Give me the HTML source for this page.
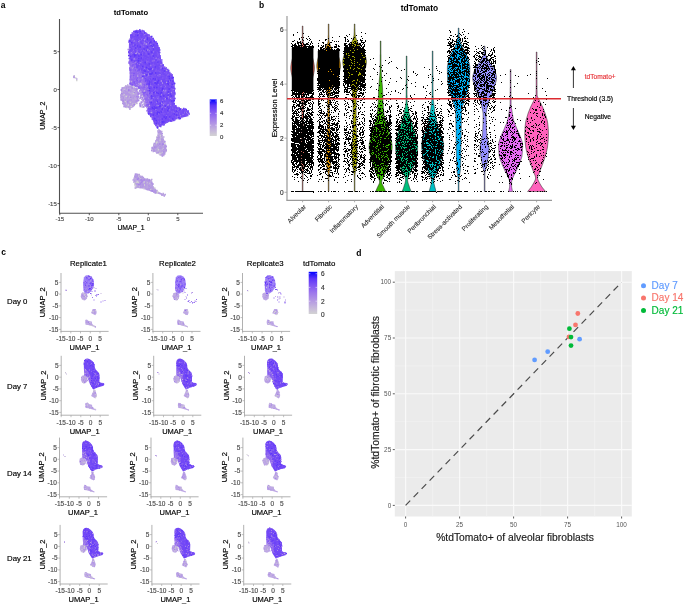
<!DOCTYPE html>
<html><head><meta charset="utf-8"><style>
html,body{margin:0;padding:0;background:#fff;width:685px;height:605px;overflow:hidden}
svg{display:block;font-family:"Liberation Sans", sans-serif;will-change:transform}
</style></head><body>
<svg width="685" height="605" viewBox="0 0 685 605">
<defs><linearGradient id="lg" x1="0" y1="1" x2="0" y2="0"><stop offset="0%" stop-color="#d3d3d3"/><stop offset="16.7%" stop-color="#c4b4dc"/><stop offset="33.3%" stop-color="#b296e4"/><stop offset="50%" stop-color="#9d77ec"/><stop offset="66.7%" stop-color="#8258f3"/><stop offset="83.3%" stop-color="#5e36f9"/><stop offset="100%" stop-color="#0000ff"/></linearGradient></defs>
<rect width="685" height="605" fill="#fff"/>
<text x="0.8" y="7.5" font-size="8.5" fill="#000" text-anchor="start" font-weight="bold">a</text>
<text x="130.9" y="14.9" font-size="7.7" fill="#000" text-anchor="middle" font-weight="bold">tdTomato</text>
<g>
<path d="M129 41.2L128.8 49.8L130.3 74.6L130.4 84.3L137.2 86.7L141.8 90.8L147.6 110.8L157.2 127.9L169.5 121.8L180.6 118.1L187.2 116.5L189.5 112.4L186.7 109.6L179.3 108.3L174.1 104.7L174.9 92.4L174.7 83.4L172.9 76.1L168 70L162.9 64.9L160.2 57.4L159.8 49.9L157.5 43.8L151.9 37.1L145.8 32.2L139.8 30.1L135 31L130.9 34.5L129 41.2Z" fill="#784ef5" fill-opacity="1.0"/>
<path d="M129.5 60.9L130.3 74.6L130.4 84.3L137.2 86.7L141.8 90.8L147.3 110L148.6 107.9L149.6 95L145.6 82.2L139.7 72.2L133.7 64.3L129.5 60.9Z" fill="#966eee" fill-opacity="1.0"/>
<path d="M121.6 87.7L120.3 97.3L123.9 106.4L129.9 108.8L133.3 107.2L137.1 102.8L138.6 95L137.1 89.2L132.8 85.9L127.5 85.2L121.6 87.7Z" fill="#b79ee2" fill-opacity="1.0"/>
<path d="M158.7 129.1L156.9 137.1L153.9 145.1L151.5 150L162.8 156.6L165.5 152.8L166.5 147L161.2 130.8L158.7 129.1Z" fill="#b79ee2" fill-opacity="1.0"/>
<path d="M134.8 173.2L133.7 179.7L134.9 187.6L142 188.6L164 195.8L164.7 194.4L157.8 191.5L153 186.5L151.9 179.6L148.7 179.6L143.1 177.6L138.3 173.7L134.8 173.2Z" fill="#b79ee2" fill-opacity="1.0"/>
<path transform="scale(.5)" stroke="#d3d3d3" stroke-width="3" d="M147 152h3m0 4h3m-1 5h3m95 11h3m-3 2h3m13 0h3m-18 2h3m28 1h3m-30 1h3m-11 1h3m1 0h3m16 0h3m1 0h3m2 2h3m-26 3h3m8 0h3m12 0h3m0 0h3m-26 3h3m1 0h3m-27 1h3m14 1h3m-21 1h3m3 0h3m35 0h3m-31 1h3m24 1h3m-43 1h3m4 0h3m3 1h3m-16 1h3m28 1h3m-18 2h3m0 2h3m8 0h3m-17 1h3m-18 1h3m40 0h3m-42 1h3m7 1h3m28 0h3m-21 3h3m-23 1h3m10 0h3m1 0h3m-17 2h3m3 3h3m18 0h3m-33 2h3m4 3h3m58 53h3m-4 1h3m1 1h3m-14 1h3m-2 0h3m4 0h3m-10 1h3m3 6h3m-11 3h3m-2 0h3m-3 3h3m0 0h3m10 0h3m-17 4h3m9 0h3m-22 3h3m-6 1h3m0 0h3m2 1h3m-5 1h3m12 1h3m-12 1h3m-16 1h3m8 0h3m-15 1h3m8 3h3m9 1h3m-11 1h3m0 0h3m-7 1h3m-43 43h3m-5 3h3m1 2h3m-4 1h3m0 0h3m-15 1h3m3 4h3m4 1h3m2 0h3m-17 2h3m0 0h3m9 1h3m3 0h3m-28 1h3m-1 1h3m2 0h3m21 0h3m-26 1h3m-11 1h3m32 0h3m-2 0h3m-19 1h3m-21 2h3m5 1h3m15 2h3m-29 1h3m35 0h3m-11 2h3m-3 1h3m10 3h3m-2 2h3m-8 1h3m0 1h3m8 4h3"/>
<path transform="scale(.5)" stroke="#ccc4d8" stroke-width="3" d="M266 136h3m3 10h3m4 8h3m-7 12h3m0 1h3m-1 0h3m-1 10h3m-6 4h3m5 1h3m-48 3h3m44 10h3m2 0h3m-2 1h3m-12 3h3m-2 3h3m-37 4h3m30 3h3m-11 1h3m31 73h3m-8 6h3m-24 88h3"/>
<path transform="scale(.5)" stroke="#c4b4dc" stroke-width="3" d="M257 125h3m3 12h3m7 6h3m-5 1h3m-15 2h3m-2 0h3m17 1h3m-16 4h3m-123 1h3m132 1h3m-12 2h3m8 0h3m-11 1h3m5 0h3m-15 1h3m6 3h3m-2 2h3m-2 0h3m-20 1h3m-1 0h3m18 0h3m-31 1h3m15 4h3m-18 1h3m-2 0h3m0 1h3m0 0h3m9 1h3m-1 0h3m-25 1h3m13 2h3m-23 2h3m-11 2h3m36 0h3m-23 1h3m7 0h3m-39 1h3m16 7h3m18 1h3m-15 5h3m-29 1h3m-9 1h3m1 0h3m19 0h3m-21 2h3m47 0h3m-55 1h3m21 0h3m-27 3h3m2 0h3m40 2h3m-15 2h3m-20 3h3m26 1h3m0 2h3m-7 3h3m-3 1h3m25 49h3m-8 4h3m3 6h3m-6 3h3m-3 3h3m-11 23h3m16 0h3m-19 1h3m-1 0h3m8 1h3m-11 5h3m-41 43h3m-17 3h3m13 0h3m10 3h3m-23 1h3m-8 2h3m27 0h3m-26 6h3m14 3h3m4 9h3m23 10h3"/>
<path transform="scale(.5)" stroke="#bba5e0" stroke-width="3" d="M269 68h3m15 12h3m-24 2h3m22 6h3m11 7h3m-21 4h3m-20 2h3m10 1h3m-15 6h3m-15 21h3m3 0h3m6 10h3m55 2h3m-75 1h3m24 1h3m-24 2h3m1 2h3m31 1h3m-47 1h3m24 0h3m-18 1h3m-2 3h3m-2 0h3m0 0h3m-15 1h3m9 0h3m-133 1h3m2 3h3m118 1h3m10 1h3m-1 0h3m49 0h3m-82 2h3m11 0h3m-10 1h3m4 0h3m54 2h3m-81 5h3m24 0h3m7 0h3m-33 1h3m11 0h3m-28 1h3m-1 1h3m-4 2h3m-8 1h3m10 0h3m-6 1h3m-1 0h3m11 0h3m-21 1h3m35 0h3m-40 1h3m7 1h3m24 0h3m0 0h3m-52 1h3m6 0h3m2 0h3m1 0h3m-20 1h3m6 1h3m-12 1h3m9 0h3m10 0h3m11 0h3m-43 1h3m48 0h3m-38 1h3m22 1h3m-36 1h3m36 0h3m-35 1h3m-24 1h3m16 0h3m-15 1h3m4 0h3m34 0h3m-51 2h3m28 0h3m-2 0h3m-21 2h3m2 0h3m1 0h3m-28 1h3m6 0h3m-1 0h3m9 0h3m-21 1h3m7 0h3m19 0h3m59 0h3m1 0h3m-104 1h3m2 0h3m17 0h3m-12 1h3m2 0h3m15 0h3m-44 1h3m16 0h3m0 0h3m-22 1h3m45 0h3m-43 1h3m5 0h3m-17 1h3m12 0h3m-8 1h3m-5 2h3m15 0h3m6 0h3m5 0h3m30 0h3m-47 1h3m-21 2h3m3 0h3m22 0h3m31 0h3m-62 2h3m22 0h3m21 0h3m-68 1h3m-6 1h3m33 1h3m6 0h3m59 6h3m-50 18h3m6 22h3m-5 2h3m5 1h3m-7 1h3m0 1h3m-6 8h3m5 1h3m-6 2h3m-4 4h3m-15 2h3m12 1h3m-9 1h3m6 0h3m-14 1h3m-11 3h3m-2 0h3m2 0h3m-12 2h3m4 1h3m-2 0h3m0 0h3m-2 0h3m-15 2h3m20 0h3m-24 2h3m4 0h3m9 0h3m-27 1h3m16 0h3m-16 1h3m6 0h3m0 2h3m7 0h3m-21 1h3m3 0h3m-2 1h3m7 1h3m-28 1h3m4 1h3m4 0h3m-8 1h3m-5 1h3m13 0h3m-3 2h3m-5 3h3m-57 38h3m2 0h3m-12 4h3m-2 0h3m11 0h3m-7 1h3m0 0h3m-17 2h3m12 0h3m-2 0h3m-10 1h3m3 0h3m0 0h3m-22 1h3m23 0h3m6 1h3m-29 1h3m-4 1h3m0 0h3m-1 1h3m2 0h3m9 0h3m-23 1h3m3 0h3m-20 1h3m23 1h3m6 1h3m-34 1h3m19 0h3m-20 1h3m26 0h3m-34 1h3m-1 1h3m7 0h3m-13 1h3m14 0h3m3 0h3m-6 1h3m0 1h3m-14 1h3m3 0h3m9 0h3m-36 1h3m2 0h3m13 0h3m4 0h3m-34 1h3m34 2h3m0 1h3m-9 2h3m6 0h3m-7 2h3m0 2h3m11 2h3m1 2h3m-8 1h3"/>
<path transform="scale(.5)" stroke="#b296e4" stroke-width="3" d="M285 66h3m-2 1h3m8 5h3m-13 5h3m-31 1h3m22 0h3m-22 1h3m18 0h3m-30 1h3m16 0h3m-5 4h3m9 1h3m-10 4h3m3 0h3m10 0h3m0 0h3m-39 1h3m31 2h3m-45 5h3m38 1h3m-6 3h3m-27 2h3m-4 1h3m7 0h3m20 0h3m9 1h3m-62 1h3m1 0h3m11 1h3m11 0h3m-23 1h3m29 1h3m-48 2h3m17 1h3m28 2h3m0 3h3m-47 1h3m6 3h3m34 2h3m-46 1h3m5 1h3m-4 3h3m40 2h3m-58 4h3m53 2h3m-58 1h3m18 2h3m5 1h3m-20 1h3m38 3h3m-26 4h3m35 1h3m-42 3h3m16 0h3m-171 2h3m115 0h3m31 4h3m-12 3h3m29 1h3m13 0h3m-40 1h3m6 0h3m12 3h3m8 2h3m-74 2h3m33 1h3m-9 1h3m24 1h3m4 0h3m-70 1h3m-13 1h3m2 0h3m-16 1h3m22 1h3m0 0h3m-23 1h3m19 0h3m20 1h3m9 0h3m-69 1h3m25 0h3m-25 1h3m8 0h3m-2 0h3m62 0h3m-72 1h3m12 0h3m4 0h3m25 0h3m-59 1h3m7 0h3m15 0h3m-7 1h3m2 0h3m0 0h3m-2 0h3m-40 1h3m5 0h3m16 0h3m65 0h3m-43 1h3m5 0h3m-61 1h3m20 0h3m1 0h3m0 0h3m35 0h3m4 0h3m19 0h3m-109 1h3m-2 0h3m4 0h3m0 0h3m-1 0h3m27 0h3m-31 1h3m14 0h3m58 0h3m-79 1h3m20 0h3m16 0h3m17 0h3m3 0h3m-89 2h3m12 0h3m22 0h3m4 0h3m-49 1h3m22 0h3m-25 1h3m26 0h3m37 0h3m18 0h3m-93 1h3m6 0h3m48 0h3m27 0h3m-73 1h3m5 0h3m8 1h3m2 0h3m37 0h3m-87 1h3m36 0h3m-46 1h3m17 0h3m-21 1h3m3 0h3m6 0h3m-4 1h3m2 0h3m6 0h3m2 0h3m44 0h3m-72 1h3m27 0h3m-17 1h3m39 1h3m29 0h3m-100 2h3m-6 1h3m10 0h3m27 0h3m0 0h3m-47 1h3m4 0h3m23 0h3m65 0h3m-70 2h3m6 0h3m20 0h3m20 0h3m-13 2h3m-81 1h3m-1 0h3m34 0h3m46 0h3m-88 1h3m70 1h3m17 2h3m-88 1h3m100 0h3m-53 1h3m55 0h3m-25 2h3m-14 2h3m7 0h3m-54 2h3m4 0h3m67 0h3m-76 1h3m14 1h3m12 3h3m26 3h3m-57 10h3m9 0h3m-13 1h3m3 0h3m10 1h3m-11 18h3m-4 1h3m-6 1h3m5 2h3m-4 5h3m-12 3h3m0 0h3m3 4h3m-2 4h3m2 0h3m-24 4h3m4 1h3m8 0h3m-5 2h3m-11 1h3m12 0h3m-6 1h3m-18 1h3m4 0h3m9 0h3m-5 1h3m-29 1h3m-1 1h3m0 0h3m-1 0h3m-2 0h3m7 0h3m4 0h3m-28 1h3m-2 0h3m11 0h3m8 0h3m-6 2h3m-23 1h3m-7 1h3m26 0h3m-27 1h3m5 3h3m9 2h3m-5 1h3m-5 4h3m-56 37h3m1 1h3m-8 3h3m1 0h3m-6 2h3m7 0h3m2 0h3m-13 1h3m4 3h3m8 0h3m-31 1h3m11 1h3m3 0h3m3 0h3m-2 0h3m2 1h3m-5 1h3m-16 1h3m-2 1h3m16 0h3m-16 1h3m9 1h3m-31 1h3m28 0h3m-24 1h3m-1 1h3m2 0h3m10 0h3m-10 1h3m-20 1h3m2 1h3m10 0h3m-20 2h3m13 1h3m1 0h3m-6 2h3m-7 1h3m4 2h3m0 0h3m3 0h3m-5 2h3m-4 1h3m0 0h3m-3 2h3m10 4h3m2 2h3"/>
<path transform="scale(.5)" stroke="#a886e8" stroke-width="3" d="M266 65h3m4 0h3m12 1h3m-4 1h3m-14 1h3m10 0h3m-5 2h3m7 0h3m-22 3h3m9 3h3m-12 3h3m7 0h3m8 0h3m-34 2h3m15 2h3m14 0h3m-50 3h3m33 0h3m0 4h3m-28 3h3m9 0h3m-27 2h3m13 0h3m35 0h3m-10 2h3m-56 2h3m27 0h3m6 1h3m-33 1h3m19 0h3m0 0h3m-18 2h3m6 0h3m-10 3h3m-2 1h3m-18 1h3m18 1h3m31 9h3m-40 4h3m-15 2h3m-1 1h3m-16 1h3m20 0h3m-3 1h3m-15 1h3m51 1h3m-57 3h3m56 2h3m-2 0h3m-70 1h3m2 0h3m19 2h3m13 1h3m-7 1h3m0 1h3m-47 1h3m2 1h3m2 2h3m9 0h3m-8 3h3m37 0h3m-51 2h3m47 0h3m-1 0h3m20 1h3m-85 3h3m1 2h3m6 0h3m5 3h3m-16 2h3m72 0h3m-82 5h3m38 1h3m-8 2h3m32 0h3m-23 1h3m-32 2h3m1 0h3m52 0h3m-61 1h3m-6 1h3m57 0h3m-46 1h3m-42 2h3m11 0h3m12 0h3m24 0h3m26 2h3m-79 1h3m70 0h3m-107 1h3m28 0h3m3 1h3m49 0h3m-4 1h3m-26 1h3m20 0h3m-65 2h3m5 1h3m24 0h3m-63 1h3m91 0h3m-63 1h3m-4 1h3m2 1h3m20 1h3m-34 2h3m11 0h3m-1 0h3m-16 1h3m1 0h3m6 0h3m-31 1h3m20 0h3m-6 1h3m52 0h3m-64 2h3m37 0h3m-31 1h3m13 1h3m23 0h3m15 0h3m-74 1h3m7 0h3m11 0h3m11 0h3m28 0h3m-102 1h3m25 0h3m34 1h3m-59 1h3m24 0h3m3 0h3m-8 1h3m41 2h3m9 0h3m4 0h3m-81 2h3m13 1h3m2 0h3m-1 0h3m47 0h3m-64 1h3m7 0h3m-13 2h3m4 1h3m40 1h3m23 0h3m-53 2h3m29 2h3m8 6h3m16 0h3m-74 1h3m55 0h3m17 0h3m-59 1h3m36 1h3m-30 1h3m31 0h3m-7 3h3m-61 1h3m49 0h3m5 2h3m-26 1h3m12 1h3m1 0h3m-4 1h3m-18 4h3m-22 3h3m-12 5h3m-1 2h3m-1 36h3m3 0h3m-2 1h3m-20 5h3m15 10h3m-54 53h3m-4 2h3m4 1h3m3 0h3m7 0h3m-17 2h3m-5 3h3m-5 3h3m-6 1h3m24 13h3"/>
<path transform="scale(.5)" stroke="#9d77ec" stroke-width="3" d="M290 67h3m2 19h3m-1 1h3m-2 1h3m-28 3h3m-4 6h3m-17 1h3m9 5h3m-4 1h3m-14 18h3m4 5h3m6 0h3m-13 2h3m-4 1h3m34 1h3m-38 1h3m-1 0h3m-2 0h3m-2 0h3m-9 1h3m1 0h3m-9 1h3m4 0h3m-12 1h3m6 2h3m-2 0h3m-7 2h3m6 1h3m-6 1h3m-4 1h3m-1 0h3m-11 1h3m-1 0h3m5 1h3m-5 1h3m-13 1h3m8 0h3m-5 1h3m-14 1h3m1 0h3m1 1h3m12 0h3m-27 1h3m6 0h3m9 0h3m-19 1h3m-1 1h3m-1 1h3m6 0h3m38 0h3m-55 2h3m-2 0h3m5 0h3m-1 0h3m24 1h3m-42 1h3m2 0h3m5 0h3m-18 1h3m11 0h3m-21 1h3m0 0h3m21 0h3m-28 1h3m7 0h3m2 0h3m8 0h3m-22 1h3m-1 0h3m-14 1h3m2 0h3m2 0h3m8 0h3m-19 1h3m23 0h3m-11 1h3m4 0h3m-27 1h3m9 0h3m5 0h3m0 0h3m-29 1h3m8 0h3m1 0h3m10 0h3m-34 1h3m24 0h3m2 0h3m-28 1h3m-2 1h3m14 0h3m-2 1h3m-19 1h3m1 0h3m9 0h3m-15 1h3m-2 0h3m1 0h3m2 0h3m-15 1h3m-1 0h3m4 1h3m3 0h3m-6 1h3m-4 1h3m2 0h3m1 0h3m-10 1h3m-1 1h3m-9 1h3m3 0h3m1 0h3m-37 1h3m22 0h3m1 0h3m-5 1h3m4 0h3m-1 0h3m-11 1h3m3 0h3m1 1h3m-1 0h3m-10 2h3m-5 1h3m0 0h3m-2 0h3m-2 1h3m-7 1h3m-4 1h3m1 0h3m-8 1h3m7 0h3m-11 1h3m-3 1h3m-2 0h3m3 0h3m-5 1h3m-2 1h3m0 0h3m-10 1h3m1 1h3m1 0h3m-13 1h3m-2 1h3m0 0h3m-4 2h3m3 0h3m-10 1h3m2 0h3m-8 1h3m-1 0h3m-5 3h3m1 0h3m-1 1h3m-3 1h3m0 2h3m-8 1h3m-7 2h3m1 9h3m-4 1h3m16 0h3m5 25h3"/>
<path transform="scale(.5)" stroke="#9068ef" stroke-width="3" d="M267 70h3m27 2h3m0 2h3m-47 10h3m30 2h3m5 3h3m-2 1h3m-33 3h3m-6 2h3m29 1h3m-13 3h3m-19 4h3m-13 4h3m25 2h3m-23 10h3m35 2h3m-17 1h3m8 0h3m-50 1h3m32 1h3m-33 1h3m-5 1h3m5 1h3m21 1h3m-36 1h3m2 1h3m0 0h3m-10 1h3m4 0h3m-3 1h3m-2 0h3m-3 1h3m-13 3h3m6 1h3m-12 1h3m1 0h3m1 0h3m-8 1h3m62 1h3m-68 1h3m1 0h3m6 0h3m-1 0h3m23 0h3m-46 1h3m8 0h3m-2 1h3m-7 1h3m1 0h3m-14 1h3m6 0h3m-2 0h3m-2 0h3m4 0h3m18 0h3m-43 1h3m1 0h3m-1 0h3m1 0h3m4 0h3m-18 1h3m11 0h3m2 0h3m-14 1h3m0 0h3m66 0h3m-17 1h3m-59 1h3m4 0h3m-21 1h3m8 0h3m8 0h3m-23 1h3m5 0h3m4 0h3m-9 1h3m4 1h3m-16 1h3m12 0h3m7 0h3m-24 1h3m-1 0h3m4 0h3m19 0h3m13 0h3m-33 1h3m-30 1h3m5 0h3m10 0h3m-21 1h3m6 0h3m12 0h3m-24 1h3m13 0h3m52 0h3m-66 1h3m5 0h3m1 0h3m-2 0h3m-5 1h3m-2 0h3m-22 1h3m1 0h3m1 0h3m22 0h3m-35 1h3m5 0h3m0 0h3m6 0h3m-2 0h3m-2 0h3m-28 1h3m7 0h3m-18 1h3m11 0h3m13 0h3m1 0h3m-37 1h3m0 0h3m6 0h3m-1 0h3m-7 1h3m-13 1h3m-1 0h3m-2 0h3m1 0h3m-2 0h3m15 0h3m-25 1h3m2 0h3m17 0h3m-20 1h3m-5 1h3m73 0h3m-73 1h3m-2 0h3m-1 1h3m62 0h3m-64 1h3m-1 0h3m-2 0h3m33 0h3m-45 1h3m1 0h3m50 0h3m-56 1h3m0 0h3m2 0h3m-8 1h3m2 0h3m-2 2h3m-2 1h3m0 2h3m-16 1h3m-2 0h3m6 0h3m1 0h3m-16 1h3m0 1h3m3 1h3m16 0h3m-30 2h3m-1 0h3m1 0h3m1 1h3m-11 1h3m4 0h3m-3 1h3m-2 0h3m-1 3h3m2 0h3m4 0h3m-19 1h3m1 0h3m42 1h3m-55 1h3m-2 0h3m48 0h3m-53 1h3m-4 1h3m1 0h3m-1 0h3m22 1h3m-26 1h3m-8 1h3m-5 2h3m-1 0h3m-2 6h3m-5 2h3m1 2h3m50 3h3m-60 3h3m5 1h3m19 0h3m30 2h3m-1 11h3m-58 3h3m20 4h3m-7 3h3"/>
<path transform="scale(.5)" stroke="#8258f3" stroke-width="3" d="M278 60h3m-9 1h3m8 0h3m-11 1h3m4 1h3m-13 2h3m-12 1h3m0 1h3m22 0h3m-9 1h3m-23 1h3m-2 0h3m9 0h3m14 1h3m-9 1h3m-1 0h3m3 0h3m-39 1h3m12 0h3m-11 1h3m-2 0h3m-2 0h3m16 0h3m-22 1h3m13 2h3m-24 1h3m7 0h3m2 0h3m-9 1h3m8 0h3m10 0h3m-2 0h3m3 0h3m-48 1h3m14 0h3m-2 0h3m11 0h3m-30 1h3m33 0h3m-2 0h3m-40 2h3m30 0h3m-40 1h3m21 0h3m2 0h3m11 0h3m-13 1h3m8 0h3m-37 1h3m-15 1h3m-1 0h3m10 0h3m-1 0h3m0 0h3m3 0h3m6 2h3m16 0h3m-21 1h3m-36 1h3m44 0h3m-50 1h3m13 0h3m-23 1h3m25 0h3m11 0h3m-36 1h3m13 0h3m-25 1h3m2 0h3m0 0h3m0 1h3m4 0h3m-2 0h3m18 0h3m-26 1h3m34 0h3m-1 0h3m-48 1h3m23 0h3m-35 1h3m15 0h3m-16 1h3m-11 1h3m2 0h3m-1 1h3m-5 1h3m25 0h3m-43 1h3m21 0h3m13 0h3m3 1h3m2 0h3m-46 1h3m24 0h3m-35 1h3m52 0h3m-26 1h3m3 0h3m-16 1h3m0 0h3m-1 0h3m9 0h3m3 1h3m5 0h3m-46 1h3m-18 1h3m8 0h3m-2 0h3m-2 0h3m0 0h3m1 0h3m9 0h3m3 0h3m5 0h3m-20 1h3m25 0h3m-40 1h3m3 0h3m9 0h3m3 0h3m-42 1h3m25 0h3m16 0h3m-32 1h3m-2 0h3m-1 0h3m20 0h3m-2 0h3m9 0h3m-3 1h3m-47 1h3m40 0h3m-27 1h3m16 0h3m-45 1h3m10 0h3m-9 1h3m-21 1h3m-1 0h3m49 0h3m1 0h3m-26 1h3m-34 1h3m-1 0h3m11 0h3m0 0h3m10 0h3m-9 1h3m7 0h3m-46 2h3m52 0h3m-31 1h3m-6 1h3m-18 1h3m28 0h3m5 0h3m-44 1h3m7 1h3m-1 0h3m41 0h3m1 0h3m-64 1h3m22 0h3m16 0h3m13 0h3m-8 1h3m0 0h3m-30 1h3m-29 1h3m6 0h3m2 0h3m24 0h3m-16 1h3m2 0h3m-29 3h3m1 0h3m19 0h3m-45 1h3m7 0h3m17 0h3m19 0h3m14 0h3m-57 2h3m5 0h3m15 0h3m7 0h3m2 0h3m6 0h3m0 0h3m-42 1h3m2 0h3m7 0h3m13 0h3m5 0h3m-44 1h3m-8 1h3m8 0h3m3 0h3m10 0h3m14 0h3m7 0h3m-53 1h3m41 0h3m-69 1h3m-2 0h3m22 0h3m2 0h3m8 0h3m-7 1h3m-5 1h3m-1 0h3m0 0h3m17 0h3m-21 1h3m12 0h3m0 0h3m13 0h3m-80 1h3m29 0h3m1 0h3m14 0h3m18 0h3m-27 1h3m21 0h3m-48 1h3m21 0h3m-63 1h3m19 0h3m18 0h3m-1 0h3m25 0h3m-61 2h3m16 0h3m1 0h3m24 0h3m-30 1h3m2 0h3m31 0h3m-28 1h3m-42 1h3m14 0h3m39 0h3m1 0h3m-22 1h3m6 0h3m16 0h3m-74 1h3m3 1h3m7 0h3m13 0h3m11 0h3m-25 1h3m3 0h3m-2 0h3m-40 1h3m28 0h3m11 0h3m13 0h3m5 0h3m2 0h3m-77 2h3m48 0h3m-62 1h3m66 0h3m-19 1h3m14 0h3m13 0h3m-85 1h3m26 0h3m8 0h3m6 0h3m4 0h3m7 0h3m8 0h3m-55 1h3m12 0h3m3 0h3m1 0h3m-29 4h3m44 1h3m-61 1h3m40 0h3m0 0h3m-30 1h3m6 0h3m34 0h3m4 0h3m-31 2h3m19 0h3m-6 1h3m-48 1h3m16 1h3m26 0h3m1 0h3m-25 1h3m4 0h3m12 0h3m-50 1h3m-13 1h3m16 0h3m22 0h3m3 0h3m-56 1h3m12 0h3m26 1h3m9 0h3m-36 1h3m2 0h3m12 0h3m-29 1h3m0 0h3m25 0h3m11 0h3m-58 1h3m32 0h3m6 1h3m5 0h3m-2 0h3m-43 1h3m37 0h3m-32 1h3m10 0h3m-22 1h3m-15 1h3m12 0h3m20 0h3m6 0h3m-22 1h3m3 0h3m-36 1h3m-2 0h3m3 0h3m38 0h3m-50 1h3m35 1h3m-35 1h3m4 0h3m26 0h3m-20 1h3m-13 1h3m-16 1h3m38 0h3m-30 1h3m10 1h3m-27 1h3m21 0h3m5 0h3m-37 1h3m18 0h3m16 0h3m-43 1h3m22 0h3m6 0h3m-46 1h3m14 0h3m8 0h3m15 0h3m1 0h3m-1 0h3m-58 1h3m5 0h3m44 0h3m-41 1h3m38 1h3m-32 1h3m2 0h3m2 0h3m2 0h3m-39 1h3m1 2h3m33 0h3m-21 1h3m-21 1h3m-2 0h3m17 0h3m14 0h3m2 0h3m8 0h3m-2 0h3m7 0h3m-24 1h3m2 0h3m-57 1h3m10 0h3m5 0h3m16 0h3m16 0h3m-21 1h3m13 0h3m1 0h3m6 0h3m-48 1h3m44 0h3m-64 1h3m29 0h3m2 0h3m0 0h3m-57 1h3m17 0h3m31 0h3m-42 1h3m-19 1h3m-2 0h3m-2 0h3m33 0h3m15 0h3m0 0h3m-39 1h3m8 0h3m-15 1h3m1 0h3m1 0h3m14 0h3m-36 2h3m13 0h3m2 0h3m12 0h3m3 0h3m2 0h3m-10 1h3m0 0h3m7 0h3m9 0h3m-51 1h3m18 0h3m0 0h3m-2 0h3m-54 1h3m7 0h3m35 0h3m-42 1h3m39 0h3m-49 1h3m44 0h3m-28 1h3m0 0h3m-18 1h3m2 0h3m-1 1h3m14 0h3m0 0h3m-2 2h3m2 0h3m-44 1h3m15 0h3m-11 1h3m2 0h3m2 0h3m12 0h3m-20 1h3m5 1h3m-29 2h3m5 0h3m-9 1h3m-4 1h3m-1 0h3m-2 0h3m0 0h3m0 1h3m7 0h3m-4 1h3m-19 1h3m-2 0h3m4 1h3"/>
<path transform="scale(.5)" stroke="#7248f6" stroke-width="3" d="M278 60h3m-12 2h3m14 0h3m-23 1h3m2 0h3m0 0h3m-2 1h3m9 0h3m-3 2h3m-12 1h3m0 0h3m-1 0h3m-17 1h3m3 1h3m-18 1h3m-1 0h3m8 0h3m8 0h3m-17 1h3m8 0h3m-1 0h3m3 0h3m0 0h3m-35 1h3m0 0h3m14 0h3m7 0h3m-29 1h3m1 0h3m0 1h3m3 0h3m1 0h3m-23 2h3m11 0h3m10 0h3m-6 1h3m9 0h3m5 0h3m-35 2h3m3 0h3m-12 1h3m10 0h3m11 0h3m-1 0h3m-1 0h3m-47 1h3m25 0h3m9 0h3m7 0h3m-51 1h3m11 0h3m13 0h3m-12 1h3m6 0h3m9 0h3m-24 1h3m28 0h3m-33 1h3m9 0h3m5 0h3m5 0h3m-38 1h3m25 0h3m-22 1h3m-24 1h3m16 0h3m13 0h3m3 1h3m-2 0h3m-33 1h3m10 0h3m-14 1h3m-1 0h3m29 0h3m1 0h3m-20 1h3m-1 0h3m-38 1h3m0 0h3m37 0h3m-36 1h3m-1 0h3m0 0h3m13 0h3m-38 1h3m12 0h3m30 0h3m3 0h3m-27 1h3m3 0h3m11 0h3m3 0h3m-58 1h3m12 0h3m6 0h3m16 0h3m-6 1h3m5 0h3m1 0h3m-18 1h3m16 0h3m-61 1h3m1 0h3m2 0h3m13 0h3m1 0h3m21 0h3m3 0h3m-17 1h3m7 0h3m-47 1h3m10 0h3m29 0h3m-43 1h3m6 0h3m-18 1h3m10 0h3m9 0h3m3 0h3m6 0h3m-56 1h3m18 0h3m1 0h3m19 0h3m4 0h3m3 0h3m-1 0h3m-64 1h3m27 0h3m17 0h3m0 0h3m-25 1h3m3 0h3m4 0h3m-18 1h3m8 0h3m-37 1h3m8 0h3m30 0h3m-37 1h3m4 0h3m-2 0h3m-20 1h3m3 0h3m8 0h3m-2 0h3m1 0h3m-1 0h3m-1 0h3m17 0h3m-49 1h3m21 0h3m16 0h3m1 0h3m5 0h3m-44 1h3m8 0h3m-20 1h3m17 0h3m5 0h3m-8 1h3m10 0h3m3 0h3m-60 2h3m0 0h3m27 0h3m10 0h3m13 0h3m-22 1h3m-23 1h3m2 0h3m23 0h3m-37 1h3m3 0h3m-1 0h3m6 0h3m13 0h3m9 0h3m-54 1h3m5 1h3m17 0h3m9 0h3m-46 1h3m18 0h3m27 0h3m-47 1h3m44 0h3m-52 1h3m9 0h3m13 0h3m-27 1h3m6 0h3m13 0h3m-2 0h3m2 0h3m0 0h3m8 0h3m-49 1h3m22 0h3m-33 1h3m6 0h3m7 0h3m-2 0h3m-1 1h3m-15 1h3m9 0h3m15 0h3m3 0h3m-45 1h3m17 0h3m18 0h3m-46 1h3m21 0h3m13 0h3m-4 1h3m-42 2h3m14 0h3m22 0h3m-20 1h3m-2 0h3m14 0h3m8 0h3m1 0h3m-51 1h3m5 0h3m3 0h3m9 0h3m-30 1h3m16 0h3m10 0h3m8 0h3m-41 1h3m17 0h3m24 0h3m-60 1h3m2 0h3m38 0h3m-40 1h3m17 0h3m15 0h3m9 0h3m-38 1h3m-1 0h3m-1 0h3m-18 1h3m2 0h3m32 0h3m2 0h3m-45 1h3m20 1h3m5 0h3m-42 1h3m22 0h3m1 0h3m2 0h3m3 0h3m-29 1h3m14 0h3m0 0h3m-19 1h3m0 0h3m18 0h3m4 0h3m-15 1h3m1 0h3m-17 2h3m14 0h3m9 0h3m-59 2h3m12 0h3m31 0h3m-23 1h3m4 0h3m-10 1h3m1 0h3m-5 1h3m-2 0h3m20 0h3m-54 1h3m7 0h3m36 0h3m3 0h3m-31 1h3m-20 1h3m2 0h3m-2 0h3m1 0h3m15 0h3m-16 1h3m7 0h3m-37 1h3m4 0h3m8 0h3m-2 0h3m13 0h3m8 0h3m-49 1h3m1 0h3m4 0h3m-2 0h3m-3 1h3m9 0h3m8 0h3m-2 0h3m0 0h3m-19 2h3m-23 1h3m5 0h3m15 0h3m4 0h3m0 0h3m10 0h3m-52 1h3m0 0h3m18 0h3m13 0h3m0 0h3m9 0h3m-47 1h3m23 0h3m-41 1h3m2 0h3m1 0h3m13 0h3m-7 1h3m1 0h3m-2 0h3m-1 1h3m-27 1h3m-1 0h3m7 0h3m-1 0h3m14 1h3m15 0h3m-47 1h3m19 0h3m-14 1h3m3 0h3m13 0h3m7 0h3m-2 0h3m-30 1h3m14 0h3m-36 1h3m16 0h3m0 0h3m12 0h3m5 0h3m-42 1h3m24 0h3m-21 1h3m-14 2h3m10 0h3m18 0h3m4 0h3m-51 1h3m36 1h3m-2 0h3m-43 1h3m5 0h3m7 0h3m18 0h3m-24 1h3m-2 0h3m0 0h3m24 0h3m-39 1h3m3 0h3m3 0h3m6 0h3m-38 1h3m5 0h3m39 0h3m-25 1h3m-23 1h3m21 0h3m6 1h3m-41 1h3m3 0h3m7 0h3m5 0h3m0 0h3m2 0h3m6 0h3m-43 1h3m8 0h3m4 0h3m9 0h3m10 0h3m-43 1h3m1 0h3m26 0h3m-2 0h3m-33 1h3m6 0h3m9 0h3m-11 2h3m8 0h3m7 0h3m-12 1h3m11 0h3m-25 1h3m17 0h3m-43 2h3m1 0h3m-1 0h3m-1 0h3m5 0h3m13 0h3m-2 0h3m-31 1h3m30 0h3m-20 1h3m-2 0h3m-22 2h3m32 0h3m-48 1h3m3 1h3m6 0h3m2 0h3m22 0h3m-3 1h3m0 0h3m-50 1h3m42 0h3m-44 1h3m8 0h3m-8 1h3m30 0h3m-27 1h3m2 0h3m10 0h3m-31 1h3m38 0h3m-34 2h3m16 0h3m-28 1h3m2 0h3m-6 1h3m6 0h3m15 0h3m3 0h3m1 0h3m2 0h3m-64 1h3m5 0h3m9 0h3m-1 0h3m7 0h3m35 0h3m-71 1h3m-1 0h3m39 0h3m13 0h3m-28 1h3m-2 0h3m-2 0h3m5 0h3m21 0h3m-47 1h3m3 0h3m9 0h3m1 0h3m-2 0h3m-2 0h3m16 0h3m-57 1h3m5 0h3m6 0h3m25 0h3m-32 1h3m17 0h3m14 0h3m7 0h3m-82 1h3m36 0h3m9 0h3m0 0h3m-24 1h3m6 0h3m-33 1h3m20 0h3m15 0h3m3 0h3m7 0h3m-2 0h3m5 0h3m-72 1h3m57 0h3m2 0h3m-77 1h3m0 0h3m4 0h3m8 0h3m11 0h3m22 0h3m-52 1h3m10 0h3m20 0h3m31 0h3m-79 1h3m28 0h3m-1 0h3m6 0h3m16 0h3m-66 1h3m21 0h3m3 0h3m20 0h3m1 0h3m-50 1h3m-2 0h3m12 0h3m24 0h3m-1 0h3m11 0h3m-71 1h3m23 0h3m12 0h3m2 0h3m16 0h3m-56 1h3m0 0h3m8 0h3m32 0h3m-37 1h3m17 0h3m-44 2h3m18 0h3m10 0h3m0 0h3m11 0h3m-29 1h3m-29 1h3m-3 1h3m0 0h3m23 0h3m-2 1h3m-21 1h3m6 0h3m17 0h3m-42 1h3m20 0h3m-25 1h3m2 0h3m11 0h3m-12 1h3m2 0h3m-18 1h3m3 0h3m11 0h3m-19 1h3m10 0h3m-12 1h3m6 0h3m-7 1h3m-1 1h3m-8 1h3m-1 3h3m-9 3h3"/>
<path transform="scale(.5)" stroke="#5e36f9" stroke-width="3" d="M271 63h3m5 0h3m-13 1h3m1 1h3m12 1h3m-17 5h3m25 2h3m-12 3h3m-3 3h3m-38 3h3m46 1h3m-10 1h3m-41 1h3m33 1h3m12 1h3m-48 3h3m35 0h3m-8 1h3m-31 1h3m27 1h3m-27 1h3m11 0h3m-26 2h3m14 2h3m16 0h3m-18 3h3m8 3h3m-9 4h3m-32 1h3m11 0h3m-14 1h3m-17 1h3m9 1h3m5 0h3m26 0h3m-48 1h3m18 3h3m-8 1h3m-17 3h3m10 1h3m-2 1h3m35 2h3m-28 1h3m5 3h3m25 2h3m-44 3h3m22 1h3m-20 1h3m6 2h3m19 0h3m-30 1h3m0 1h3m-15 3h3m-1 0h3m35 0h3m-27 4h3m4 0h3m-15 2h3m0 0h3m-12 2h3m-11 3h3m50 0h3m5 2h3m-5 1h3m-41 1h3m29 0h3m-31 1h3m28 2h3m-27 1h3m21 0h3m1 1h3m-12 1h3m-40 1h3m13 0h3m-7 1h3m-6 1h3m0 0h3m1 0h3m17 1h3m10 0h3m-53 1h3m11 0h3m21 1h3m5 0h3m-4 5h3m-38 1h3m2 0h3m-17 2h3m23 0h3m10 1h3m-17 2h3m-29 1h3m35 3h3m-32 1h3m3 0h3m6 0h3m-9 2h3m1 1h3m17 0h3m-7 2h3m-36 2h3m21 0h3m12 0h3m-24 1h3m-21 3h3m27 1h3m12 4h3m-8 1h3m1 0h3m-36 1h3m7 1h3m-25 1h3m15 2h3m-3 5h3m7 0h3m-15 1h3m-13 1h3m24 0h3m-34 1h3m4 1h3m-1 0h3m-11 1h3m29 0h3m-32 1h3m13 0h3m33 1h3m9 0h3m-40 2h3m15 1h3m-41 2h3m4 0h3m-11 1h3m1 0h3m-24 3h3m14 0h3m31 0h3m-45 2h3m43 0h3m-27 4h3m1 0h3m4 0h3m15 1h3m-51 2h3m19 0h3m26 0h3m-39 1h3m18 0h3m-36 3h3m26 1h3m-20 1h3m0 1h3m-6 1h3m-15 2h3m-1 8h3"/>
</g>
<line x1="59.5" y1="19" x2="59.5" y2="213.3" stroke="#505050" stroke-width="1.1"/>
<line x1="59" y1="213.2" x2="203" y2="213.2" stroke="#505050" stroke-width="1.1"/>
<line x1="57.5" y1="51.7" x2="59.5" y2="51.7" stroke="#333" stroke-width="0.8"/>
<text x="56.8" y="53.8" font-size="6" fill="#4d4d4d" text-anchor="end" stroke="#4d4d4d" stroke-width="0.16">5</text>
<line x1="57.5" y1="89.5" x2="59.5" y2="89.5" stroke="#333" stroke-width="0.8"/>
<text x="56.8" y="91.6" font-size="6" fill="#4d4d4d" text-anchor="end" stroke="#4d4d4d" stroke-width="0.16">0</text>
<line x1="57.5" y1="127.6" x2="59.5" y2="127.6" stroke="#333" stroke-width="0.8"/>
<text x="56.8" y="129.7" font-size="6" fill="#4d4d4d" text-anchor="end" stroke="#4d4d4d" stroke-width="0.16">-5</text>
<line x1="57.5" y1="165.6" x2="59.5" y2="165.6" stroke="#333" stroke-width="0.8"/>
<text x="56.8" y="167.7" font-size="6" fill="#4d4d4d" text-anchor="end" stroke="#4d4d4d" stroke-width="0.16">-10</text>
<line x1="57.5" y1="203.6" x2="59.5" y2="203.6" stroke="#333" stroke-width="0.8"/>
<text x="56.8" y="205.7" font-size="6" fill="#4d4d4d" text-anchor="end" stroke="#4d4d4d" stroke-width="0.16">-15</text>
<line x1="59.8" y1="213.2" x2="59.8" y2="215.2" stroke="#333" stroke-width="0.8"/>
<text x="59.8" y="221.2" font-size="6" fill="#4d4d4d" text-anchor="middle" stroke="#4d4d4d" stroke-width="0.16">-15</text>
<line x1="89.3" y1="213.2" x2="89.3" y2="215.2" stroke="#333" stroke-width="0.8"/>
<text x="89.3" y="221.2" font-size="6" fill="#4d4d4d" text-anchor="middle" stroke="#4d4d4d" stroke-width="0.16">-10</text>
<line x1="118.8" y1="213.2" x2="118.8" y2="215.2" stroke="#333" stroke-width="0.8"/>
<text x="118.8" y="221.2" font-size="6" fill="#4d4d4d" text-anchor="middle" stroke="#4d4d4d" stroke-width="0.16">-5</text>
<line x1="148.3" y1="213.2" x2="148.3" y2="215.2" stroke="#333" stroke-width="0.8"/>
<text x="148.3" y="221.2" font-size="6" fill="#4d4d4d" text-anchor="middle" stroke="#4d4d4d" stroke-width="0.16">0</text>
<line x1="177.8" y1="213.2" x2="177.8" y2="215.2" stroke="#333" stroke-width="0.8"/>
<text x="177.8" y="221.2" font-size="6" fill="#4d4d4d" text-anchor="middle" stroke="#4d4d4d" stroke-width="0.16">5</text>
<text x="131" y="229.5" font-size="6.8" fill="#000" text-anchor="middle" stroke="#000" stroke-width="0.16">UMAP_1</text>
<text x="45.2" y="115.7" font-size="7" fill="#000" text-anchor="middle" stroke="#000" stroke-width="0.16" transform="rotate(-90 45.2 115.7)">UMAP_2</text>
<rect x="209.7" y="99.4" width="7.1" height="36.6" fill="url(#lg)"/>
<line x1="209.7" y1="100.9" x2="211.2" y2="100.9" stroke="#fff" stroke-width="0.5"/>
<line x1="215.3" y1="100.9" x2="216.8" y2="100.9" stroke="#fff" stroke-width="0.5"/>
<text x="220" y="103" font-size="6" fill="#333" text-anchor="start" stroke="#333" stroke-width="0.16">6</text>
<line x1="209.7" y1="113.3" x2="211.2" y2="113.3" stroke="#fff" stroke-width="0.5"/>
<line x1="215.3" y1="113.3" x2="216.8" y2="113.3" stroke="#fff" stroke-width="0.5"/>
<text x="220" y="115.4" font-size="6" fill="#333" text-anchor="start" stroke="#333" stroke-width="0.16">4</text>
<line x1="209.7" y1="125.2" x2="211.2" y2="125.2" stroke="#fff" stroke-width="0.5"/>
<line x1="215.3" y1="125.2" x2="216.8" y2="125.2" stroke="#fff" stroke-width="0.5"/>
<text x="220" y="127.3" font-size="6" fill="#333" text-anchor="start" stroke="#333" stroke-width="0.16">2</text>
<line x1="209.7" y1="137" x2="211.2" y2="137" stroke="#fff" stroke-width="0.5"/>
<line x1="215.3" y1="137" x2="216.8" y2="137" stroke="#fff" stroke-width="0.5"/>
<text x="220" y="139.1" font-size="6" fill="#333" text-anchor="start" stroke="#333" stroke-width="0.16">0</text>
<text x="259" y="7.8" font-size="8.5" fill="#000" text-anchor="start" font-weight="bold">b</text>
<text x="419.4" y="11.4" font-size="8.4" fill="#000" text-anchor="middle" font-weight="bold">tdTomato</text>
<path d="M302.9 26L302.9 27L302.9 28L302.9 29L302.9 30L302.9 31L302.9 32L302.9 33L302.9 34L302.9 35L302.9 36L303 37L303 38L303 39L303 40L303.1 41L303.3 42L303.5 43L303.9 44L304.3 45L304.7 46L305.2 47L305.6 48L306.1 49L306.8 50L307.6 51L308.4 52L309.3 53L310.1 54L310.9 55L311.6 56L312.2 57L312.6 58L312.9 59L313.2 60L313.4 61L313.6 62L313.9 63L314 64L314.2 65L314.3 66L314.4 67L314.4 68L314.4 69L314.3 70L314.2 71L314 72L313.8 73L313.6 74L313.4 75L313.1 76L312.9 77L312.6 78L312.2 79L311.8 80L311.2 81L310.5 82L309.8 83L309 84L308.3 85L307.7 86L307.1 87L306.6 88L306.2 89L305.7 90L305.3 91L304.9 92L304.5 93L304.1 94L303.8 95L303.6 96L303.5 97L303.4 98L303.4 99L303.4 100L303.4 101L303.4 102L303.4 103L303.4 104L303.4 105L303.4 106L303.4 107L303.4 108L303.4 109L303.4 110L303.4 111L303.4 112L303.4 113L303.4 114L303.4 115L303.4 116L303.4 117L303.4 118L303.4 119L303.4 120L303.4 121L303.4 122L303.4 123L303.4 124L303.5 125L303.5 126L303.5 127L303.6 128L303.6 129L303.6 130L303.7 131L303.7 132L303.7 133L303.8 134L303.8 135L303.8 136L303.9 137L303.9 138L303.9 139L304 140L304 141L304 142L304.1 143L304.1 144L304.1 145L304.2 146L304.2 147L304.2 148L304.2 149L304.2 150L304.2 151L304.2 152L304.2 153L304.2 154L304.1 155L304.1 156L304.1 157L304.1 158L304 159L304 160L304 161L303.9 162L303.9 163L303.8 164L303.8 165L303.7 166L303.7 167L303.6 168L303.5 169L303.4 170L303.3 171L303.2 172L303.1 173L303 174L303 175L303 176L302.9 177L302.9 178L302.9 179L302.9 180L302.9 181L302.9 182L302.9 183L302.9 184L302.9 185L302.9 186L302.9 187L302.9 188L302.9 189L302.9 190L302.9 191L302.9 191.5L302.3 191.5L302.3 191L302.3 190L302.3 189L302.3 188L302.3 187L302.3 186L302.3 185L302.3 184L302.3 183L302.3 182L302.3 181L302.3 180L302.3 179L302.3 178L302.3 177L302.2 176L302.2 175L302.2 174L302.1 173L302 172L301.9 171L301.8 170L301.7 169L301.6 168L301.5 167L301.5 166L301.4 165L301.4 164L301.3 163L301.3 162L301.2 161L301.2 160L301.2 159L301.1 158L301.1 157L301.1 156L301.1 155L301 154L301 153L301 152L301 151L301 150L301 149L301 148L301 147L301 146L301.1 145L301.1 144L301.1 143L301.2 142L301.2 141L301.2 140L301.3 139L301.3 138L301.3 137L301.4 136L301.4 135L301.4 134L301.5 133L301.5 132L301.5 131L301.6 130L301.6 129L301.6 128L301.7 127L301.7 126L301.7 125L301.8 124L301.8 123L301.8 122L301.8 121L301.8 120L301.8 119L301.8 118L301.8 117L301.8 116L301.8 115L301.8 114L301.8 113L301.8 112L301.8 111L301.8 110L301.8 109L301.8 108L301.8 107L301.8 106L301.8 105L301.8 104L301.8 103L301.8 102L301.8 101L301.8 100L301.8 99L301.8 98L301.7 97L301.6 96L301.4 95L301.1 94L300.7 93L300.3 92L299.9 91L299.5 90L299 89L298.6 88L298.1 87L297.5 86L296.9 85L296.2 84L295.4 83L294.7 82L294 81L293.4 80L293 79L292.6 78L292.3 77L292.1 76L291.8 75L291.6 74L291.4 73L291.2 72L291 71L290.9 70L290.8 69L290.8 68L290.8 67L290.9 66L291 65L291.2 64L291.3 63L291.6 62L291.8 61L292 60L292.3 59L292.6 58L293 57L293.6 56L294.3 55L295.1 54L295.9 53L296.8 52L297.6 51L298.4 50L299.1 49L299.6 48L300 47L300.5 46L300.9 45L301.3 44L301.7 43L301.9 42L302.1 41L302.2 40L302.2 39L302.2 38L302.2 37L302.3 36L302.3 35L302.3 34L302.3 33L302.3 32L302.3 31L302.3 30L302.3 29L302.3 28L302.3 27L302.3 26Z" fill="#F8766D" stroke="#222" stroke-width="0.5"/>
<path d="M328.9 24L328.9 25L328.9 26L328.9 27L328.9 28L328.9 29L328.9 30L328.9 31L328.9 32L328.9 33L328.9 34L328.9 35L329 36L329 37L329 38L329 39L329 40L329.1 41L329.2 42L329.5 43L329.8 44L330.2 45L330.6 46L331.1 47L331.6 48L332.1 49L332.6 50L333.2 51L334.1 52L335.1 53L336.1 54L337.1 55L338 56L338.7 57L339.1 58L339.4 59L339.6 60L339.8 61L340 62L340.2 63L340.3 64L340.4 65L340.4 66L340.4 67L340.3 68L340.1 69L339.9 70L339.7 71L339.4 72L339.2 73L338.9 74L338.6 75L338.3 76L337.8 77L337.3 78L336.7 79L336.1 80L335.5 81L334.8 82L334.2 83L333.5 84L332.9 85L332.4 86L332 87L331.6 88L331.3 89L331 90L330.7 91L330.4 92L330.1 93L329.9 94L329.7 95L329.5 96L329.4 97L329.4 98L329.4 99L329.4 100L329.4 101L329.4 102L329.4 103L329.4 104L329.4 105L329.4 106L329.4 107L329.4 108L329.4 109L329.4 110L329.4 111L329.5 112L329.5 113L329.5 114L329.5 115L329.5 116L329.5 117L329.5 118L329.5 119L329.5 120L329.5 121L329.6 122L329.6 123L329.6 124L329.6 125L329.6 126L329.7 127L329.7 128L329.8 129L329.8 130L329.9 131L330 132L330.1 133L330.1 134L330.2 135L330.3 136L330.4 137L330.5 138L330.5 139L330.6 140L330.7 141L330.7 142L330.8 143L330.9 144L330.9 145L331 146L331 147L331.1 148L331.1 149L331.2 150L331.2 151L331.2 152L331.2 153L331.2 154L331.2 155L331.1 156L331.1 157L331 158L331 159L330.9 160L330.9 161L330.8 162L330.7 163L330.7 164L330.6 165L330.5 166L330.4 167L330.2 168L330 169L329.8 170L329.6 171L329.4 172L329.2 173L329.1 174L329 175L329 176L328.9 177L328.9 178L328.9 179L328.9 180L328.9 181L328.9 182L328.9 183L328.9 184L328.9 185L328.9 186L328.9 187L328.9 188L328.9 189L328.9 190L328.9 191L328.9 191.5L328.3 191.5L328.3 191L328.3 190L328.3 189L328.3 188L328.3 187L328.3 186L328.3 185L328.3 184L328.3 183L328.3 182L328.3 181L328.3 180L328.3 179L328.3 178L328.3 177L328.2 176L328.2 175L328.1 174L328 173L327.8 172L327.6 171L327.4 170L327.2 169L327 168L326.8 167L326.7 166L326.6 165L326.5 164L326.5 163L326.4 162L326.3 161L326.3 160L326.2 159L326.2 158L326.1 157L326.1 156L326 155L326 154L326 153L326 152L326 151L326 150L326.1 149L326.1 148L326.2 147L326.2 146L326.3 145L326.3 144L326.4 143L326.5 142L326.5 141L326.6 140L326.7 139L326.7 138L326.8 137L326.9 136L327 135L327.1 134L327.1 133L327.2 132L327.3 131L327.4 130L327.4 129L327.5 128L327.5 127L327.6 126L327.6 125L327.6 124L327.6 123L327.6 122L327.7 121L327.7 120L327.7 119L327.7 118L327.7 117L327.7 116L327.7 115L327.7 114L327.7 113L327.7 112L327.8 111L327.8 110L327.8 109L327.8 108L327.8 107L327.8 106L327.8 105L327.8 104L327.8 103L327.8 102L327.8 101L327.8 100L327.8 99L327.8 98L327.8 97L327.7 96L327.5 95L327.3 94L327.1 93L326.8 92L326.5 91L326.2 90L325.9 89L325.6 88L325.2 87L324.8 86L324.3 85L323.7 84L323 83L322.4 82L321.7 81L321.1 80L320.5 79L319.9 78L319.4 77L318.9 76L318.6 75L318.3 74L318 73L317.8 72L317.5 71L317.3 70L317.1 69L316.9 68L316.8 67L316.8 66L316.8 65L316.9 64L317 63L317.2 62L317.4 61L317.6 60L317.8 59L318.1 58L318.5 57L319.2 56L320.1 55L321.1 54L322.1 53L323.1 52L324 51L324.6 50L325.1 49L325.6 48L326.1 47L326.6 46L327 45L327.4 44L327.7 43L328 42L328.1 41L328.2 40L328.2 39L328.2 38L328.2 37L328.2 36L328.3 35L328.3 34L328.3 33L328.3 32L328.3 31L328.3 30L328.3 29L328.3 28L328.3 27L328.3 26L328.3 25L328.3 24Z" fill="#D89000" stroke="#222" stroke-width="0.5"/>
<path d="M354.9 24L354.9 25L354.9 26L354.9 27L354.9 28L355 29L355 30L355 31L355 32L355.1 33L355.1 34L355.2 35L355.3 36L355.6 37L355.9 38L356.2 39L356.6 40L357 41L357.5 42L358 43L358.5 44L359 45L359.6 46L360.1 47L360.6 48L361.2 49L361.9 50L362.7 51L363.4 52L364.1 53L364.7 54L365.1 55L365.4 56L365.7 57L365.9 58L366.1 59L366.3 60L366.4 61L366.4 62L366.4 63L366.3 64L366.1 65L365.9 66L365.7 67L365.4 68L365.1 69L364.9 70L364.6 71L364.3 72L363.9 73L363.5 74L363.1 75L362.6 76L362.1 77L361.6 78L361.1 79L360.6 80L360.1 81L359.7 82L359.3 83L358.9 84L358.6 85L358.3 86L358.1 87L357.8 88L357.5 89L357.3 90L357 91L356.8 92L356.6 93L356.4 94L356.3 95L356.2 96L356.1 97L356.1 98L356.1 99L356.1 100L356.1 101L356.1 102L356.1 103L356.1 104L356.1 105L356.1 106L356.1 107L356.1 108L356.1 109L356.1 110L356.1 111L356.1 112L356.1 113L356.1 114L356.1 115L356.1 116L356.1 117L356.1 118L356.1 119L356.1 120L356.1 121L356.1 122L356.1 123L356.1 124L356.1 125L356.2 126L356.2 127L356.2 128L356.2 129L356.3 130L356.3 131L356.3 132L356.4 133L356.4 134L356.4 135L356.5 136L356.5 137L356.5 138L356.6 139L356.6 140L356.6 141L356.7 142L356.7 143L356.8 144L356.8 145L356.9 146L357 147L357 148L357 149L357.1 150L357.1 151L357.1 152L357.1 153L357.1 154L357.1 155L357 156L357 157L357 158L356.9 159L356.9 160L356.8 161L356.8 162L356.7 163L356.7 164L356.6 165L356.5 166L356.4 167L356.2 168L356 169L355.8 170L355.6 171L355.4 172L355.2 173L355.1 174L355 175L355 176L354.9 177L354.9 178L354.9 179L354.9 180L354.9 181L354.9 182L354.9 183L354.9 184L354.9 185L354.9 186L354.9 187L354.9 188L354.9 189L354.9 190L354.9 191L354.9 191.5L354.3 191.5L354.3 191L354.3 190L354.3 189L354.3 188L354.3 187L354.3 186L354.3 185L354.3 184L354.3 183L354.3 182L354.3 181L354.3 180L354.3 179L354.3 178L354.3 177L354.2 176L354.2 175L354.1 174L354 173L353.8 172L353.6 171L353.4 170L353.2 169L353 168L352.8 167L352.7 166L352.6 165L352.5 164L352.5 163L352.4 162L352.4 161L352.3 160L352.3 159L352.2 158L352.2 157L352.2 156L352.1 155L352.1 154L352.1 153L352.1 152L352.1 151L352.1 150L352.2 149L352.2 148L352.2 147L352.3 146L352.4 145L352.4 144L352.5 143L352.5 142L352.6 141L352.6 140L352.6 139L352.7 138L352.7 137L352.7 136L352.8 135L352.8 134L352.8 133L352.9 132L352.9 131L352.9 130L353 129L353 128L353 127L353 126L353.1 125L353.1 124L353.1 123L353.1 122L353.1 121L353.1 120L353.1 119L353.1 118L353.1 117L353.1 116L353.1 115L353.1 114L353.1 113L353.1 112L353.1 111L353.1 110L353.1 109L353.1 108L353.1 107L353.1 106L353.1 105L353.1 104L353.1 103L353.1 102L353.1 101L353.1 100L353.1 99L353.1 98L353.1 97L353 96L352.9 95L352.8 94L352.6 93L352.4 92L352.2 91L351.9 90L351.7 89L351.4 88L351.1 87L350.9 86L350.6 85L350.3 84L349.9 83L349.5 82L349.1 81L348.6 80L348.1 79L347.6 78L347.1 77L346.6 76L346.1 75L345.7 74L345.3 73L344.9 72L344.6 71L344.3 70L344.1 69L343.8 68L343.5 67L343.3 66L343.1 65L342.9 64L342.8 63L342.8 62L342.8 61L342.9 60L343.1 59L343.3 58L343.5 57L343.8 56L344.1 55L344.5 54L345.1 53L345.8 52L346.5 51L347.3 50L348 49L348.6 48L349.1 47L349.6 46L350.2 45L350.7 44L351.2 43L351.7 42L352.2 41L352.6 40L353 39L353.3 38L353.6 37L353.9 36L354 35L354.1 34L354.1 33L354.2 32L354.2 31L354.2 30L354.2 29L354.3 28L354.3 27L354.3 26L354.3 25L354.3 24Z" fill="#A3A500" stroke="#222" stroke-width="0.5"/>
<path d="M380.9 41L380.9 42L380.9 43L380.9 44L380.9 45L380.9 46L380.9 47L380.9 48L380.9 49L380.9 50L380.9 51L380.9 52L380.9 53L380.9 54L381 55L381 56L381 57L381 58L381 59L381 60L381 61L381 62L381 63L381 64L381.1 65L381.1 66L381.1 67L381.1 68L381.1 69L381.2 70L381.2 71L381.2 72L381.3 73L381.4 74L381.4 75L381.5 76L381.6 77L381.7 78L381.8 79L381.9 80L382 81L382 82L382.1 83L382.2 84L382.3 85L382.4 86L382.4 87L382.5 88L382.6 89L382.6 90L382.6 91L382.7 92L382.7 93L382.7 94L382.7 95L382.8 96L382.8 97L382.8 98L382.9 99L382.9 100L382.9 101L383 102L383 103L383.1 104L383.2 105L383.2 106L383.3 107L383.4 108L383.5 109L383.6 110L383.7 111L383.8 112L383.9 113L384 114L384.1 115L384.3 116L384.5 117L384.7 118L385 119L385.3 120L385.6 121L385.9 122L386.3 123L386.7 124L387 125L387.4 126L387.7 127L388 128L388.3 129L388.6 130L388.9 131L389.1 132L389.4 133L389.7 134L389.9 135L390.2 136L390.5 137L390.7 138L391 139L391.2 140L391.4 141L391.6 142L391.8 143L391.9 144L392 145L392.1 146L392.1 147L392.1 148L392 149L391.9 150L391.7 151L391.6 152L391.4 153L391.1 154L390.9 155L390.6 156L390.4 157L390.1 158L389.8 159L389.6 160L389.3 161L389.1 162L388.8 163L388.5 164L388.2 165L387.9 166L387.5 167L387.2 168L386.8 169L386.5 170L386.1 171L385.7 172L385.4 173L385 174L384.6 175L384.2 176L383.6 177L383 178L382.5 179L382 180L381.7 181L381.6 182L381.7 183L382.1 184L382.6 185L383.1 186L383.6 187L384 188L384.5 189L384.9 190L385.4 191L385.6 191.5L375.6 191.5L375.8 191L376.3 190L376.7 189L377.2 188L377.6 187L378.1 186L378.6 185L379.1 184L379.5 183L379.6 182L379.5 181L379.2 180L378.7 179L378.2 178L377.6 177L377 176L376.6 175L376.2 174L375.8 173L375.5 172L375.1 171L374.7 170L374.4 169L374 168L373.7 167L373.3 166L373 165L372.7 164L372.4 163L372.1 162L371.9 161L371.6 160L371.4 159L371.1 158L370.8 157L370.6 156L370.3 155L370.1 154L369.8 153L369.6 152L369.5 151L369.3 150L369.2 149L369.1 148L369.1 147L369.1 146L369.2 145L369.3 144L369.4 143L369.6 142L369.8 141L370 140L370.2 139L370.5 138L370.7 137L371 136L371.3 135L371.5 134L371.8 133L372.1 132L372.3 131L372.6 130L372.9 129L373.2 128L373.5 127L373.8 126L374.2 125L374.5 124L374.9 123L375.3 122L375.6 121L375.9 120L376.2 119L376.5 118L376.7 117L376.9 116L377.1 115L377.2 114L377.3 113L377.4 112L377.5 111L377.6 110L377.7 109L377.8 108L377.9 107L378 106L378 105L378.1 104L378.2 103L378.2 102L378.3 101L378.3 100L378.3 99L378.4 98L378.4 97L378.4 96L378.5 95L378.5 94L378.5 93L378.5 92L378.6 91L378.6 90L378.6 89L378.7 88L378.8 87L378.8 86L378.9 85L379 84L379.1 83L379.2 82L379.2 81L379.3 80L379.4 79L379.5 78L379.6 77L379.7 76L379.8 75L379.8 74L379.9 73L380 72L380 71L380 70L380.1 69L380.1 68L380.1 67L380.1 66L380.1 65L380.2 64L380.2 63L380.2 62L380.2 61L380.2 60L380.2 59L380.2 58L380.2 57L380.2 56L380.2 55L380.3 54L380.3 53L380.3 52L380.3 51L380.3 50L380.3 49L380.3 48L380.3 47L380.3 46L380.3 45L380.3 44L380.3 43L380.3 42L380.3 41Z" fill="#39B600" stroke="#222" stroke-width="0.5"/>
<path d="M406.9 56L406.9 57L406.9 58L406.9 59L406.9 60L406.9 61L406.9 62L406.9 63L406.9 64L406.9 65L406.9 66L406.9 67L406.9 68L406.9 69L406.9 70L406.9 71L406.9 72L406.9 73L406.9 74L406.9 75L406.9 76L406.9 77L406.9 78L406.9 79L406.9 80L407 81L407 82L407 83L407 84L407 85L407 86L407 87L407 88L407 89L407 90L407 91L407 92L407 93L407 94L407 95L407.1 96L407.1 97L407.1 98L407.1 99L407.1 100L407.1 101L407.2 102L407.3 103L407.5 104L407.6 105L407.8 106L407.9 107L408.1 108L408.3 109L408.5 110L408.7 111L408.9 112L409.1 113L409.4 114L409.6 115L409.9 116L410.1 117L410.4 118L410.8 119L411.1 120L411.4 121L411.7 122L412 123L412.3 124L412.6 125L412.9 126L413.2 127L413.4 128L413.7 129L414 130L414.3 131L414.7 132L415 133L415.3 134L415.5 135L415.8 136L416.1 137L416.3 138L416.6 139L416.8 140L417 141L417.2 142L417.3 143L417.4 144L417.5 145L417.6 146L417.6 147L417.6 148L417.6 149L417.5 150L417.4 151L417.3 152L417.2 153L417.1 154L416.9 155L416.8 156L416.6 157L416.4 158L416.2 159L416 160L415.8 161L415.6 162L415.3 163L414.9 164L414.5 165L413.9 166L413.4 167L412.8 168L412.2 169L411.6 170L411.1 171L410.6 172L410.1 173L409.7 174L409.2 175L408.7 176L408.2 177L407.9 178L407.7 179L407.6 180L407.7 181L407.9 182L408.1 183L408.4 184L408.8 185L409.1 186L409.4 187L409.7 188L410.1 189L410.5 190L410.9 191L411.1 191.5L402.1 191.5L402.3 191L402.7 190L403.1 189L403.5 188L403.8 187L404.1 186L404.4 185L404.8 184L405.1 183L405.3 182L405.5 181L405.6 180L405.5 179L405.3 178L405 177L404.5 176L404 175L403.5 174L403.1 173L402.6 172L402.1 171L401.6 170L401 169L400.4 168L399.8 167L399.3 166L398.7 165L398.3 164L397.9 163L397.6 162L397.4 161L397.2 160L397 159L396.8 158L396.6 157L396.4 156L396.3 155L396.1 154L396 153L395.9 152L395.8 151L395.7 150L395.6 149L395.6 148L395.6 147L395.6 146L395.7 145L395.8 144L395.9 143L396 142L396.2 141L396.4 140L396.6 139L396.9 138L397.1 137L397.4 136L397.7 135L397.9 134L398.2 133L398.5 132L398.9 131L399.2 130L399.5 129L399.8 128L400 127L400.3 126L400.6 125L400.9 124L401.2 123L401.5 122L401.8 121L402.1 120L402.4 119L402.8 118L403.1 117L403.3 116L403.6 115L403.8 114L404.1 113L404.3 112L404.5 111L404.7 110L404.9 109L405.1 108L405.3 107L405.4 106L405.6 105L405.7 104L405.9 103L406 102L406.1 101L406.1 100L406.1 99L406.1 98L406.1 97L406.1 96L406.2 95L406.2 94L406.2 93L406.2 92L406.2 91L406.2 90L406.2 89L406.2 88L406.2 87L406.2 86L406.2 85L406.2 84L406.2 83L406.2 82L406.2 81L406.3 80L406.3 79L406.3 78L406.3 77L406.3 76L406.3 75L406.3 74L406.3 73L406.3 72L406.3 71L406.3 70L406.3 69L406.3 68L406.3 67L406.3 66L406.3 65L406.3 64L406.3 63L406.3 62L406.3 61L406.3 60L406.3 59L406.3 58L406.3 57L406.3 56Z" fill="#00BF7D" stroke="#222" stroke-width="0.5"/>
<path d="M432.9 51L432.9 52L432.9 53L432.9 54L432.9 55L432.9 56L432.9 57L432.9 58L432.9 59L432.9 60L432.9 61L432.9 62L432.9 63L432.9 64L432.9 65L432.9 66L432.9 67L432.9 68L432.9 69L432.9 70L432.9 71L432.9 72L432.9 73L432.9 74L433 75L433 76L433 77L433 78L433 79L433 80L433 81L433 82L433 83L433 84L433 85L433 86L433 87L433 88L433 89L433.1 90L433.1 91L433.1 92L433.1 93L433.1 94L433.1 95L433.1 96L433.2 97L433.2 98L433.3 99L433.4 100L433.5 101L433.6 102L433.7 103L433.8 104L433.9 105L434.1 106L434.2 107L434.3 108L434.5 109L434.6 110L434.7 111L434.9 112L435.1 113L435.2 114L435.4 115L435.6 116L435.8 117L436 118L436.2 119L436.4 120L436.7 121L436.9 122L437.1 123L437.4 124L437.6 125L437.9 126L438.2 127L438.5 128L438.8 129L439.2 130L439.6 131L440 132L440.4 133L440.8 134L441.2 135L441.6 136L441.9 137L442.3 138L442.6 139L442.9 140L443.1 141L443.3 142L443.5 143L443.6 144L443.6 145L443.6 146L443.5 147L443.5 148L443.4 149L443.2 150L443.1 151L442.9 152L442.7 153L442.5 154L442.3 155L442.1 156L441.8 157L441.6 158L441.3 159L441.1 160L440.8 161L440.6 162L440.3 163L440 164L439.7 165L439.3 166L438.9 167L438.5 168L438.1 169L437.6 170L437.2 171L436.8 172L436.4 173L436 174L435.6 175L435.2 176L434.8 177L434.3 178L434 179L433.7 180L433.6 181L433.7 182L433.8 183L434.1 184L434.3 185L434.6 186L434.8 187L435.1 188L435.4 189L435.6 190L435.9 191L436.1 191.5L429.1 191.5L429.3 191L429.6 190L429.8 189L430.1 188L430.4 187L430.6 186L430.9 185L431.1 184L431.4 183L431.5 182L431.6 181L431.5 180L431.2 179L430.9 178L430.4 177L430 176L429.6 175L429.2 174L428.8 173L428.4 172L428 171L427.6 170L427.1 169L426.7 168L426.3 167L425.9 166L425.5 165L425.2 164L424.9 163L424.6 162L424.4 161L424.1 160L423.9 159L423.6 158L423.4 157L423.1 156L422.9 155L422.7 154L422.5 153L422.3 152L422.1 151L422 150L421.8 149L421.7 148L421.7 147L421.6 146L421.6 145L421.6 144L421.7 143L421.9 142L422.1 141L422.3 140L422.6 139L422.9 138L423.3 137L423.6 136L424 135L424.4 134L424.8 133L425.2 132L425.6 131L426 130L426.4 129L426.7 128L427 127L427.3 126L427.6 125L427.8 124L428.1 123L428.3 122L428.5 121L428.8 120L429 119L429.2 118L429.4 117L429.6 116L429.8 115L430 114L430.1 113L430.3 112L430.5 111L430.6 110L430.7 109L430.9 108L431 107L431.1 106L431.3 105L431.4 104L431.5 103L431.6 102L431.7 101L431.8 100L431.9 99L432 98L432 97L432.1 96L432.1 95L432.1 94L432.1 93L432.1 92L432.1 91L432.1 90L432.2 89L432.2 88L432.2 87L432.2 86L432.2 85L432.2 84L432.2 83L432.2 82L432.2 81L432.2 80L432.2 79L432.2 78L432.2 77L432.2 76L432.2 75L432.3 74L432.3 73L432.3 72L432.3 71L432.3 70L432.3 69L432.3 68L432.3 67L432.3 66L432.3 65L432.3 64L432.3 63L432.3 62L432.3 61L432.3 60L432.3 59L432.3 58L432.3 57L432.3 56L432.3 55L432.3 54L432.3 53L432.3 52L432.3 51Z" fill="#00BFC4" stroke="#222" stroke-width="0.5"/>
<path d="M458.9 28L458.9 29L458.9 30L458.9 31L459 32L459 33L459 34L459.1 35L459.1 36L459.2 37L459.3 38L459.5 39L459.8 40L460.1 41L460.4 42L460.8 43L461.2 44L461.6 45L462 46L462.5 47L463 48L463.6 49L464.1 50L464.7 51L465.3 52L465.8 53L466.2 54L466.6 55L466.9 56L467.3 57L467.6 58L468 59L468.3 60L468.6 61L468.9 62L469.1 63L469.4 64L469.5 65L469.7 66L469.8 67L469.8 68L469.8 69L469.8 70L469.8 71L469.8 72L469.8 73L469.7 74L469.7 75L469.7 76L469.7 77L469.7 78L469.6 79L469.6 80L469.5 81L469.4 82L469.3 83L469.1 84L469 85L468.8 86L468.5 87L468.3 88L468.1 89L467.9 90L467.6 91L467.3 92L467 93L466.6 94L466.3 95L465.9 96L465.6 97L465.2 98L464.9 99L464.6 100L464.3 101L464 102L463.7 103L463.4 104L463 105L462.7 106L462.5 107L462.2 108L462 109L461.8 110L461.7 111L461.6 112L461.6 113L461.5 114L461.5 115L461.5 116L461.4 117L461.4 118L461.4 119L461.4 120L461.4 121L461.3 122L461.3 123L461.3 124L461.3 125L461.3 126L461.3 127L461.3 128L461.2 129L461.2 130L461.2 131L461.2 132L461.2 133L461.2 134L461.2 135L461.2 136L461.1 137L461.1 138L461.1 139L461.1 140L461.1 141L461 142L461 143L461 144L461 145L461 146L461 147L460.9 148L460.9 149L460.9 150L460.9 151L460.9 152L460.9 153L460.8 154L460.8 155L460.8 156L460.8 157L460.8 158L460.7 159L460.7 160L460.7 161L460.7 162L460.6 163L460.6 164L460.6 165L460.5 166L460.5 167L460.4 168L460.4 169L460.3 170L460.2 171L460.1 172L459.9 173L459.7 174L459.6 175L459.4 176L459.3 177L459.1 178L459 179L459 180L459 181L459 182L459 183L458.9 184L458.9 185L458.9 186L458.9 187L458.9 188L458.9 189L458.9 190L458.9 191L458.9 191.5L458.3 191.5L458.3 191L458.3 190L458.3 189L458.3 188L458.3 187L458.3 186L458.3 185L458.3 184L458.2 183L458.2 182L458.2 181L458.2 180L458.2 179L458.1 178L457.9 177L457.8 176L457.6 175L457.5 174L457.3 173L457.1 172L457 171L456.9 170L456.8 169L456.8 168L456.7 167L456.7 166L456.6 165L456.6 164L456.6 163L456.5 162L456.5 161L456.5 160L456.5 159L456.4 158L456.4 157L456.4 156L456.4 155L456.4 154L456.3 153L456.3 152L456.3 151L456.3 150L456.3 149L456.3 148L456.2 147L456.2 146L456.2 145L456.2 144L456.2 143L456.2 142L456.1 141L456.1 140L456.1 139L456.1 138L456.1 137L456 136L456 135L456 134L456 133L456 132L456 131L456 130L456 129L455.9 128L455.9 127L455.9 126L455.9 125L455.9 124L455.9 123L455.9 122L455.8 121L455.8 120L455.8 119L455.8 118L455.8 117L455.7 116L455.7 115L455.7 114L455.6 113L455.6 112L455.5 111L455.4 110L455.2 109L455 108L454.7 107L454.5 106L454.2 105L453.8 104L453.5 103L453.2 102L452.9 101L452.6 100L452.3 99L452 98L451.6 97L451.3 96L450.9 95L450.6 94L450.2 93L449.9 92L449.6 91L449.3 90L449.1 89L448.9 88L448.7 87L448.4 86L448.2 85L448.1 84L447.9 83L447.8 82L447.7 81L447.6 80L447.6 79L447.5 78L447.5 77L447.5 76L447.5 75L447.5 74L447.4 73L447.4 72L447.4 71L447.4 70L447.4 69L447.4 68L447.4 67L447.5 66L447.7 65L447.8 64L448.1 63L448.3 62L448.6 61L448.9 60L449.2 59L449.6 58L449.9 57L450.3 56L450.6 55L451 54L451.4 53L451.9 52L452.5 51L453.1 50L453.6 49L454.2 48L454.7 47L455.2 46L455.6 45L456 44L456.4 43L456.8 42L457.1 41L457.4 40L457.7 39L457.9 38L458 37L458.1 36L458.1 35L458.2 34L458.2 33L458.2 32L458.3 31L458.3 30L458.3 29L458.3 28Z" fill="#00B0F6" stroke="#222" stroke-width="0.5"/>
<path d="M484.9 46L484.9 47L484.9 48L485 49L485 50L485.1 51L485.1 52L485.2 53L485.4 54L485.7 55L486.1 56L486.6 57L487.2 58L487.8 59L488.4 60L489 61L489.6 62L490.2 63L490.9 64L491.6 65L492.3 66L493 67L493.6 68L494.2 69L494.6 70L494.9 71L495.3 72L495.6 73L495.9 74L496.1 75L496.3 76L496.5 77L496.5 78L496.5 79L496.3 80L496.1 81L495.8 82L495.5 83L495.2 84L494.9 85L494.6 86L494.3 87L493.9 88L493.6 89L493.2 90L492.8 91L492.4 92L492 93L491.6 94L491.2 95L490.9 96L490.5 97L490.1 98L489.8 99L489.4 100L489 101L488.7 102L488.4 103L488.1 104L487.8 105L487.6 106L487.4 107L487.1 108L486.9 109L486.7 110L486.5 111L486.3 112L486.2 113L486.1 114L486.1 115L486.1 116L486.1 117L486.1 118L486.1 119L486.1 120L486.2 121L486.2 122L486.2 123L486.2 124L486.3 125L486.3 126L486.3 127L486.4 128L486.4 129L486.5 130L486.5 131L486.6 132L486.6 133L486.7 134L486.8 135L487 136L487.1 137L487.4 138L487.6 139L487.8 140L488.1 141L488.3 142L488.5 143L488.7 144L488.9 145L489 146L489.1 147L489.1 148L489.1 149L489 150L489 151L488.9 152L488.8 153L488.6 154L488.5 155L488.4 156L488.2 157L488.1 158L488 159L487.8 160L487.6 161L487.4 162L487.2 163L487 164L486.8 165L486.6 166L486.4 167L486.1 168L485.8 169L485.5 170L485.2 171L485 172L485 173L484.9 174L484.9 175L484.9 176L484.9 177L484.9 178L484.9 179L484.9 180L484.9 181L484.9 182L484.9 183L484.9 184L484.9 185L484.9 186L484.9 187L484.9 188L484.9 189L484.9 190L484.9 191L484.9 191.5L484.3 191.5L484.3 191L484.3 190L484.3 189L484.3 188L484.3 187L484.3 186L484.3 185L484.3 184L484.3 183L484.3 182L484.3 181L484.3 180L484.3 179L484.3 178L484.3 177L484.3 176L484.3 175L484.3 174L484.2 173L484.2 172L484 171L483.7 170L483.4 169L483.1 168L482.8 167L482.6 166L482.4 165L482.2 164L482 163L481.8 162L481.6 161L481.4 160L481.2 159L481.1 158L481 157L480.8 156L480.7 155L480.6 154L480.4 153L480.3 152L480.2 151L480.2 150L480.1 149L480.1 148L480.1 147L480.2 146L480.3 145L480.5 144L480.7 143L480.9 142L481.1 141L481.4 140L481.6 139L481.8 138L482.1 137L482.2 136L482.4 135L482.5 134L482.6 133L482.6 132L482.7 131L482.7 130L482.8 129L482.8 128L482.9 127L482.9 126L482.9 125L483 124L483 123L483 122L483 121L483.1 120L483.1 119L483.1 118L483.1 117L483.1 116L483.1 115L483.1 114L483 113L482.9 112L482.7 111L482.5 110L482.3 109L482.1 108L481.8 107L481.6 106L481.4 105L481.1 104L480.8 103L480.5 102L480.2 101L479.8 100L479.4 99L479.1 98L478.7 97L478.3 96L478 95L477.6 94L477.2 93L476.8 92L476.4 91L476 90L475.6 89L475.3 88L474.9 87L474.6 86L474.3 85L474 84L473.7 83L473.4 82L473.1 81L472.9 80L472.7 79L472.7 78L472.7 77L472.9 76L473.1 75L473.3 74L473.6 73L473.9 72L474.3 71L474.6 70L475 69L475.6 68L476.2 67L476.9 66L477.6 65L478.3 64L479 63L479.6 62L480.2 61L480.8 60L481.4 59L482 58L482.6 57L483.1 56L483.5 55L483.8 54L484 53L484.1 52L484.1 51L484.2 50L484.2 49L484.3 48L484.3 47L484.3 46Z" fill="#9590FF" stroke="#222" stroke-width="0.5"/>
<path d="M510.9 69.5L510.9 70.5L510.9 71.5L510.9 72.5L510.9 73.5L510.9 74.5L510.9 75.5L510.9 76.5L510.9 77.5L510.9 78.5L510.9 79.5L510.9 80.5L510.9 81.5L510.9 82.5L510.9 83.5L510.9 84.5L510.9 85.5L510.9 86.5L510.9 87.5L511 88.5L511 89.5L511 90.5L511 91.5L511 92.5L511 93.5L511 94.5L511 95.5L511 96.5L511 97.5L511 98.5L511 99.5L511.1 100.5L511.1 101.5L511.1 102.5L511.1 103.5L511.1 104.5L511.2 105.5L511.3 106.5L511.4 107.5L511.5 108.5L511.7 109.5L511.9 110.5L512 111.5L512.2 112.5L512.3 113.5L512.5 114.5L512.7 115.5L512.8 116.5L513 117.5L513.2 118.5L513.5 119.5L513.7 120.5L514 121.5L514.4 122.5L514.7 123.5L515.1 124.5L515.6 125.5L516 126.5L516.4 127.5L516.8 128.5L517.2 129.5L517.7 130.5L518.2 131.5L518.6 132.5L519.1 133.5L519.5 134.5L519.9 135.5L520.3 136.5L520.6 137.5L521 138.5L521.4 139.5L521.7 140.5L522 141.5L522.3 142.5L522.5 143.5L522.6 144.5L522.6 145.5L522.6 146.5L522.6 147.5L522.5 148.5L522.5 149.5L522.4 150.5L522.4 151.5L522.3 152.5L522.2 153.5L522.1 154.5L522 155.5L521.9 156.5L521.6 157.5L521.3 158.5L520.9 159.5L520.6 160.5L520.2 161.5L519.8 162.5L519.4 163.5L519 164.5L518.6 165.5L518.2 166.5L517.7 167.5L517.3 168.5L516.8 169.5L516.4 170.5L515.9 171.5L515.3 172.5L514.8 173.5L514.3 174.5L513.8 175.5L513.4 176.5L513 177.5L512.5 178.5L512.1 179.5L511.8 180.5L511.6 181.5L511.6 182.5L511.6 183.5L511.6 184.5L511.6 185.5L511.6 186.5L511.7 187.5L511.9 188.5L512.1 189.5L512.3 190.5L512.6 191.5L508.6 191.5L508.9 190.5L509.1 189.5L509.3 188.5L509.5 187.5L509.6 186.5L509.6 185.5L509.6 184.5L509.6 183.5L509.6 182.5L509.6 181.5L509.4 180.5L509.1 179.5L508.7 178.5L508.2 177.5L507.8 176.5L507.4 175.5L506.9 174.5L506.4 173.5L505.9 172.5L505.3 171.5L504.8 170.5L504.4 169.5L503.9 168.5L503.5 167.5L503 166.5L502.6 165.5L502.2 164.5L501.8 163.5L501.4 162.5L501 161.5L500.6 160.5L500.3 159.5L499.9 158.5L499.6 157.5L499.3 156.5L499.2 155.5L499.1 154.5L499 153.5L498.9 152.5L498.8 151.5L498.8 150.5L498.7 149.5L498.7 148.5L498.6 147.5L498.6 146.5L498.6 145.5L498.6 144.5L498.7 143.5L498.9 142.5L499.2 141.5L499.5 140.5L499.8 139.5L500.2 138.5L500.6 137.5L500.9 136.5L501.3 135.5L501.7 134.5L502.1 133.5L502.6 132.5L503 131.5L503.5 130.5L504 129.5L504.4 128.5L504.8 127.5L505.2 126.5L505.6 125.5L506.1 124.5L506.5 123.5L506.8 122.5L507.2 121.5L507.5 120.5L507.7 119.5L508 118.5L508.2 117.5L508.4 116.5L508.5 115.5L508.7 114.5L508.9 113.5L509 112.5L509.2 111.5L509.3 110.5L509.5 109.5L509.7 108.5L509.8 107.5L509.9 106.5L510 105.5L510.1 104.5L510.1 103.5L510.1 102.5L510.1 101.5L510.1 100.5L510.2 99.5L510.2 98.5L510.2 97.5L510.2 96.5L510.2 95.5L510.2 94.5L510.2 93.5L510.2 92.5L510.2 91.5L510.2 90.5L510.2 89.5L510.2 88.5L510.3 87.5L510.3 86.5L510.3 85.5L510.3 84.5L510.3 83.5L510.3 82.5L510.3 81.5L510.3 80.5L510.3 79.5L510.3 78.5L510.3 77.5L510.3 76.5L510.3 75.5L510.3 74.5L510.3 73.5L510.3 72.5L510.3 71.5L510.3 70.5L510.3 69.5Z" fill="#E76BF3" stroke="#222" stroke-width="0.5"/>
<path d="M536.9 52L536.9 53L536.9 54L536.9 55L536.9 56L536.9 57L536.9 58L536.9 59L536.9 60L536.9 61L536.9 62L536.9 63L536.9 64L536.9 65L536.9 66L536.9 67L536.9 68L536.9 69L536.9 70L536.9 71L536.9 72L536.9 73L536.9 74L536.9 75L536.9 76L536.9 77L537 78L537 79L537 80L537 81L537 82L537 83L537 84L537 85L537 86L537 87L537 88L537 89L537 90L537.1 91L537.1 92L537.1 93L537.1 94L537.1 95L537.2 96L537.6 97L538.1 98L538.6 99L539.1 100L539.6 101L540.1 102L540.6 103L541.1 104L541.6 105L542.1 106L542.6 107L543 108L543.4 109L543.8 110L544.2 111L544.6 112L545 113L545.3 114L545.6 115L545.9 116L546.2 117L546.5 118L546.8 119L547.1 120L547.3 121L547.5 122L547.7 123L547.8 124L547.9 125L548 126L548.1 127L548.2 128L548.2 129L548.3 130L548.3 131L548.4 132L548.4 133L548.4 134L548.4 135L548.4 136L548.3 137L548.3 138L548.2 139L548.2 140L548.1 141L548 142L547.9 143L547.8 144L547.7 145L547.6 146L547.5 147L547.3 148L547.1 149L546.9 150L546.7 151L546.4 152L546.1 153L545.9 154L545.6 155L545.3 156L545 157L544.7 158L544.4 159L544 160L543.7 161L543.3 162L543 163L542.6 164L542.2 165L541.9 166L541.5 167L541.1 168L540.7 169L540.3 170L540 171L539.6 172L539.2 173L538.8 174L538.3 175L538 176L537.7 177L537.6 178L537.7 179L538 180L538.5 181L539 182L539.5 183L540.1 184L540.7 185L541.3 186L541.9 187L542.7 188L543.5 189L544.3 190L545.2 191L545.6 191.5L527.6 191.5L528 191L528.9 190L529.7 189L530.5 188L531.3 187L531.9 186L532.5 185L533.1 184L533.7 183L534.2 182L534.7 181L535.2 180L535.5 179L535.6 178L535.5 177L535.2 176L534.9 175L534.4 174L534 173L533.6 172L533.2 171L532.9 170L532.5 169L532.1 168L531.7 167L531.3 166L531 165L530.6 164L530.2 163L529.9 162L529.5 161L529.2 160L528.8 159L528.5 158L528.2 157L527.9 156L527.6 155L527.3 154L527.1 153L526.8 152L526.5 151L526.3 150L526.1 149L525.9 148L525.7 147L525.6 146L525.5 145L525.4 144L525.3 143L525.2 142L525.1 141L525 140L525 139L524.9 138L524.9 137L524.8 136L524.8 135L524.8 134L524.8 133L524.8 132L524.9 131L524.9 130L525 129L525 128L525.1 127L525.2 126L525.3 125L525.4 124L525.5 123L525.7 122L525.9 121L526.1 120L526.4 119L526.7 118L527 117L527.3 116L527.6 115L527.9 114L528.2 113L528.6 112L529 111L529.4 110L529.8 109L530.2 108L530.6 107L531.1 106L531.6 105L532.1 104L532.6 103L533.1 102L533.6 101L534.1 100L534.6 99L535.1 98L535.6 97L536 96L536.1 95L536.1 94L536.1 93L536.1 92L536.1 91L536.2 90L536.2 89L536.2 88L536.2 87L536.2 86L536.2 85L536.2 84L536.2 83L536.2 82L536.2 81L536.2 80L536.2 79L536.2 78L536.3 77L536.3 76L536.3 75L536.3 74L536.3 73L536.3 72L536.3 71L536.3 70L536.3 69L536.3 68L536.3 67L536.3 66L536.3 65L536.3 64L536.3 63L536.3 62L536.3 61L536.3 60L536.3 59L536.3 58L536.3 57L536.3 56L536.3 55L536.3 54L536.3 53L536.3 52Z" fill="#FF62BC" stroke="#222" stroke-width="0.5"/>
<rect x="291.8" y="48" width="21.6" height="42" fill="#000"/>
<path transform="scale(.5)" stroke="#000" stroke-width="2" d="M594 65h2m10 2h2m-22 2h2m-2 2h2m28 2h2m-16 2h2m2 0h2m-10 2h2m12 0h2m4 0h2m-22 2h2m4 0h2m8 0h2m4 0h2m-34 2h2m16 0h2m10 0h2m-36 2h2m0 0h2m6 0h2m4 0h2m20 0h2m-30 2h2m0 0h2m0 0h2m0 0h2m2 0h2m10 0h2m4 0h2m-42 2h2m6 0h2m2 0h2m0 0h2m2 0h2m0 0h2m2 0h2m4 0h2m0 0h2m4 0h2m2 0h2m-42 2h2m2 0h2m0 0h2m4 0h2m4 0h2m2 0h2m0 0h2m0 0h2m0 0h2m0 0h2m0 0h2m2 0h2m-38 2h2m0 0h2m0 0h2m0 0h2m0 0h2m2 0h2m0 0h2m0 0h2m0 0h2m0 0h2m2 0h2m0 0h2m6 0h2m4 0h2m-44 2h2m0 0h2m2 0h2m0 0h2m0 0h2m0 0h2m0 0h2m0 0h2m2 0h2m2 0h2m0 0h2m0 0h2m0 0h2m0 0h2m0 0h2m0 0h2m0 0h2m0 0h2m0 0h2m0 0h2m-44 2h2m0 0h2m0 0h2m0 0h2m0 0h2m0 0h2m0 0h2m0 0h2m0 0h2m0 0h2m0 0h2m0 0h2m0 0h2m0 0h2m0 0h2m2 0h2m0 0h2m0 0h2m0 0h2m0 0h2m0 0h2m-46 86h2m0 0h2m0 0h2m0 0h2m0 0h2m0 0h2m0 0h2m0 0h2m0 0h2m0 0h2m0 0h2m0 0h2m0 0h2m0 0h2m0 0h2m0 0h2m0 0h2m0 0h2m0 0h2m0 0h2m0 0h2m0 0h2m0 0h2m-44 2h2m2 0h2m0 0h2m0 0h2m0 0h2m0 0h2m0 0h2m0 0h2m0 0h2m0 0h2m0 0h2m0 0h2m0 0h2m0 0h2m0 0h2m0 0h2m0 0h2m0 0h2m0 0h2m0 0h2m-42 2h2m0 0h2m0 0h2m2 0h2m2 0h2m0 0h2m0 0h2m0 0h2m0 0h2m2 0h2m0 0h2m0 0h2m0 0h2m0 0h2m0 0h2m0 0h2m0 0h2m2 0h2m-44 2h2m0 0h2m0 0h2m0 0h2m0 0h2m0 0h2m0 0h2m0 0h2m0 0h2m0 0h2m2 0h2m2 0h2m2 0h2m0 0h2m0 0h2m0 0h2m0 0h2m0 0h2m0 0h2m-44 2h2m0 0h2m0 0h2m0 0h2m0 0h2m0 0h2m0 0h2m0 0h2m0 0h2m0 0h2m0 0h2m0 0h2m0 0h2m0 0h2m0 0h2m0 0h2m0 0h2m6 0h2m0 0h2m-46 2h2m0 0h2m4 0h2m0 0h2m2 0h2m0 0h2m2 0h2m2 0h2m0 0h2m2 0h2m2 0h2m4 0h2m0 0h2m-40 2h2m2 0h2m0 0h2m2 0h2m0 0h2m2 0h2m0 0h2m0 0h2m0 0h2m2 0h2m6 0h2m0 0h2m0 0h2m-42 2h2m2 0h2m2 0h2m0 0h2m0 0h2m0 0h2m2 0h2m0 0h2m4 0h2m0 0h2m0 0h2m0 0h2m0 0h2m0 0h2m0 0h2m0 0h2m0 0h2m-40 2h2m0 0h2m0 0h2m0 0h2m0 0h2m0 0h2m0 0h2m0 0h2m0 0h2m0 0h2m0 0h2m4 0h2m0 0h2m0 0h2m0 0h2m-34 2h2m4 0h2m2 0h2m0 0h2m0 0h2m2 0h2m2 0h2m0 0h2m2 0h2m0 0h2m0 0h2m2 0h2m0 0h2m-42 2h2m2 0h2m0 0h2m2 0h2m4 0h2m0 0h2m0 0h2m0 0h2m2 0h2m0 0h2m0 0h2m0 0h2m0 0h2m-38 2h2m0 0h2m2 0h2m2 0h2m0 0h2m0 0h2m0 0h2m6 0h2m0 0h2m0 0h2m0 0h2m8 0h2m-40 2h2m0 0h2m0 0h2m6 0h2m0 0h2m2 0h2m2 0h2m0 0h2m0 0h2m2 0h2m2 0h2m4 0h2m-36 2h2m4 0h2m0 0h2m0 0h2m0 0h2m0 0h2m0 0h2m0 0h2m4 0h2m0 0h2m2 0h2m2 0h2m-42 2h2m0 0h2m4 0h2m0 0h2m0 0h2m4 0h2m2 0h2m0 0h2m0 0h2m6 0h2m2 0h2m-40 2h2m4 0h2m0 0h2m0 0h2m0 0h2m2 0h2m0 0h2m4 0h2m6 0h2m4 0h2m-42 2h2m0 0h2m0 0h2m2 0h2m2 0h2m0 0h2m0 0h2m4 0h2m0 0h2m8 0h2m0 0h2m2 0h2m-42 2h2m2 0h2m0 0h2m8 0h2m2 0h2m0 0h2m2 0h2m2 0h2m8 0h2m-42 2h2m2 0h2m6 0h2m0 0h2m0 0h2m0 0h2m0 0h2m0 0h2m0 0h2m4 0h2m0 0h2m4 0h2m0 0h2m-42 2h2m6 0h2m0 0h2m0 0h2m2 0h2m0 0h2m10 0h2m0 0h2m0 0h2m0 0h2m2 0h2m-42 2h2m0 0h2m2 0h2m2 0h2m6 0h2m4 0h2m2 0h2m0 0h2m0 0h2m0 0h2m2 0h2m-40 2h2m2 0h2m0 0h2m0 0h2m2 0h2m2 0h2m2 0h2m0 0h2m0 0h2m2 0h2m10 0h2m-40 2h2m0 0h2m2 0h2m2 0h2m0 0h2m6 0h2m6 0h2m0 0h2m0 0h2m2 0h2m0 0h2m0 0h2m-44 2h2m0 0h2m0 0h2m0 0h2m0 0h2m0 0h2m10 0h2m4 0h2m0 0h2m2 0h2m0 0h2m0 0h2m-38 2h2m4 0h2m2 0h2m6 0h2m0 0h2m2 0h2m2 0h2m0 0h2m2 0h2m0 0h2m0 0h2m-42 2h2m2 0h2m2 0h2m0 0h2m0 0h2m2 0h2m0 0h2m2 0h2m2 0h2m0 0h2m2 0h2m0 0h2m2 0h2m0 0h2m-42 2h2m0 0h2m0 0h2m8 0h2m6 0h2m0 0h2m0 0h2m0 0h2m0 0h2m0 0h2m0 0h2m0 0h2m-38 2h2m0 0h2m2 0h2m0 0h2m0 0h2m0 0h2m2 0h2m0 0h2m2 0h2m0 0h2m0 0h2m0 0h2m0 0h2m2 0h2m0 0h2m4 0h2m-46 2h2m0 0h2m4 0h2m0 0h2m6 0h2m0 0h2m0 0h2m0 0h2m2 0h2m0 0h2m0 0h2m0 0h2m2 0h2m0 0h2m-40 2h2m0 0h2m2 0h2m0 0h2m0 0h2m4 0h2m2 0h2m0 0h2m4 0h2m0 0h2m2 0h2m0 0h2m0 0h2m0 0h2m-42 2h2m0 0h2m2 0h2m0 0h2m0 0h2m0 0h2m0 0h2m2 0h2m0 0h2m2 0h2m2 0h2m0 0h2m2 0h2m0 0h2m0 0h2m-38 2h2m0 0h2m0 0h2m0 0h2m0 0h2m0 0h2m2 0h2m0 0h2m0 0h2m0 0h2m2 0h2m0 0h2m0 0h2m0 0h2m0 0h2m0 0h2m0 0h2m0 0h2m-42 2h2m2 0h2m0 0h2m0 0h2m0 0h2m0 0h2m0 0h2m0 0h2m2 0h2m0 0h2m0 0h2m0 0h2m0 0h2m2 0h2m0 0h2m0 0h2m0 0h2m0 0h2m0 0h2m-44 2h2m0 0h2m0 0h2m0 0h2m0 0h2m0 0h2m0 0h2m2 0h2m0 0h2m0 0h2m0 0h2m0 0h2m2 0h2m0 0h2m0 0h2m0 0h2m0 0h2m0 0h2m0 0h2m-42 2h2m2 0h2m2 0h2m0 0h2m0 0h2m0 0h2m0 0h2m0 0h2m0 0h2m2 0h2m0 0h2m0 0h2m4 0h2m2 0h2m0 0h2m0 0h2m-44 2h2m0 0h2m0 0h2m0 0h2m2 0h2m0 0h2m0 0h2m0 0h2m0 0h2m0 0h2m2 0h2m0 0h2m0 0h2m0 0h2m0 0h2m0 0h2m0 0h2m0 0h2m0 0h2m-42 2h2m0 0h2m0 0h2m0 0h2m0 0h2m2 0h2m0 0h2m0 0h2m0 0h2m0 0h2m0 0h2m0 0h2m0 0h2m2 0h2m0 0h2m0 0h2m0 0h2m0 0h2m0 0h2m0 0h2m-44 2h2m0 0h2m0 0h2m0 0h2m0 0h2m2 0h2m2 0h2m0 0h2m0 0h2m0 0h2m0 0h2m0 0h2m0 0h2m0 0h2m0 0h2m0 0h2m0 0h2m0 0h2m0 0h2m0 0h2m-44 2h2m0 0h2m0 0h2m2 0h2m0 0h2m0 0h2m0 0h2m0 0h2m0 0h2m0 0h2m0 0h2m0 0h2m0 0h2m0 0h2m2 0h2m0 0h2m0 0h2m0 0h2m0 0h2m0 0h2m-44 2h2m0 0h2m0 0h2m0 0h2m0 0h2m0 0h2m0 0h2m0 0h2m0 0h2m2 0h2m0 0h2m0 0h2m0 0h2m0 0h2m0 0h2m0 0h2m0 0h2m0 0h2m2 0h2m-40 2h2m0 0h2m2 0h2m0 0h2m0 0h2m0 0h2m0 0h2m0 0h2m0 0h2m0 0h2m0 0h2m0 0h2m0 0h2m0 0h2m0 0h2m0 0h2m0 0h2m0 0h2m0 0h2m-44 2h2m0 0h2m0 0h2m0 0h2m2 0h2m0 0h2m0 0h2m0 0h2m0 0h2m0 0h2m0 0h2m0 0h2m0 0h2m0 0h2m0 0h2m0 0h2m2 0h2m0 0h2m0 0h2m0 0h2m-42 2h2m0 0h2m0 0h2m0 0h2m0 0h2m0 0h2m0 0h2m2 0h2m2 0h2m0 0h2m0 0h2m0 0h2m0 0h2m0 0h2m0 0h2m0 0h2m0 0h2m0 0h2m0 0h2m0 0h2m-42 2h2m0 0h2m0 0h2m0 0h2m0 0h2m0 0h2m0 0h2m0 0h2m0 0h2m0 0h2m0 0h2m0 0h2m0 0h2m0 0h2m0 0h2m0 0h2m0 0h2m0 0h2m0 0h2m0 0h2m0 0h2m-46 2h2m0 0h2m0 0h2m0 0h2m0 0h2m0 0h2m2 0h2m0 0h2m0 0h2m0 0h2m0 0h2m0 0h2m0 0h2m0 0h2m2 0h2m0 0h2m0 0h2m0 0h2m0 0h2m0 0h2m0 0h2m-44 2h2m0 0h2m0 0h2m0 0h2m0 0h2m0 0h2m0 0h2m0 0h2m0 0h2m0 0h2m0 0h2m0 0h2m0 0h2m0 0h2m0 0h2m0 0h2m0 0h2m2 0h2m0 0h2m2 0h2m-44 2h2m0 0h2m0 0h2m2 0h2m0 0h2m0 0h2m0 0h2m0 0h2m0 0h2m0 0h2m0 0h2m0 0h2m0 0h2m0 0h2m0 0h2m0 0h2m0 0h2m2 0h2m0 0h2m0 0h2m-42 2h2m0 0h2m0 0h2m0 0h2m0 0h2m0 0h2m0 0h2m0 0h2m0 0h2m0 0h2m0 0h2m2 0h2m0 0h2m0 0h2m0 0h2m0 0h2m0 0h2m0 0h2m-42 2h2m0 0h2m0 0h2m0 0h2m0 0h2m0 0h2m0 0h2m0 0h2m0 0h2m4 0h2m0 0h2m0 0h2m0 0h2m2 0h2m0 0h2m0 0h2m0 0h2m2 0h2m0 0h2m-46 2h2m0 0h2m0 0h2m0 0h2m0 0h2m0 0h2m0 0h2m0 0h2m0 0h2m0 0h2m0 0h2m0 0h2m0 0h2m0 0h2m0 0h2m0 0h2m0 0h2m0 0h2m0 0h2m0 0h2m0 0h2m0 0h2m-44 2h2m0 0h2m0 0h2m0 0h2m0 0h2m0 0h2m0 0h2m0 0h2m0 0h2m0 0h2m0 0h2m0 0h2m0 0h2m0 0h2m2 0h2m0 0h2m0 0h2m2 0h2m0 0h2m0 0h2m0 0h2m-44 2h2m0 0h2m0 0h2m0 0h2m0 0h2m0 0h2m0 0h2m0 0h2m0 0h2m2 0h2m0 0h2m0 0h2m2 0h2m2 0h2m0 0h2m0 0h2m0 0h2m0 0h2m0 0h2m-40 2h2m0 0h2m0 0h2m0 0h2m0 0h2m0 0h2m0 0h2m0 0h2m0 0h2m0 0h2m0 0h2m2 0h2m0 0h2m0 0h2m0 0h2m0 0h2m0 0h2m0 0h2m0 0h2m-46 2h2m0 0h2m0 0h2m0 0h2m8 0h2m0 0h2m0 0h2m0 0h2m0 0h2m0 0h2m0 0h2m2 0h2m0 0h2m0 0h2m0 0h2m0 0h2m0 0h2m0 0h2m-46 2h2m0 0h2m0 0h2m0 0h2m0 0h2m0 0h2m0 0h2m0 0h2m2 0h2m0 0h2m0 0h2m0 0h2m0 0h2m0 0h2m0 0h2m0 0h2m0 0h2m0 0h2m0 0h2m0 0h2m-42 2h2m0 0h2m0 0h2m0 0h2m0 0h2m2 0h2m0 0h2m0 0h2m0 0h2m0 0h2m0 0h2m0 0h2m0 0h2m0 0h2m0 0h2m0 0h2m0 0h2m0 0h2m0 0h2m0 0h2m0 0h2m0 0h2m-46 2h2m0 0h2m0 0h2m0 0h2m0 0h2m2 0h2m0 0h2m0 0h2m0 0h2m0 0h2m0 0h2m0 0h2m2 0h2m0 0h2m0 0h2m0 0h2m0 0h2m0 0h2m0 0h2m0 0h2m0 0h2m-44 2h2m0 0h2m0 0h2m0 0h2m0 0h2m2 0h2m0 0h2m0 0h2m0 0h2m0 0h2m0 0h2m0 0h2m0 0h2m0 0h2m0 0h2m0 0h2m0 0h2m0 0h2m0 0h2m0 0h2m0 0h2m-44 2h2m0 0h2m0 0h2m0 0h2m0 0h2m0 0h2m0 0h2m0 0h2m0 0h2m0 0h2m0 0h2m0 0h2m0 0h2m0 0h2m2 0h2m0 0h2m0 0h2m0 0h2m0 0h2m0 0h2m-44 2h2m0 0h2m0 0h2m0 0h2m0 0h2m0 0h2m0 0h2m0 0h2m0 0h2m0 0h2m0 0h2m0 0h2m0 0h2m0 0h2m2 0h2m0 0h2m0 0h2m0 0h2m0 0h2m0 0h2m0 0h2m0 0h2m-46 2h2m0 0h2m0 0h2m0 0h2m0 0h2m0 0h2m2 0h2m0 0h2m0 0h2m0 0h2m0 0h2m0 0h2m0 0h2m0 0h2m0 0h2m2 0h2m0 0h2m0 0h2m0 0h2m0 0h2m0 0h2m-44 2h2m0 0h2m0 0h2m0 0h2m2 0h2m0 0h2m0 0h2m0 0h2m2 0h2m0 0h2m0 0h2m0 0h2m0 0h2m0 0h2m0 0h2m0 0h2m2 0h2m0 0h2m-42 2h2m0 0h2m0 0h2m0 0h2m0 0h2m0 0h2m0 0h2m0 0h2m0 0h2m0 0h2m0 0h2m2 0h2m0 0h2m0 0h2m0 0h2m4 0h2m0 0h2m0 0h2m0 0h2m-44 2h2m2 0h2m0 0h2m0 0h2m0 0h2m2 0h2m0 0h2m0 0h2m0 0h2m0 0h2m0 0h2m0 0h2m0 0h2m0 0h2m0 0h2m0 0h2m2 0h2m0 0h2m0 0h2m-46 2h2m0 0h2m0 0h2m0 0h2m2 0h2m0 0h2m0 0h2m0 0h2m0 0h2m0 0h2m0 0h2m0 0h2m0 0h2m0 0h2m0 0h2m0 0h2m0 0h2m0 0h2m2 0h2m0 0h2m-44 2h2m0 0h2m0 0h2m0 0h2m0 0h2m0 0h2m0 0h2m0 0h2m0 0h2m0 0h2m2 0h2m0 0h2m0 0h2m0 0h2m0 0h2m0 0h2m0 0h2m0 0h2m0 0h2m0 0h2m0 0h2m-42 2h2m0 0h2m0 0h2m0 0h2m2 0h2m0 0h2m0 0h2m0 0h2m0 0h2m0 0h2m0 0h2m0 0h2m0 0h2m0 0h2m0 0h2m0 0h2m0 0h2m2 0h2m0 0h2m0 0h2m-44 2h2m0 0h2m0 0h2m0 0h2m0 0h2m0 0h2m0 0h2m0 0h2m0 0h2m0 0h2m0 0h2m0 0h2m0 0h2m0 0h2m0 0h2m0 0h2m0 0h2m0 0h2m0 0h2m0 0h2m0 0h2m-42 2h2m0 0h2m0 0h2m0 0h2m0 0h2m2 0h2m0 0h2m0 0h2m2 0h2m0 0h2m0 0h2m0 0h2m0 0h2m0 0h2m0 0h2m0 0h2m0 0h2m0 0h2m0 0h2m-42 2h2m0 0h2m0 0h2m0 0h2m0 0h2m2 0h2m0 0h2m0 0h2m0 0h2m0 0h2m0 0h2m0 0h2m2 0h2m0 0h2m0 0h2m0 0h2m0 0h2m0 0h2m2 0h2m-46 2h2m0 0h2m2 0h2m0 0h2m0 0h2m0 0h2m0 0h2m0 0h2m0 0h2m0 0h2m0 0h2m0 0h2m0 0h2m0 0h2m0 0h2m0 0h2m0 0h2m0 0h2m0 0h2m0 0h2m0 0h2m-44 2h2m2 0h2m0 0h2m0 0h2m0 0h2m0 0h2m0 0h2m0 0h2m0 0h2m2 0h2m0 0h2m0 0h2m4 0h2m0 0h2m0 0h2m0 0h2m0 0h2m0 0h2m-44 2h2m0 0h2m0 0h2m4 0h2m0 0h2m2 0h2m0 0h2m0 0h2m0 0h2m0 0h2m0 0h2m2 0h2m0 0h2m0 0h2m0 0h2m0 0h2m0 0h2m0 0h2m0 0h2m-44 2h2m0 0h2m2 0h2m0 0h2m4 0h2m0 0h2m2 0h2m0 0h2m0 0h2m2 0h2m0 0h2m2 0h2m2 0h2m0 0h2m0 0h2m-44 2h2m0 0h2m0 0h2m2 0h2m2 0h2m0 0h2m0 0h2m0 0h2m2 0h2m0 0h2m0 0h2m0 0h2m2 0h2m0 0h2m0 0h2m0 0h2m2 0h2m-42 2h2m0 0h2m4 0h2m0 0h2m0 0h2m0 0h2m0 0h2m0 0h2m2 0h2m0 0h2m2 0h2m2 0h2m2 0h2m2 0h2m-44 2h2m2 0h2m0 0h2m0 0h2m0 0h2m0 0h2m6 0h2m2 0h2m0 0h2m0 0h2m0 0h2m0 0h2m2 0h2m0 0h2m0 0h2m-42 2h2m0 0h2m0 0h2m2 0h2m0 0h2m0 0h2m2 0h2m2 0h2m0 0h2m0 0h2m6 0h2m2 0h2m0 0h2m0 0h2m-42 2h2m6 0h2m4 0h2m0 0h2m2 0h2m0 0h2m0 0h2m4 0h2m2 0h2m0 0h2m2 0h2m-42 2h2m0 0h2m2 0h2m2 0h2m2 0h2m0 0h2m0 0h2m2 0h2m2 0h2m0 0h2m0 0h2m4 0h2m2 0h2m-42 2h2m2 0h2m0 0h2m8 0h2m0 0h2m4 0h2m2 0h2m0 0h2m0 0h2m4 0h2m-40 2h2m2 0h2m4 0h2m6 0h2m0 0h2m0 0h2m2 0h2m2 0h2m2 0h2m2 0h2m-38 2h2m10 0h2m2 0h2m0 0h2m2 0h2m0 0h2m0 0h2m4 0h2m2 0h2m-32 2h2m0 0h2m4 0h2m2 0h2m8 0h2m0 0h2m0 0h2m0 0h2m-34 2h2m0 0h2m0 0h2m0 0h2m0 0h2m10 0h2m14 0h2m-32 2h2m14 0h2m8 0h2m0 0h2m-40 2h2m16 0h2m8 0h2m6 0h2m0 0h2m-36 2h2m4 0h2m4 0h2m12 0h2m-14 2h2m4 0h2m10 0h2m-34 2h2m26 0h2m-12 2h2m6 0h2m-20 2h2m16 2h2m-34 18h2m0 0h2m0 0h2m2 0h2m0 0h2m0 0h2m0 0h2m0 0h2m0 0h2m0 0h2m0 0h2m0 0h2m0 0h2m0 0h2m0 0h2m0 0h2m0 0h2m0 0h2m0 0h2m0 0h2m0 0h2m0 0h2m-2 2h2"/>
<rect x="317.8" y="51" width="21.6" height="17" fill="#000"/>
<path transform="scale(.5)" stroke="#000" stroke-width="2" d="M678 73h2m-16 2h2m-10 2h2m-8 2h2m0 0h2m-16 2h2m10 0h2m12 0h2m2 2h2m2 0h2m2 0h2m-34 2h2m0 0h2m12 0h2m0 0h2m-28 2h2m8 0h2m10 0h2m-10 2h2m0 0h2m2 0h2m0 0h2m10 0h2m0 0h2m-38 2h2m4 0h2m2 0h2m2 0h2m6 0h2m12 0h2m2 0h2m-42 2h2m6 0h2m0 0h2m2 0h2m2 0h2m0 0h2m10 0h2m0 0h2m0 0h2m2 0h2m0 0h2m-40 2h2m0 0h2m0 0h2m4 0h2m2 0h2m0 0h2m0 0h2m0 0h2m0 0h2m0 0h2m2 0h2m0 0h2m0 0h2m-34 2h2m0 0h2m2 0h2m0 0h2m2 0h2m0 0h2m0 0h2m0 0h2m2 0h2m10 0h2m0 0h2m-42 2h2m2 0h2m0 0h2m0 0h2m0 0h2m2 0h2m0 0h2m0 0h2m0 0h2m0 0h2m0 0h2m0 0h2m0 0h2m2 0h2m2 0h2m0 0h2m0 0h2m0 0h2m-44 2h2m0 0h2m0 0h2m0 0h2m0 0h2m0 0h2m0 0h2m0 0h2m2 0h2m0 0h2m0 0h2m0 0h2m0 0h2m0 0h2m0 0h2m0 0h2m0 0h2m0 0h2m0 0h2m0 0h2m0 0h2m-44 36h2m2 0h2m0 0h2m0 0h2m0 0h2m0 0h2m0 0h2m0 0h2m0 0h2m0 0h2m0 0h2m0 0h2m0 0h2m0 0h2m0 0h2m0 0h2m0 0h2m0 0h2m0 0h2m0 0h2m0 0h2m-44 2h2m0 0h2m0 0h2m0 0h2m0 0h2m0 0h2m0 0h2m0 0h2m0 0h2m0 0h2m0 0h2m0 0h2m2 0h2m0 0h2m0 0h2m0 0h2m0 0h2m0 0h2m0 0h2m0 0h2m0 0h2m-44 2h2m0 0h2m0 0h2m0 0h2m0 0h2m0 0h2m0 0h2m0 0h2m0 0h2m0 0h2m0 0h2m0 0h2m0 0h2m0 0h2m0 0h2m0 0h2m0 0h2m0 0h2m0 0h2m0 0h2m0 0h2m0 0h2m-46 2h2m0 0h2m0 0h2m0 0h2m0 0h2m0 0h2m0 0h2m0 0h2m0 0h2m0 0h2m0 0h2m2 0h2m0 0h2m2 0h2m0 0h2m0 0h2m0 0h2m0 0h2m0 0h2m0 0h2m0 0h2m-44 2h2m0 0h2m0 0h2m0 0h2m0 0h2m0 0h2m0 0h2m0 0h2m0 0h2m0 0h2m0 0h2m0 0h2m0 0h2m0 0h2m0 0h2m0 0h2m0 0h2m0 0h2m0 0h2m0 0h2m0 0h2m0 0h2m-46 2h2m0 0h2m0 0h2m0 0h2m0 0h2m0 0h2m0 0h2m0 0h2m0 0h2m0 0h2m0 0h2m0 0h2m0 0h2m0 0h2m0 0h2m0 0h2m0 0h2m0 0h2m0 0h2m0 0h2m0 0h2m0 0h2m0 0h2m-44 2h2m0 0h2m0 0h2m0 0h2m0 0h2m0 0h2m0 0h2m0 0h2m0 0h2m0 0h2m0 0h2m0 0h2m0 0h2m0 0h2m0 0h2m2 0h2m0 0h2m0 0h2m0 0h2m0 0h2m0 0h2m-44 2h2m0 0h2m0 0h2m0 0h2m0 0h2m0 0h2m0 0h2m0 0h2m0 0h2m0 0h2m0 0h2m0 0h2m0 0h2m0 0h2m0 0h2m0 0h2m0 0h2m0 0h2m0 0h2m0 0h2m0 0h2m-42 2h2m0 0h2m0 0h2m0 0h2m0 0h2m0 0h2m0 0h2m0 0h2m0 0h2m0 0h2m0 0h2m0 0h2m0 0h2m0 0h2m0 0h2m0 0h2m0 0h2m0 0h2m0 0h2m2 0h2m0 0h2m-44 2h2m0 0h2m0 0h2m0 0h2m0 0h2m0 0h2m0 0h2m0 0h2m0 0h2m0 0h2m0 0h2m0 0h2m0 0h2m0 0h2m0 0h2m0 0h2m0 0h2m0 0h2m0 0h2m0 0h2m0 0h2m-44 2h2m0 0h2m0 0h2m0 0h2m0 0h2m0 0h2m0 0h2m0 0h2m0 0h2m0 0h2m0 0h2m0 0h2m0 0h2m0 0h2m0 0h2m0 0h2m0 0h2m0 0h2m0 0h2m0 0h2m0 0h2m0 0h2m0 0h2m-46 2h2m0 0h2m0 0h2m0 0h2m0 0h2m0 0h2m0 0h2m0 0h2m0 0h2m0 0h2m0 0h2m0 0h2m0 0h2m0 0h2m0 0h2m0 0h2m0 0h2m0 0h2m0 0h2m0 0h2m0 0h2m0 0h2m0 0h2m-46 2h2m0 0h2m0 0h2m0 0h2m0 0h2m0 0h2m0 0h2m0 0h2m0 0h2m0 0h2m0 0h2m0 0h2m2 0h2m0 0h2m0 0h2m0 0h2m0 0h2m0 0h2m0 0h2m0 0h2m0 0h2m-42 2h2m0 0h2m0 0h2m0 0h2m0 0h2m0 0h2m0 0h2m0 0h2m0 0h2m0 0h2m0 0h2m0 0h2m0 0h2m0 0h2m0 0h2m0 0h2m0 0h2m0 0h2m0 0h2m0 0h2m0 0h2m0 0h2m-44 2h2m0 0h2m0 0h2m0 0h2m0 0h2m0 0h2m0 0h2m0 0h2m0 0h2m0 0h2m0 0h2m0 0h2m0 0h2m0 0h2m0 0h2m0 0h2m0 0h2m0 0h2m0 0h2m0 0h2m0 0h2m0 0h2m-46 2h2m0 0h2m0 0h2m0 0h2m0 0h2m0 0h2m0 0h2m0 0h2m0 0h2m0 0h2m0 0h2m0 0h2m0 0h2m0 0h2m0 0h2m0 0h2m0 0h2m0 0h2m0 0h2m0 0h2m0 0h2m0 0h2m0 0h2m-44 2h2m2 0h2m0 0h2m0 0h2m0 0h2m0 0h2m0 0h2m0 0h2m0 0h2m0 0h2m0 0h2m0 0h2m0 0h2m0 0h2m0 0h2m0 0h2m0 0h2m0 0h2m0 0h2m0 0h2m0 0h2m-46 2h2m0 0h2m0 0h2m0 0h2m0 0h2m0 0h2m0 0h2m0 0h2m0 0h2m0 0h2m0 0h2m0 0h2m0 0h2m0 0h2m0 0h2m2 0h2m0 0h2m0 0h2m0 0h2m0 0h2m0 0h2m0 0h2m-42 2h2m0 0h2m0 0h2m0 0h2m0 0h2m0 0h2m0 0h2m0 0h2m0 0h2m0 0h2m0 0h2m0 0h2m0 0h2m0 0h2m0 0h2m0 0h2m0 0h2m0 0h2m0 0h2m0 0h2m-44 2h2m0 0h2m0 0h2m0 0h2m0 0h2m0 0h2m0 0h2m0 0h2m0 0h2m0 0h2m0 0h2m0 0h2m2 0h2m2 0h2m0 0h2m2 0h2m0 0h2m0 0h2m0 0h2m0 0h2m-44 2h2m0 0h2m0 0h2m2 0h2m2 0h2m0 0h2m0 0h2m0 0h2m0 0h2m2 0h2m0 0h2m0 0h2m2 0h2m0 0h2m0 0h2m0 0h2m0 0h2m-44 2h2m0 0h2m0 0h2m0 0h2m0 0h2m2 0h2m0 0h2m0 0h2m0 0h2m0 0h2m0 0h2m0 0h2m4 0h2m2 0h2m0 0h2m0 0h2m2 0h2m-40 2h2m0 0h2m2 0h2m0 0h2m4 0h2m2 0h2m2 0h2m0 0h2m2 0h2m2 0h2m2 0h2m0 0h2m-42 2h2m6 0h2m0 0h2m2 0h2m2 0h2m0 0h2m0 0h2m6 0h2m0 0h2m2 0h2m2 0h2m0 0h2m-40 2h2m0 0h2m2 0h2m0 0h2m2 0h2m0 0h2m6 0h2m0 0h2m0 0h2m0 0h2m0 0h2m0 0h2m0 0h2m0 0h2m-40 2h2m2 0h2m8 0h2m2 0h2m0 0h2m0 0h2m0 0h2m0 0h2m2 0h2m0 0h2m0 0h2m0 0h2m0 0h2m-40 2h2m0 0h2m0 0h2m0 0h2m2 0h2m2 0h2m0 0h2m0 0h2m2 0h2m2 0h2m0 0h2m0 0h2m-32 2h2m6 0h2m6 0h2m0 0h2m2 0h2m0 0h2m0 0h2m4 0h2m0 0h2m0 0h2m0 0h2m-42 2h2m2 0h2m2 0h2m0 0h2m0 0h2m4 0h2m12 0h2m0 0h2m0 0h2m2 0h2m-40 2h2m16 0h2m2 0h2m0 0h2m0 0h2m0 0h2m0 0h2m2 0h2m0 0h2m-34 2h2m0 0h2m2 0h2m4 0h2m4 0h2m0 0h2m2 0h2m0 0h2m6 0h2m-42 2h2m0 0h2m2 0h2m0 0h2m8 0h2m10 0h2m-32 2h2m4 0h2m2 0h2m10 0h2m0 0h2m2 0h2m2 0h2m-34 2h2m0 0h2m14 0h2m4 0h2m10 0h2m0 0h2m-40 2h2m12 0h2m0 0h2m4 0h2m0 0h2m0 0h2m2 0h2m2 0h2m-36 2h2m0 0h2m0 0h2m12 0h2m4 0h2m8 0h2m2 0h2m-40 2h2m0 0h2m16 0h2m0 0h2m0 0h2m0 0h2m4 0h2m6 0h2m-42 2h2m6 0h2m6 0h2m2 0h2m4 0h2m6 0h2m0 0h2m-36 2h2m0 0h2m12 0h2m0 0h2m0 0h2m4 0h2m2 0h2m4 0h2m-38 2h2m8 0h2m6 0h2m6 0h2m0 0h2m2 0h2m0 0h2m-38 2h2m2 0h2m16 0h2m8 0h2m0 0h2m2 0h2m-34 2h2m10 0h2m0 0h2m10 0h2m2 0h2m2 0h2m-40 2h2m0 0h2m0 0h2m18 0h2m4 0h2m0 0h2m-36 2h2m4 0h2m2 0h2m6 0h2m2 0h2m10 0h2m6 0h2m-42 2h2m0 0h2m0 0h2m4 0h2m6 0h2m0 0h2m2 0h2m2 0h2m-28 2h2m0 0h2m0 0h2m0 0h2m0 0h2m2 0h2m22 0h2m-44 2h2m2 0h2m6 0h2m4 0h2m0 0h2m4 0h2m14 0h2m-42 2h2m2 0h2m2 0h2m2 0h2m0 0h2m0 0h2m0 0h2m2 0h2m-18 2h2m6 0h2m10 0h2m2 0h2m0 0h2m2 0h2m2 0h2m-40 2h2m2 0h2m4 0h2m6 0h2m0 0h2m2 0h2m0 0h2m-26 2h2m2 0h2m10 0h2m0 0h2m2 0h2m6 0h2m4 0h2m-40 2h2m0 0h2m10 0h2m4 0h2m2 0h2m0 0h2m0 0h2m0 0h2m-34 2h2m8 0h2m0 0h2m2 0h2m2 0h2m0 0h2m0 0h2m4 0h2m2 0h2m4 0h2m-44 2h2m2 0h2m2 0h2m0 0h2m2 0h2m2 0h2m0 0h2m8 0h2m10 0h2m0 0h2m-42 2h2m0 0h2m2 0h2m4 0h2m2 0h2m0 0h2m0 0h2m8 0h2m4 0h2m-38 2h2m8 0h2m0 0h2m4 0h2m0 0h2m2 0h2m0 0h2m0 0h2m0 0h2m2 0h2m0 0h2m0 0h2m-40 2h2m0 0h2m4 0h2m4 0h2m4 0h2m4 0h2m0 0h2m0 0h2m0 0h2m0 0h2m0 0h2m-38 2h2m0 0h2m0 0h2m0 0h2m8 0h2m0 0h2m2 0h2m0 0h2m0 0h2m4 0h2m0 0h2m0 0h2m2 0h2m-44 2h2m0 0h2m0 0h2m0 0h2m0 0h2m0 0h2m2 0h2m2 0h2m2 0h2m8 0h2m4 0h2m2 0h2m-44 2h2m0 0h2m2 0h2m0 0h2m0 0h2m2 0h2m2 0h2m0 0h2m0 0h2m2 0h2m0 0h2m4 0h2m0 0h2m0 0h2m2 0h2m-44 2h2m0 0h2m0 0h2m0 0h2m2 0h2m2 0h2m4 0h2m2 0h2m0 0h2m0 0h2m0 0h2m0 0h2m2 0h2m2 0h2m-38 2h2m0 0h2m0 0h2m0 0h2m0 0h2m0 0h2m0 0h2m8 0h2m0 0h2m0 0h2m0 0h2m2 0h2m0 0h2m0 0h2m-40 2h2m0 0h2m2 0h2m0 0h2m2 0h2m0 0h2m0 0h2m4 0h2m2 0h2m0 0h2m0 0h2m2 0h2m0 0h2m-40 2h2m0 0h2m0 0h2m0 0h2m0 0h2m0 0h2m0 0h2m2 0h2m0 0h2m0 0h2m2 0h2m0 0h2m8 0h2m-40 2h2m0 0h2m0 0h2m2 0h2m0 0h2m0 0h2m2 0h2m4 0h2m2 0h2m0 0h2m0 0h2m2 0h2m0 0h2m2 0h2m2 0h2m-42 2h2m0 0h2m2 0h2m0 0h2m0 0h2m0 0h2m0 0h2m2 0h2m0 0h2m0 0h2m2 0h2m0 0h2m2 0h2m0 0h2m-34 2h2m6 0h2m6 0h2m0 0h2m0 0h2m2 0h2m0 0h2m4 0h2m0 0h2m0 0h2m-40 2h2m0 0h2m0 0h2m0 0h2m2 0h2m0 0h2m0 0h2m4 0h2m2 0h2m0 0h2m0 0h2m2 0h2m0 0h2m0 0h2m-42 2h2m0 0h2m4 0h2m0 0h2m0 0h2m0 0h2m2 0h2m0 0h2m2 0h2m2 0h2m2 0h2m0 0h2m0 0h2m0 0h2m0 0h2m0 0h2m-42 2h2m4 0h2m2 0h2m0 0h2m0 0h2m0 0h2m0 0h2m0 0h2m0 0h2m4 0h2m2 0h2m0 0h2m0 0h2m2 0h2m-40 2h2m0 0h2m2 0h2m4 0h2m2 0h2m0 0h2m0 0h2m0 0h2m0 0h2m0 0h2m4 0h2m2 0h2m0 0h2m0 0h2m-44 2h2m6 0h2m2 0h2m0 0h2m0 0h2m0 0h2m2 0h2m2 0h2m0 0h2m0 0h2m2 0h2m0 0h2m0 0h2m0 0h2m-42 2h2m0 0h2m0 0h2m0 0h2m0 0h2m0 0h2m0 0h2m0 0h2m0 0h2m0 0h2m4 0h2m0 0h2m2 0h2m0 0h2m0 0h2m0 0h2m2 0h2m0 0h2m-44 2h2m0 0h2m4 0h2m2 0h2m0 0h2m0 0h2m0 0h2m0 0h2m0 0h2m0 0h2m0 0h2m0 0h2m0 0h2m2 0h2m0 0h2m-36 2h2m0 0h2m0 0h2m2 0h2m0 0h2m4 0h2m0 0h2m0 0h2m0 0h2m0 0h2m2 0h2m2 0h2m2 0h2m0 0h2m-44 2h2m0 0h2m0 0h2m6 0h2m2 0h2m0 0h2m2 0h2m0 0h2m2 0h2m0 0h2m0 0h2m2 0h2m0 0h2m0 0h2m0 0h2m0 0h2m-44 2h2m0 0h2m0 0h2m0 0h2m2 0h2m2 0h2m0 0h2m0 0h2m4 0h2m0 0h2m0 0h2m0 0h2m0 0h2m0 0h2m0 0h2m0 0h2m0 0h2m0 0h2m-44 2h2m2 0h2m2 0h2m0 0h2m0 0h2m2 0h2m0 0h2m0 0h2m0 0h2m2 0h2m0 0h2m0 0h2m0 0h2m2 0h2m0 0h2m-38 2h2m0 0h2m2 0h2m0 0h2m2 0h2m0 0h2m0 0h2m0 0h2m2 0h2m0 0h2m0 0h2m0 0h2m0 0h2m0 0h2m0 0h2m2 0h2m-44 2h2m4 0h2m2 0h2m2 0h2m0 0h2m0 0h2m0 0h2m0 0h2m0 0h2m0 0h2m4 0h2m0 0h2m0 0h2m0 0h2m0 0h2m0 0h2m-42 2h2m0 0h2m0 0h2m0 0h2m4 0h2m0 0h2m0 0h2m0 0h2m0 0h2m0 0h2m0 0h2m0 0h2m0 0h2m0 0h2m0 0h2m0 0h2m0 0h2m2 0h2m-42 2h2m0 0h2m0 0h2m0 0h2m0 0h2m0 0h2m4 0h2m2 0h2m2 0h2m0 0h2m0 0h2m0 0h2m0 0h2m0 0h2m0 0h2m0 0h2m0 0h2m-40 2h2m4 0h2m0 0h2m0 0h2m2 0h2m0 0h2m0 0h2m0 0h2m0 0h2m0 0h2m0 0h2m0 0h2m0 0h2m2 0h2m0 0h2m0 0h2m-44 2h2m0 0h2m0 0h2m0 0h2m0 0h2m0 0h2m0 0h2m0 0h2m0 0h2m0 0h2m6 0h2m0 0h2m2 0h2m0 0h2m4 0h2m-40 2h2m0 0h2m0 0h2m0 0h2m4 0h2m2 0h2m0 0h2m2 0h2m0 0h2m0 0h2m0 0h2m0 0h2m0 0h2m0 0h2m-36 2h2m0 0h2m0 0h2m0 0h2m0 0h2m4 0h2m0 0h2m0 0h2m0 0h2m0 0h2m2 0h2m0 0h2m0 0h2m0 0h2m0 0h2m0 0h2m0 0h2m0 0h2m-40 2h2m0 0h2m2 0h2m2 0h2m0 0h2m2 0h2m0 0h2m0 0h2m0 0h2m0 0h2m4 0h2m0 0h2m0 0h2m0 0h2m0 0h2m0 0h2m-44 2h2m2 0h2m0 0h2m0 0h2m2 0h2m0 0h2m4 0h2m0 0h2m0 0h2m6 0h2m2 0h2m2 0h2m0 0h2m-46 2h2m4 0h2m0 0h2m4 0h2m0 0h2m0 0h2m0 0h2m0 0h2m0 0h2m0 0h2m0 0h2m0 0h2m0 0h2m0 0h2m0 0h2m0 0h2m2 0h2m-44 2h2m4 0h2m0 0h2m4 0h2m6 0h2m0 0h2m0 0h2m0 0h2m0 0h2m2 0h2m0 0h2m0 0h2m0 0h2m0 0h2m-42 2h2m0 0h2m0 0h2m2 0h2m0 0h2m0 0h2m6 0h2m2 0h2m0 0h2m0 0h2m2 0h2m0 0h2m0 0h2m2 0h2m-44 2h2m0 0h2m0 0h2m0 0h2m0 0h2m0 0h2m2 0h2m2 0h2m0 0h2m0 0h2m0 0h2m0 0h2m0 0h2m0 0h2m0 0h2m2 0h2m4 0h2m0 0h2m-44 2h2m2 0h2m0 0h2m0 0h2m2 0h2m2 0h2m0 0h2m2 0h2m0 0h2m0 0h2m0 0h2m6 0h2m2 0h2m-42 2h2m0 0h2m0 0h2m0 0h2m0 0h2m0 0h2m2 0h2m6 0h2m0 0h2m0 0h2m0 0h2m0 0h2m0 0h2m0 0h2m0 0h2m2 0h2m-40 2h2m2 0h2m0 0h2m0 0h2m0 0h2m4 0h2m4 0h2m2 0h2m0 0h2m0 0h2m0 0h2m0 0h2m0 0h2m-32 2h2m4 0h2m0 0h2m0 0h2m0 0h2m6 0h2m0 0h2m0 0h2m2 0h2m2 0h2m-40 2h2m0 0h2m2 0h2m0 0h2m2 0h2m4 0h2m0 0h2m6 0h2m2 0h2m0 0h2m0 0h2m2 0h2m-44 2h2m0 0h2m2 0h2m2 0h2m0 0h2m6 0h2m10 0h2m0 0h2m0 0h2m2 0h2m-42 2h2m6 0h2m0 0h2m0 0h2m2 0h2m6 0h2m0 0h2m2 0h2m2 0h2m2 0h2m0 0h2m0 0h2m-40 2h2m0 0h2m10 0h2m2 0h2m0 0h2m0 0h2m2 0h2m0 0h2m0 0h2m0 0h2m2 0h2m-38 2h2m4 0h2m0 0h2m4 0h2m0 0h2m8 0h2m0 0h2m0 0h2m0 0h2m0 0h2m0 0h2m-42 2h2m0 0h2m4 0h2m0 0h2m0 0h2m0 0h2m0 0h2m16 0h2m2 0h2m-40 2h2m14 0h2m2 0h2m2 0h2m0 0h2m6 0h2m2 0h2m-36 2h2m8 0h2m0 0h2m0 0h2m12 0h2m0 0h2m2 0h2m-38 2h2m6 0h2m2 0h2m8 0h2m0 0h2m0 0h2m8 0h2m-36 2h2m0 0h2m6 0h2m12 0h2m2 0h2m2 0h2m2 0h2m-40 2h2m0 0h2m10 0h2m4 0h2m4 0h2m10 0h2m-44 2h2m18 0h2m0 0h2m0 0h2m0 0h2m2 0h2m-22 2h2m12 0h2m0 0h2m0 0h2m2 0h2m-24 2h2m24 0h2m0 0h2m2 0h2m-28 2h2m0 0h2m0 0h2m-18 2h2m2 0h2m24 0h2m-14 2h2m10 0h2m-34 2h2m8 0h2m26 2h2m-40 18h2m2 0h2m0 0h2m4 0h2m0 0h2m4 0h2m4 0h2m2 0h2m0 0h2m0 0h2m4 0h2"/>
<path transform="scale(.5)" stroke="#000" stroke-width="2" d="M722 65h2m6 2h2m-34 2h2m-8 2h2m18 0h2m-20 2h2m26 0h2m-36 2h2m0 0h2m16 0h2m-20 2h2m10 0h2m2 0h2m16 0h2m-36 2h2m2 0h2m10 0h2m12 0h2m-32 2h2m4 0h2m16 0h2m4 0h2m0 0h2m0 0h2m4 0h2m-42 2h2m2 0h2m0 0h2m10 0h2m0 0h2m10 0h2m6 0h2m-32 2h2m0 0h2m2 0h2m2 0h2m2 0h2m6 0h2m0 0h2m0 0h2m0 0h2m-42 2h2m0 0h2m0 0h2m4 0h2m2 0h2m4 0h2m0 0h2m0 0h2m0 0h2m2 0h2m0 0h2m4 0h2m-40 2h2m0 0h2m4 0h2m0 0h2m0 0h2m0 0h2m0 0h2m0 0h2m4 0h2m0 0h2m0 0h2m0 0h2m0 0h2m2 0h2m2 0h2m-42 2h2m0 0h2m0 0h2m0 0h2m2 0h2m0 0h2m0 0h2m2 0h2m0 0h2m2 0h2m6 0h2m0 0h2m4 0h2m-40 2h2m0 0h2m0 0h2m2 0h2m0 0h2m0 0h2m0 0h2m0 0h2m2 0h2m0 0h2m0 0h2m0 0h2m0 0h2m2 0h2m2 0h2m0 0h2m-42 2h2m0 0h2m0 0h2m0 0h2m0 0h2m0 0h2m0 0h2m0 0h2m0 0h2m0 0h2m0 0h2m0 0h2m0 0h2m0 0h2m0 0h2m0 0h2m0 0h2m2 0h2m0 0h2m-40 2h2m0 0h2m0 0h2m0 0h2m0 0h2m0 0h2m0 0h2m0 0h2m0 0h2m2 0h2m0 0h2m0 0h2m0 0h2m0 0h2m0 0h2m0 0h2m0 0h2m0 0h2m0 0h2m-40 2h2m0 0h2m0 0h2m0 0h2m0 0h2m0 0h2m0 0h2m0 0h2m0 0h2m0 0h2m0 0h2m0 0h2m0 0h2m2 0h2m0 0h2m0 0h2m0 0h2m0 0h2m0 0h2m0 0h2m-42 2h2m0 0h2m0 0h2m0 0h2m0 0h2m0 0h2m2 0h2m0 0h2m0 0h2m2 0h2m0 0h2m0 0h2m0 0h2m0 0h2m0 0h2m0 0h2m0 0h2m0 0h2m0 0h2m0 0h2m-46 2h2m0 0h2m0 0h2m0 0h2m0 0h2m0 0h2m0 0h2m0 0h2m0 0h2m0 0h2m0 0h2m0 0h2m0 0h2m0 0h2m0 0h2m0 0h2m0 0h2m0 0h2m0 0h2m0 0h2m0 0h2m0 0h2m-42 2h2m0 0h2m0 0h2m0 0h2m0 0h2m0 0h2m0 0h2m0 0h2m4 0h2m0 0h2m0 0h2m0 0h2m0 0h2m0 0h2m0 0h2m0 0h2m0 0h2m0 0h2m0 0h2m0 0h2m-46 2h2m0 0h2m0 0h2m2 0h2m2 0h2m0 0h2m0 0h2m0 0h2m0 0h2m0 0h2m0 0h2m0 0h2m0 0h2m0 0h2m0 0h2m0 0h2m2 0h2m0 0h2m0 0h2m-42 2h2m0 0h2m2 0h2m0 0h2m0 0h2m0 0h2m0 0h2m0 0h2m0 0h2m0 0h2m0 0h2m0 0h2m0 0h2m0 0h2m0 0h2m0 0h2m0 0h2m0 0h2m0 0h2m0 0h2m-42 2h2m0 0h2m0 0h2m0 0h2m4 0h2m0 0h2m0 0h2m0 0h2m0 0h2m0 0h2m0 0h2m0 0h2m0 0h2m0 0h2m0 0h2m0 0h2m2 0h2m0 0h2m0 0h2m-44 2h2m0 0h2m0 0h2m0 0h2m0 0h2m0 0h2m0 0h2m0 0h2m4 0h2m0 0h2m0 0h2m0 0h2m0 0h2m0 0h2m0 0h2m0 0h2m0 0h2m0 0h2m0 0h2m-42 2h2m0 0h2m0 0h2m0 0h2m2 0h2m0 0h2m0 0h2m0 0h2m0 0h2m2 0h2m0 0h2m0 0h2m0 0h2m0 0h2m0 0h2m0 0h2m0 0h2m4 0h2m-42 2h2m0 0h2m0 0h2m0 0h2m0 0h2m0 0h2m0 0h2m0 0h2m0 0h2m0 0h2m0 0h2m0 0h2m0 0h2m0 0h2m0 0h2m0 0h2m0 0h2m0 0h2m0 0h2m0 0h2m0 0h2m-46 2h2m0 0h2m0 0h2m0 0h2m0 0h2m0 0h2m0 0h2m2 0h2m0 0h2m0 0h2m2 0h2m0 0h2m0 0h2m0 0h2m0 0h2m2 0h2m0 0h2m0 0h2m0 0h2m0 0h2m-44 2h2m0 0h2m0 0h2m0 0h2m0 0h2m0 0h2m0 0h2m2 0h2m0 0h2m0 0h2m0 0h2m0 0h2m0 0h2m0 0h2m0 0h2m0 0h2m0 0h2m0 0h2m0 0h2m0 0h2m-42 2h2m0 0h2m0 0h2m0 0h2m0 0h2m0 0h2m0 0h2m0 0h2m0 0h2m0 0h2m2 0h2m0 0h2m0 0h2m0 0h2m0 0h2m0 0h2m0 0h2m0 0h2m0 0h2m0 0h2m-44 2h2m0 0h2m0 0h2m0 0h2m0 0h2m0 0h2m0 0h2m0 0h2m2 0h2m0 0h2m0 0h2m0 0h2m0 0h2m2 0h2m0 0h2m0 0h2m0 0h2m0 0h2m0 0h2m0 0h2m-42 2h2m0 0h2m0 0h2m0 0h2m0 0h2m0 0h2m0 0h2m0 0h2m2 0h2m2 0h2m0 0h2m0 0h2m0 0h2m0 0h2m0 0h2m0 0h2m0 0h2m0 0h2m0 0h2m0 0h2m-42 2h2m0 0h2m0 0h2m0 0h2m0 0h2m0 0h2m0 0h2m0 0h2m0 0h2m0 0h2m0 0h2m0 0h2m0 0h2m0 0h2m2 0h2m0 0h2m0 0h2m0 0h2m0 0h2m0 0h2m-44 2h2m0 0h2m0 0h2m0 0h2m0 0h2m2 0h2m2 0h2m0 0h2m2 0h2m0 0h2m0 0h2m0 0h2m0 0h2m0 0h2m0 0h2m0 0h2m2 0h2m0 0h2m-46 2h2m0 0h2m0 0h2m0 0h2m0 0h2m0 0h2m0 0h2m0 0h2m0 0h2m0 0h2m0 0h2m0 0h2m0 0h2m0 0h2m0 0h2m0 0h2m0 0h2m0 0h2m0 0h2m2 0h2m0 0h2m0 0h2m-46 2h2m0 0h2m0 0h2m0 0h2m0 0h2m0 0h2m0 0h2m2 0h2m0 0h2m0 0h2m0 0h2m0 0h2m0 0h2m2 0h2m0 0h2m0 0h2m0 0h2m0 0h2m0 0h2m0 0h2m0 0h2m-44 2h2m0 0h2m0 0h2m0 0h2m0 0h2m0 0h2m2 0h2m0 0h2m0 0h2m2 0h2m0 0h2m0 0h2m4 0h2m0 0h2m0 0h2m0 0h2m0 0h2m-42 2h2m0 0h2m0 0h2m2 0h2m0 0h2m0 0h2m0 0h2m0 0h2m2 0h2m0 0h2m0 0h2m0 0h2m0 0h2m0 0h2m0 0h2m2 0h2m0 0h2m0 0h2m-44 2h2m0 0h2m0 0h2m0 0h2m0 0h2m0 0h2m0 0h2m0 0h2m0 0h2m0 0h2m0 0h2m0 0h2m0 0h2m0 0h2m0 0h2m0 0h2m0 0h2m0 0h2m0 0h2m0 0h2m0 0h2m0 0h2m0 0h2m-46 2h2m0 0h2m0 0h2m0 0h2m0 0h2m0 0h2m0 0h2m0 0h2m0 0h2m0 0h2m0 0h2m0 0h2m0 0h2m2 0h2m0 0h2m0 0h2m0 0h2m0 0h2m0 0h2m0 0h2m0 0h2m0 0h2m-44 2h2m0 0h2m0 0h2m0 0h2m2 0h2m0 0h2m0 0h2m0 0h2m0 0h2m0 0h2m0 0h2m0 0h2m0 0h2m0 0h2m2 0h2m0 0h2m0 0h2m0 0h2m0 0h2m-42 2h2m0 0h2m0 0h2m0 0h2m0 0h2m2 0h2m0 0h2m0 0h2m0 0h2m0 0h2m0 0h2m0 0h2m0 0h2m0 0h2m4 0h2m0 0h2m0 0h2m0 0h2m-42 2h2m0 0h2m0 0h2m0 0h2m0 0h2m0 0h2m0 0h2m4 0h2m0 0h2m0 0h2m0 0h2m0 0h2m6 0h2m0 0h2m0 0h2m0 0h2m0 0h2m-44 2h2m0 0h2m0 0h2m0 0h2m0 0h2m2 0h2m0 0h2m0 0h2m0 0h2m0 0h2m0 0h2m0 0h2m0 0h2m2 0h2m0 0h2m0 0h2m2 0h2m0 0h2m0 0h2m-46 2h2m0 0h2m0 0h2m0 0h2m0 0h2m0 0h2m0 0h2m0 0h2m0 0h2m0 0h2m0 0h2m0 0h2m0 0h2m0 0h2m0 0h2m0 0h2m0 0h2m0 0h2m0 0h2m0 0h2m2 0h2m-42 2h2m0 0h2m0 0h2m0 0h2m2 0h2m0 0h2m0 0h2m0 0h2m0 0h2m0 0h2m0 0h2m0 0h2m0 0h2m0 0h2m0 0h2m0 0h2m0 0h2m0 0h2m0 0h2m0 0h2m-42 2h2m0 0h2m0 0h2m0 0h2m0 0h2m0 0h2m0 0h2m0 0h2m0 0h2m0 0h2m0 0h2m0 0h2m0 0h2m0 0h2m0 0h2m0 0h2m0 0h2m0 0h2m0 0h2m0 0h2m0 0h2m-44 2h2m0 0h2m0 0h2m2 0h2m0 0h2m0 0h2m0 0h2m0 0h2m0 0h2m0 0h2m0 0h2m0 0h2m0 0h2m2 0h2m0 0h2m0 0h2m0 0h2m0 0h2m0 0h2m0 0h2m0 0h2m-44 2h2m0 0h2m0 0h2m0 0h2m0 0h2m0 0h2m0 0h2m0 0h2m0 0h2m4 0h2m0 0h2m2 0h2m0 0h2m0 0h2m0 0h2m0 0h2m0 0h2m0 0h2m-44 2h2m0 0h2m0 0h2m0 0h2m0 0h2m0 0h2m0 0h2m0 0h2m0 0h2m2 0h2m0 0h2m0 0h2m0 0h2m0 0h2m0 0h2m2 0h2m0 0h2m0 0h2m0 0h2m0 0h2m-42 2h2m0 0h2m0 0h2m0 0h2m0 0h2m0 0h2m0 0h2m0 0h2m0 0h2m0 0h2m0 0h2m0 0h2m2 0h2m0 0h2m0 0h2m0 0h2m2 0h2m0 0h2m0 0h2m-44 2h2m2 0h2m0 0h2m0 0h2m0 0h2m0 0h2m0 0h2m0 0h2m0 0h2m0 0h2m0 0h2m0 0h2m2 0h2m0 0h2m0 0h2m0 0h2m0 0h2m0 0h2m4 0h2m-46 2h2m2 0h2m2 0h2m0 0h2m2 0h2m0 0h2m4 0h2m0 0h2m0 0h2m0 0h2m0 0h2m0 0h2m0 0h2m0 0h2m0 0h2m0 0h2m0 0h2m0 0h2m-46 2h2m0 0h2m4 0h2m0 0h2m2 0h2m2 0h2m0 0h2m2 0h2m0 0h2m0 0h2m0 0h2m2 0h2m0 0h2m0 0h2m0 0h2m0 0h2m0 0h2m-44 2h2m4 0h2m0 0h2m0 0h2m0 0h2m0 0h2m0 0h2m0 0h2m0 0h2m2 0h2m0 0h2m2 0h2m0 0h2m0 0h2m0 0h2m0 0h2m0 0h2m-42 2h2m0 0h2m0 0h2m0 0h2m6 0h2m0 0h2m0 0h2m0 0h2m0 0h2m0 0h2m2 0h2m2 0h2m2 0h2m0 0h2m0 0h2m0 0h2m-42 2h2m2 0h2m0 0h2m0 0h2m0 0h2m0 0h2m0 0h2m0 0h2m0 0h2m0 0h2m2 0h2m0 0h2m0 0h2m0 0h2m0 0h2m4 0h2m-42 2h2m0 0h2m0 0h2m0 0h2m6 0h2m0 0h2m2 0h2m0 0h2m0 0h2m2 0h2m0 0h2m0 0h2m0 0h2m2 0h2m2 0h2m-44 2h2m2 0h2m0 0h2m4 0h2m4 0h2m0 0h2m4 0h2m4 0h2m0 0h2m2 0h2m0 0h2m-42 2h2m0 0h2m0 0h2m0 0h2m2 0h2m8 0h2m0 0h2m0 0h2m4 0h2m-32 2h2m2 0h2m0 0h2m0 0h2m0 0h2m6 0h2m12 0h2m0 0h2m2 0h2m2 0h2m-32 2h2m2 0h2m4 0h2m4 0h2m0 0h2m0 0h2m0 0h2m0 0h2m0 0h2m-36 2h2m0 0h2m0 0h2m4 0h2m0 0h2m0 0h2m0 0h2m2 0h2m10 0h2m0 0h2m-26 2h2m0 0h2m2 0h2m4 0h2m0 0h2m0 0h2m0 0h2m2 0h2m-22 2h2m2 0h2m2 0h2m2 0h2m0 0h2m2 0h2m4 0h2m-40 2h2m0 0h2m16 0h2m0 0h2m2 0h2m8 0h2m-40 2h2m2 0h2m4 0h2m20 0h2m0 0h2m2 0h2m0 0h2m-34 2h2m2 0h2m4 0h2m16 0h2m2 0h2m-42 2h2m12 0h2m0 0h2m14 0h2m0 0h2m-34 2h2m12 0h2m0 0h2m6 0h2m0 0h2m-24 2h2m8 0h2m14 0h2m4 0h2m0 0h2m-40 2h2m2 0h2m10 0h2m0 0h2m2 0h2m-26 2h2m6 0h2m8 0h2m6 0h2m8 0h2m-34 2h2m14 0h2m6 0h2m6 0h2m-36 2h2m4 0h2m4 0h2m2 0h2m4 0h2m-18 2h2m0 0h2m16 0h2m2 0h2m6 0h2m-40 2h2m18 0h2m4 0h2m2 0h2m-32 2h2m2 0h2m12 0h2m0 0h2m6 0h2m-28 2h2m6 0h2m0 0h2m2 0h2m-6 2h2m2 0h2m0 0h2m10 0h2m6 0h2m-36 2h2m0 0h2m18 0h2m0 0h2m4 0h2m-38 2h2m2 0h2m12 0h2m0 0h2m6 0h2m-30 2h2m26 0h2m4 0h2m0 0h2m0 0h2m-40 2h2m2 0h2m6 0h2m2 0h2m22 0h2m-32 2h2m6 0h2m4 0h2m2 0h2m-26 2h2m12 0h2m2 0h2m2 0h2m10 0h2m-30 2h2m4 0h2m12 0h2m4 0h2m2 0h2m-18 2h2m0 0h2m12 0h2m-40 2h2m10 0h2m24 0h2m-28 2h2m0 0h2m8 0h2m6 0h2m4 0h2m-38 2h2m8 0h2m2 0h2m2 0h2m6 0h2m4 0h2m-34 2h2m8 0h2m0 0h2m12 0h2m4 0h2m2 0h2m-32 2h2m10 0h2m2 0h2m0 0h2m0 0h2m0 0h2m4 0h2m-34 2h2m8 0h2m0 0h2m0 0h2m0 0h2m4 0h2m10 0h2m-42 2h2m2 0h2m6 0h2m2 0h2m0 0h2m4 0h2m10 0h2m-32 2h2m4 0h2m2 0h2m0 0h2m12 0h2m0 0h2m2 0h2m-40 2h2m2 0h2m20 0h2m4 0h2m4 0h2m-40 2h2m0 0h2m0 0h2m4 0h2m0 0h2m12 0h2m4 0h2m2 0h2m-38 2h2m0 0h2m0 0h2m8 0h2m2 0h2m0 0h2m8 0h2m4 0h2m2 0h2m-34 2h2m4 0h2m0 0h2m2 0h2m0 0h2m2 0h2m2 0h2m4 0h2m0 0h2m-40 2h2m0 0h2m0 0h2m0 0h2m0 0h2m2 0h2m18 0h2m0 0h2m0 0h2m0 0h2m-38 2h2m4 0h2m0 0h2m0 0h2m2 0h2m2 0h2m8 0h2m0 0h2m4 0h2m-40 2h2m2 0h2m0 0h2m10 0h2m0 0h2m0 0h2m6 0h2m0 0h2m2 0h2m0 0h2m-38 2h2m2 0h2m2 0h2m4 0h2m4 0h2m0 0h2m0 0h2m4 0h2m2 0h2m-34 2h2m4 0h2m0 0h2m4 0h2m4 0h2m0 0h2m0 0h2m10 0h2m-40 2h2m0 0h2m2 0h2m4 0h2m2 0h2m12 0h2m0 0h2m0 0h2m0 0h2m-42 2h2m4 0h2m0 0h2m0 0h2m0 0h2m0 0h2m10 0h2m0 0h2m6 0h2m-34 2h2m0 0h2m0 0h2m0 0h2m0 0h2m0 0h2m2 0h2m2 0h2m0 0h2m8 0h2m2 0h2m-30 2h2m6 0h2m8 0h2m2 0h2m0 0h2m0 0h2m0 0h2m4 0h2m-42 2h2m4 0h2m6 0h2m0 0h2m2 0h2m0 0h2m0 0h2m0 0h2m6 0h2m0 0h2m-40 2h2m0 0h2m6 0h2m2 0h2m6 0h2m0 0h2m6 0h2m0 0h2m0 0h2m0 0h2m-40 2h2m0 0h2m4 0h2m0 0h2m2 0h2m4 0h2m6 0h2m4 0h2m0 0h2m0 0h2m-40 2h2m2 0h2m6 0h2m0 0h2m2 0h2m2 0h2m0 0h2m0 0h2m6 0h2m0 0h2m-28 2h2m0 0h2m0 0h2m0 0h2m2 0h2m0 0h2m0 0h2m0 0h2m10 0h2m0 0h2m-42 2h2m0 0h2m10 0h2m4 0h2m8 0h2m0 0h2m2 0h2m2 0h2m-28 2h2m0 0h2m0 0h2m2 0h2m0 0h2m0 0h2m2 0h2m6 0h2m0 0h2m-42 2h2m0 0h2m2 0h2m6 0h2m0 0h2m4 0h2m6 0h2m2 0h2m0 0h2m2 0h2m0 0h2m-46 2h2m4 0h2m2 0h2m0 0h2m0 0h2m2 0h2m2 0h2m2 0h2m6 0h2m0 0h2m2 0h2m-38 2h2m0 0h2m2 0h2m0 0h2m2 0h2m8 0h2m14 0h2m0 0h2m-44 2h2m0 0h2m0 0h2m0 0h2m6 0h2m6 0h2m2 0h2m2 0h2m2 0h2m0 0h2m-36 2h2m8 0h2m0 0h2m2 0h2m0 0h2m2 0h2m6 0h2m2 0h2m-32 2h2m0 0h2m4 0h2m4 0h2m0 0h2m0 0h2m0 0h2m0 0h2m-32 2h2m0 0h2m4 0h2m4 0h2m2 0h2m0 0h2m2 0h2m6 0h2m2 0h2m4 0h2m-42 2h2m4 0h2m2 0h2m8 0h2m0 0h2m8 0h2m0 0h2m2 0h2m2 0h2m-44 2h2m4 0h2m4 0h2m0 0h2m0 0h2m2 0h2m0 0h2m0 0h2m2 0h2m2 0h2m0 0h2m4 0h2m-34 2h2m4 0h2m10 0h2m4 0h2m0 0h2m0 0h2m0 0h2m0 0h2m-42 2h2m0 0h2m0 0h2m6 0h2m2 0h2m0 0h2m2 0h2m8 0h2m4 0h2m0 0h2m-36 2h2m4 0h2m2 0h2m2 0h2m0 0h2m0 0h2m0 0h2m2 0h2m2 0h2m4 0h2m0 0h2m-44 2h2m4 0h2m2 0h2m4 0h2m0 0h2m6 0h2m0 0h2m8 0h2m0 0h2m-44 2h2m0 0h2m0 0h2m2 0h2m0 0h2m10 0h2m8 0h2m4 0h2m0 0h2m0 0h2m-38 2h2m2 0h2m4 0h2m2 0h2m0 0h2m2 0h2m0 0h2m6 0h2m2 0h2m0 0h2m-36 2h2m4 0h2m6 0h2m0 0h2m0 0h2m2 0h2m0 0h2m0 0h2m0 0h2m0 0h2m-36 2h2m4 0h2m0 0h2m2 0h2m0 0h2m0 0h2m10 0h2m0 0h2m2 0h2m0 0h2m-32 2h2m0 0h2m18 0h2m2 0h2m0 0h2m2 0h2m-44 2h2m10 0h2m4 0h2m2 0h2m0 0h2m4 0h2m0 0h2m0 0h2m-26 2h2m10 0h2m0 0h2m2 0h2m0 0h2m0 0h2m6 0h2m0 0h2m-40 2h2m2 0h2m0 0h2m8 0h2m4 0h2m6 0h2m6 0h2m-42 2h2m2 0h2m2 0h2m0 0h2m8 0h2m6 0h2m0 0h2m-28 2h2m4 0h2m12 0h2m6 0h2m-30 2h2m8 0h2m0 0h2m0 0h2m0 0h2m8 0h2m-30 2h2m6 0h2m4 0h2m0 0h2m16 0h2m-8 2h2m2 0h2m0 0h2m0 0h2m-40 2h2m12 0h2m0 0h2m22 0h2m-34 2h2m16 0h2m4 0h2m-32 2h2m22 0h2m14 0h2m-46 2h2m28 0h2m6 0h2m-8 2h2m0 0h2m-20 2h2m16 0h2m-28 2h2m6 2h2m-14 2h2m-4 18h2m6 0h2m0 0h2m0 0h2m0 0h2m0 0h2m4 0h2m0 0h2m0 0h2m2 0h2m6 0h2"/>
<path transform="scale(.5)" stroke="#000" stroke-width="2" d="M778 115h2m-34 2h2m-8 2h2m28 2h2m10 2h2m-6 2h2m-4 2h2m-28 2h2m12 2h2m-8 2h2m2 2h2m-18 2h2m0 2h2m14 2h2m-2 2h2m-12 2h2m16 2h2m-20 2h2m12 2h2m-30 2h2m22 2h2m14 2h2m-38 2h2m24 2h2m-10 2h2m14 2h2m-26 2h2m20 2h2m-20 2h2m-18 2h2m-4 2h2m30 2h2m-22 2h2m2 2h2m24 2h2m-8 2h2m-16 2h2m8 2h2m6 0h2m-16 2h2m0 0h2m-14 2h2m6 0h2m-20 2h2m0 0h2m-4 2h2m12 0h2m-8 2h2m24 0h2m-30 2h2m18 0h2m-14 2h2m2 0h2m10 0h2m-30 2h2m14 0h2m-22 2h2m12 0h2m6 0h2m4 0h2m-28 2h2m2 0h2m18 0h2m2 0h2m-22 2h2m4 0h2m0 0h2m6 0h2m10 0h2m-42 2h2m6 0h2m2 0h2m22 0h2m2 0h2m-44 2h2m6 0h2m2 0h2m24 0h2m0 0h2m-26 2h2m0 0h2m0 0h2m2 0h2m12 0h2m-36 2h2m12 0h2m0 0h2m4 0h2m10 0h2m-40 2h2m2 0h2m4 0h2m4 0h2m0 0h2m6 0h2m6 0h2m4 0h2m-34 2h2m8 0h2m0 0h2m4 0h2m2 0h2m2 0h2m0 0h2m2 0h2m-28 2h2m6 0h2m0 0h2m6 0h2m0 0h2m4 0h2m-42 2h2m2 0h2m6 0h2m4 0h2m0 0h2m0 0h2m2 0h2m-28 2h2m0 0h2m6 0h2m2 0h2m0 0h2m0 0h2m0 0h2m4 0h2m12 0h2m-40 2h2m4 0h2m4 0h2m0 0h2m6 0h2m6 0h2m2 0h2m0 0h2m0 0h2m-42 2h2m0 0h2m2 0h2m2 0h2m6 0h2m2 0h2m4 0h2m0 0h2m6 0h2m0 0h2m0 0h2m-42 2h2m6 0h2m0 0h2m0 0h2m2 0h2m2 0h2m0 0h2m0 0h2m4 0h2m4 0h2m0 0h2m-38 2h2m0 0h2m4 0h2m0 0h2m2 0h2m4 0h2m0 0h2m0 0h2m0 0h2m0 0h2m4 0h2m-36 2h2m2 0h2m0 0h2m2 0h2m2 0h2m0 0h2m0 0h2m0 0h2m2 0h2m0 0h2m0 0h2m4 0h2m0 0h2m-44 2h2m0 0h2m4 0h2m0 0h2m0 0h2m0 0h2m2 0h2m0 0h2m4 0h2m2 0h2m4 0h2m2 0h2m0 0h2m-44 2h2m0 0h2m0 0h2m2 0h2m2 0h2m0 0h2m2 0h2m2 0h2m0 0h2m2 0h2m4 0h2m0 0h2m2 0h2m0 0h2m-42 2h2m4 0h2m0 0h2m4 0h2m0 0h2m8 0h2m0 0h2m2 0h2m0 0h2m0 0h2m0 0h2m0 0h2m0 0h2m-44 2h2m0 0h2m2 0h2m0 0h2m2 0h2m12 0h2m2 0h2m2 0h2m0 0h2m0 0h2m0 0h2m0 0h2m-44 2h2m2 0h2m8 0h2m0 0h2m0 0h2m0 0h2m0 0h2m0 0h2m0 0h2m2 0h2m0 0h2m0 0h2m0 0h2m0 0h2m0 0h2m-44 2h2m0 0h2m2 0h2m2 0h2m0 0h2m0 0h2m0 0h2m0 0h2m0 0h2m0 0h2m2 0h2m0 0h2m2 0h2m0 0h2m0 0h2m0 0h2m0 0h2m2 0h2m-40 2h2m0 0h2m0 0h2m0 0h2m0 0h2m0 0h2m0 0h2m0 0h2m0 0h2m0 0h2m0 0h2m0 0h2m0 0h2m2 0h2m0 0h2m0 0h2m2 0h2m-44 2h2m0 0h2m0 0h2m0 0h2m2 0h2m4 0h2m0 0h2m0 0h2m0 0h2m6 0h2m0 0h2m0 0h2m2 0h2m0 0h2m-40 2h2m0 0h2m0 0h2m0 0h2m0 0h2m0 0h2m4 0h2m0 0h2m0 0h2m0 0h2m0 0h2m0 0h2m2 0h2m0 0h2m2 0h2m2 0h2m-44 2h2m2 0h2m0 0h2m0 0h2m2 0h2m2 0h2m2 0h2m0 0h2m0 0h2m2 0h2m0 0h2m0 0h2m0 0h2m0 0h2m0 0h2m0 0h2m2 0h2m-44 2h2m0 0h2m0 0h2m0 0h2m0 0h2m0 0h2m2 0h2m0 0h2m0 0h2m0 0h2m0 0h2m0 0h2m0 0h2m2 0h2m0 0h2m2 0h2m0 0h2m0 0h2m-42 2h2m0 0h2m0 0h2m2 0h2m0 0h2m2 0h2m0 0h2m4 0h2m0 0h2m0 0h2m0 0h2m0 0h2m0 0h2m2 0h2m0 0h2m-38 2h2m0 0h2m0 0h2m0 0h2m0 0h2m0 0h2m0 0h2m0 0h2m0 0h2m0 0h2m0 0h2m0 0h2m2 0h2m0 0h2m2 0h2m4 0h2m-42 2h2m0 0h2m2 0h2m0 0h2m0 0h2m0 0h2m0 0h2m0 0h2m0 0h2m2 0h2m0 0h2m2 0h2m0 0h2m0 0h2m0 0h2m4 0h2m0 0h2m-44 2h2m0 0h2m0 0h2m0 0h2m0 0h2m0 0h2m2 0h2m0 0h2m2 0h2m0 0h2m2 0h2m0 0h2m0 0h2m0 0h2m0 0h2m2 0h2m0 0h2m-44 2h2m0 0h2m0 0h2m2 0h2m0 0h2m0 0h2m0 0h2m0 0h2m0 0h2m2 0h2m0 0h2m0 0h2m0 0h2m0 0h2m0 0h2m0 0h2m2 0h2m0 0h2m0 0h2m-42 2h2m0 0h2m0 0h2m0 0h2m4 0h2m2 0h2m0 0h2m0 0h2m0 0h2m0 0h2m0 0h2m0 0h2m0 0h2m2 0h2m0 0h2m0 0h2m0 0h2m0 0h2m-42 2h2m2 0h2m0 0h2m0 0h2m2 0h2m0 0h2m0 0h2m4 0h2m0 0h2m0 0h2m0 0h2m0 0h2m0 0h2m0 0h2m0 0h2m0 0h2m0 0h2m-44 2h2m0 0h2m0 0h2m2 0h2m0 0h2m0 0h2m0 0h2m0 0h2m0 0h2m0 0h2m0 0h2m0 0h2m0 0h2m4 0h2m0 0h2m2 0h2m0 0h2m-42 2h2m0 0h2m2 0h2m2 0h2m0 0h2m0 0h2m0 0h2m0 0h2m2 0h2m0 0h2m0 0h2m0 0h2m0 0h2m0 0h2m0 0h2m0 0h2m0 0h2m0 0h2m-40 2h2m0 0h2m4 0h2m0 0h2m0 0h2m2 0h2m0 0h2m0 0h2m0 0h2m0 0h2m0 0h2m0 0h2m0 0h2m0 0h2m0 0h2m0 0h2m0 0h2m0 0h2m-42 2h2m0 0h2m0 0h2m0 0h2m2 0h2m0 0h2m0 0h2m0 0h2m2 0h2m0 0h2m0 0h2m0 0h2m0 0h2m0 0h2m0 0h2m0 0h2m0 0h2m2 0h2m-44 2h2m2 0h2m0 0h2m0 0h2m0 0h2m0 0h2m0 0h2m2 0h2m2 0h2m0 0h2m0 0h2m0 0h2m0 0h2m0 0h2m0 0h2m0 0h2m0 0h2m0 0h2m-44 2h2m0 0h2m0 0h2m0 0h2m0 0h2m0 0h2m0 0h2m0 0h2m2 0h2m0 0h2m0 0h2m0 0h2m0 0h2m0 0h2m0 0h2m0 0h2m0 0h2m0 0h2m0 0h2m0 0h2m0 0h2m-42 2h2m0 0h2m0 0h2m0 0h2m0 0h2m0 0h2m0 0h2m0 0h2m0 0h2m2 0h2m0 0h2m0 0h2m2 0h2m0 0h2m0 0h2m0 0h2m4 0h2m0 0h2m-44 2h2m0 0h2m0 0h2m0 0h2m0 0h2m0 0h2m0 0h2m2 0h2m0 0h2m0 0h2m0 0h2m0 0h2m0 0h2m0 0h2m0 0h2m6 0h2m0 0h2m-44 2h2m0 0h2m0 0h2m0 0h2m2 0h2m0 0h2m4 0h2m0 0h2m0 0h2m0 0h2m0 0h2m2 0h2m2 0h2m0 0h2m0 0h2m0 0h2m0 0h2m-44 2h2m0 0h2m0 0h2m0 0h2m0 0h2m0 0h2m2 0h2m0 0h2m0 0h2m0 0h2m0 0h2m0 0h2m0 0h2m0 0h2m0 0h2m0 0h2m4 0h2m0 0h2m0 0h2m-44 2h2m0 0h2m0 0h2m0 0h2m0 0h2m0 0h2m0 0h2m2 0h2m0 0h2m0 0h2m2 0h2m0 0h2m0 0h2m0 0h2m0 0h2m0 0h2m0 0h2m0 0h2m0 0h2m0 0h2m-42 2h2m0 0h2m0 0h2m0 0h2m0 0h2m0 0h2m0 0h2m0 0h2m2 0h2m0 0h2m0 0h2m0 0h2m0 0h2m0 0h2m0 0h2m0 0h2m0 0h2m2 0h2m0 0h2m-42 2h2m0 0h2m2 0h2m0 0h2m0 0h2m0 0h2m0 0h2m2 0h2m0 0h2m0 0h2m0 0h2m0 0h2m0 0h2m0 0h2m0 0h2m2 0h2m0 0h2m0 0h2m0 0h2m-44 2h2m0 0h2m0 0h2m0 0h2m0 0h2m0 0h2m2 0h2m0 0h2m0 0h2m0 0h2m0 0h2m2 0h2m6 0h2m0 0h2m0 0h2m0 0h2m0 0h2m-46 2h2m0 0h2m0 0h2m4 0h2m0 0h2m0 0h2m0 0h2m0 0h2m0 0h2m2 0h2m0 0h2m0 0h2m0 0h2m0 0h2m0 0h2m0 0h2m0 0h2m0 0h2m0 0h2m0 0h2m-44 2h2m2 0h2m2 0h2m0 0h2m0 0h2m0 0h2m2 0h2m0 0h2m0 0h2m0 0h2m2 0h2m0 0h2m0 0h2m0 0h2m0 0h2m0 0h2m0 0h2m0 0h2m-44 2h2m0 0h2m2 0h2m0 0h2m2 0h2m0 0h2m0 0h2m2 0h2m0 0h2m0 0h2m0 0h2m0 0h2m0 0h2m2 0h2m0 0h2m0 0h2m0 0h2m-40 2h2m0 0h2m0 0h2m0 0h2m0 0h2m2 0h2m2 0h2m0 0h2m2 0h2m2 0h2m0 0h2m0 0h2m2 0h2m0 0h2m0 0h2m-40 2h2m0 0h2m0 0h2m0 0h2m0 0h2m2 0h2m0 0h2m0 0h2m0 0h2m0 0h2m2 0h2m0 0h2m4 0h2m0 0h2m0 0h2m0 0h2m0 0h2m-44 2h2m0 0h2m0 0h2m0 0h2m0 0h2m0 0h2m2 0h2m2 0h2m0 0h2m2 0h2m0 0h2m2 0h2m0 0h2m2 0h2m0 0h2m0 0h2m0 0h2m-44 2h2m0 0h2m0 0h2m0 0h2m0 0h2m0 0h2m0 0h2m0 0h2m0 0h2m2 0h2m0 0h2m0 0h2m0 0h2m0 0h2m0 0h2m0 0h2m0 0h2m2 0h2m0 0h2m-44 2h2m0 0h2m0 0h2m0 0h2m0 0h2m0 0h2m0 0h2m0 0h2m0 0h2m0 0h2m2 0h2m0 0h2m2 0h2m0 0h2m0 0h2m0 0h2m0 0h2m2 0h2m0 0h2m-42 2h2m0 0h2m2 0h2m0 0h2m0 0h2m0 0h2m0 0h2m0 0h2m0 0h2m0 0h2m0 0h2m2 0h2m0 0h2m0 0h2m0 0h2m2 0h2m2 0h2m0 0h2m-44 2h2m0 0h2m0 0h2m0 0h2m0 0h2m0 0h2m0 0h2m0 0h2m0 0h2m0 0h2m0 0h2m0 0h2m0 0h2m0 0h2m2 0h2m0 0h2m0 0h2m0 0h2m0 0h2m0 0h2m0 0h2m-46 2h2m0 0h2m4 0h2m2 0h2m0 0h2m0 0h2m0 0h2m0 0h2m0 0h2m0 0h2m0 0h2m0 0h2m0 0h2m0 0h2m0 0h2m0 0h2m0 0h2m0 0h2m0 0h2m-42 2h2m2 0h2m2 0h2m0 0h2m0 0h2m0 0h2m0 0h2m0 0h2m0 0h2m6 0h2m0 0h2m0 0h2m0 0h2m4 0h2m-42 2h2m2 0h2m0 0h2m0 0h2m2 0h2m0 0h2m0 0h2m0 0h2m2 0h2m0 0h2m0 0h2m0 0h2m0 0h2m0 0h2m0 0h2m0 0h2m0 0h2m0 0h2m-42 2h2m2 0h2m0 0h2m0 0h2m2 0h2m4 0h2m0 0h2m0 0h2m0 0h2m2 0h2m2 0h2m4 0h2m-40 2h2m2 0h2m2 0h2m0 0h2m0 0h2m0 0h2m0 0h2m0 0h2m0 0h2m2 0h2m0 0h2m0 0h2m0 0h2m4 0h2m0 0h2m0 0h2m-40 2h2m0 0h2m0 0h2m0 0h2m4 0h2m0 0h2m2 0h2m0 0h2m2 0h2m2 0h2m0 0h2m0 0h2m0 0h2m0 0h2m-40 2h2m0 0h2m0 0h2m4 0h2m0 0h2m0 0h2m2 0h2m0 0h2m4 0h2m2 0h2m2 0h2m0 0h2m2 0h2m-42 2h2m0 0h2m0 0h2m4 0h2m2 0h2m2 0h2m4 0h2m2 0h2m2 0h2m0 0h2m0 0h2m0 0h2m0 0h2m-44 2h2m4 0h2m0 0h2m2 0h2m0 0h2m0 0h2m2 0h2m4 0h2m0 0h2m0 0h2m0 0h2m2 0h2m0 0h2m2 0h2m-44 2h2m0 0h2m0 0h2m2 0h2m2 0h2m0 0h2m0 0h2m4 0h2m4 0h2m0 0h2m2 0h2m0 0h2m0 0h2m0 0h2m-38 2h2m0 0h2m4 0h2m2 0h2m0 0h2m0 0h2m0 0h2m4 0h2m0 0h2m2 0h2m0 0h2m4 0h2m-42 2h2m2 0h2m0 0h2m0 0h2m2 0h2m0 0h2m0 0h2m0 0h2m6 0h2m2 0h2m2 0h2m2 0h2m0 0h2m-42 2h2m0 0h2m2 0h2m4 0h2m4 0h2m0 0h2m0 0h2m0 0h2m0 0h2m6 0h2m0 0h2m0 0h2m-40 2h2m0 0h2m4 0h2m2 0h2m8 0h2m2 0h2m4 0h2m2 0h2m0 0h2m2 0h2m-44 2h2m0 0h2m0 0h2m2 0h2m8 0h2m6 0h2m0 0h2m4 0h2m-34 2h2m0 0h2m0 0h2m6 0h2m2 0h2m12 0h2m0 0h2m4 0h2m-42 2h2m6 0h2m0 0h2m6 0h2m6 0h2m8 0h2m0 0h2m-38 2h2m4 0h2m8 0h2m8 0h2m8 0h2m-32 2h2m18 0h2m0 0h2m0 0h2m-28 2h2m26 0h2m2 0h2m-34 2h2m18 0h2m-2 2h2m-28 16h2m2 0h2m0 0h2m2 0h2m0 0h2m0 0h2m2 0h2m0 0h2m0 0h2m2 0h2m0 0h2m0 0h2m0 0h2m2 0h2m0 0h2m0 0h2"/>
<path transform="scale(.5)" stroke="#000" stroke-width="2" d="M792 135h2m0 2h2m12 2h2m-8 2h2m22 2h2m-2 2h2m2 2h2m2 2h2m-4 2h2m-18 2h2m-18 2h2m0 2h2m10 2h2m0 2h2m-26 2h2m36 2h2m-10 2h2m-12 2h2m-4 2h2m18 2h2m-18 2h2m-10 2h2m-4 2h2m-16 2h2m-2 2h2m4 2h2m2 2h2m26 2h2m-10 2h2m-2 2h2m0 2h2m-2 2h2m0 2h2m-34 2h2m22 2h2m10 0h2m-26 2h2m14 0h2m-30 2h2m0 0h2m14 2h2m2 0h2m-20 2h2m28 0h2m-34 2h2m0 0h2m24 0h2m-28 2h2m6 0h2m10 0h2m-24 2h2m12 0h2m10 0h2m0 0h2m-24 2h2m0 0h2m12 0h2m0 0h2m-26 2h2m2 0h2m6 0h2m8 0h2m2 0h2m-24 2h2m0 0h2m4 0h2m14 0h2m0 0h2m4 0h2m-30 2h2m6 0h2m0 0h2m0 0h2m0 0h2m12 0h2m0 0h2m-36 2h2m0 0h2m0 0h2m20 0h2m0 0h2m2 0h2m0 0h2m-38 2h2m10 0h2m0 0h2m2 0h2m10 0h2m2 0h2m-40 2h2m2 0h2m6 0h2m2 0h2m8 0h2m4 0h2m6 0h2m-32 2h2m2 0h2m2 0h2m0 0h2m2 0h2m4 0h2m4 0h2m2 0h2m-36 2h2m2 0h2m2 0h2m4 0h2m2 0h2m2 0h2m6 0h2m2 0h2m-42 2h2m8 0h2m0 0h2m2 0h2m4 0h2m2 0h2m6 0h2m0 0h2m0 0h2m2 0h2m-42 2h2m0 0h2m6 0h2m0 0h2m0 0h2m4 0h2m0 0h2m0 0h2m0 0h2m4 0h2m2 0h2m2 0h2m-42 2h2m4 0h2m0 0h2m0 0h2m2 0h2m0 0h2m4 0h2m0 0h2m0 0h2m0 0h2m8 0h2m-42 2h2m0 0h2m2 0h2m4 0h2m0 0h2m0 0h2m0 0h2m0 0h2m0 0h2m0 0h2m2 0h2m0 0h2m0 0h2m6 0h2m0 0h2m-44 2h2m0 0h2m2 0h2m0 0h2m2 0h2m0 0h2m0 0h2m0 0h2m8 0h2m4 0h2m2 0h2m0 0h2m-42 2h2m2 0h2m6 0h2m2 0h2m0 0h2m0 0h2m0 0h2m2 0h2m0 0h2m2 0h2m0 0h2m2 0h2m0 0h2m0 0h2m-42 2h2m2 0h2m0 0h2m4 0h2m2 0h2m0 0h2m2 0h2m0 0h2m0 0h2m8 0h2m0 0h2m-42 2h2m2 0h2m0 0h2m6 0h2m4 0h2m0 0h2m0 0h2m0 0h2m0 0h2m0 0h2m4 0h2m0 0h2m0 0h2m-44 2h2m0 0h2m0 0h2m0 0h2m0 0h2m0 0h2m2 0h2m4 0h2m0 0h2m2 0h2m0 0h2m0 0h2m2 0h2m2 0h2m0 0h2m0 0h2m-38 2h2m0 0h2m0 0h2m2 0h2m0 0h2m0 0h2m0 0h2m2 0h2m0 0h2m2 0h2m4 0h2m0 0h2m2 0h2m0 0h2m-42 2h2m0 0h2m0 0h2m8 0h2m0 0h2m0 0h2m0 0h2m0 0h2m0 0h2m0 0h2m2 0h2m0 0h2m6 0h2m-46 2h2m0 0h2m0 0h2m0 0h2m0 0h2m0 0h2m0 0h2m0 0h2m0 0h2m4 0h2m2 0h2m2 0h2m2 0h2m2 0h2m0 0h2m0 0h2m-42 2h2m0 0h2m0 0h2m2 0h2m0 0h2m0 0h2m0 0h2m0 0h2m0 0h2m2 0h2m0 0h2m2 0h2m4 0h2m2 0h2m2 0h2m-38 2h2m0 0h2m2 0h2m0 0h2m2 0h2m0 0h2m0 0h2m0 0h2m0 0h2m0 0h2m2 0h2m2 0h2m0 0h2m0 0h2m-42 2h2m4 0h2m0 0h2m0 0h2m0 0h2m0 0h2m2 0h2m0 0h2m0 0h2m0 0h2m2 0h2m0 0h2m0 0h2m0 0h2m0 0h2m2 0h2m-44 2h2m0 0h2m0 0h2m2 0h2m2 0h2m2 0h2m0 0h2m0 0h2m4 0h2m0 0h2m0 0h2m0 0h2m0 0h2m0 0h2m2 0h2m0 0h2m-42 2h2m0 0h2m0 0h2m2 0h2m0 0h2m0 0h2m0 0h2m0 0h2m0 0h2m0 0h2m2 0h2m0 0h2m0 0h2m0 0h2m0 0h2m8 0h2m-44 2h2m0 0h2m2 0h2m0 0h2m0 0h2m2 0h2m4 0h2m0 0h2m0 0h2m0 0h2m0 0h2m0 0h2m0 0h2m0 0h2m0 0h2m0 0h2m2 0h2m-42 2h2m0 0h2m0 0h2m4 0h2m0 0h2m0 0h2m0 0h2m2 0h2m2 0h2m0 0h2m2 0h2m4 0h2m2 0h2m-44 2h2m0 0h2m2 0h2m0 0h2m0 0h2m0 0h2m0 0h2m2 0h2m4 0h2m0 0h2m0 0h2m0 0h2m0 0h2m0 0h2m0 0h2m0 0h2m0 0h2m0 0h2m-46 2h2m0 0h2m2 0h2m0 0h2m0 0h2m2 0h2m0 0h2m2 0h2m0 0h2m4 0h2m2 0h2m0 0h2m0 0h2m0 0h2m0 0h2m0 0h2m0 0h2m-44 2h2m0 0h2m0 0h2m0 0h2m0 0h2m0 0h2m0 0h2m2 0h2m0 0h2m2 0h2m0 0h2m4 0h2m2 0h2m0 0h2m0 0h2m0 0h2m-44 2h2m2 0h2m0 0h2m0 0h2m2 0h2m0 0h2m0 0h2m0 0h2m0 0h2m0 0h2m0 0h2m0 0h2m0 0h2m0 0h2m0 0h2m0 0h2m0 0h2m0 0h2m0 0h2m0 0h2m-42 2h2m0 0h2m0 0h2m0 0h2m0 0h2m0 0h2m4 0h2m2 0h2m4 0h2m0 0h2m2 0h2m0 0h2m2 0h2m0 0h2m0 0h2m-44 2h2m0 0h2m4 0h2m2 0h2m2 0h2m2 0h2m2 0h2m0 0h2m0 0h2m0 0h2m0 0h2m0 0h2m0 0h2m0 0h2m0 0h2m0 0h2m-42 2h2m0 0h2m2 0h2m0 0h2m0 0h2m0 0h2m2 0h2m0 0h2m0 0h2m0 0h2m0 0h2m0 0h2m0 0h2m0 0h2m6 0h2m0 0h2m-42 2h2m0 0h2m0 0h2m0 0h2m0 0h2m4 0h2m0 0h2m2 0h2m0 0h2m2 0h2m0 0h2m0 0h2m0 0h2m0 0h2m0 0h2m0 0h2m-44 2h2m0 0h2m0 0h2m0 0h2m0 0h2m0 0h2m0 0h2m0 0h2m0 0h2m2 0h2m0 0h2m0 0h2m0 0h2m0 0h2m0 0h2m0 0h2m2 0h2m2 0h2m0 0h2m-42 2h2m2 0h2m0 0h2m2 0h2m2 0h2m0 0h2m0 0h2m0 0h2m0 0h2m0 0h2m0 0h2m2 0h2m0 0h2m0 0h2m0 0h2m4 0h2m-44 2h2m0 0h2m0 0h2m0 0h2m0 0h2m2 0h2m8 0h2m0 0h2m0 0h2m0 0h2m0 0h2m0 0h2m0 0h2m0 0h2m0 0h2m-40 2h2m0 0h2m0 0h2m0 0h2m0 0h2m2 0h2m0 0h2m2 0h2m0 0h2m0 0h2m0 0h2m0 0h2m0 0h2m0 0h2m4 0h2m2 0h2m-42 2h2m0 0h2m0 0h2m0 0h2m0 0h2m0 0h2m0 0h2m0 0h2m0 0h2m0 0h2m0 0h2m0 0h2m0 0h2m2 0h2m2 0h2m0 0h2m0 0h2m0 0h2m0 0h2m-40 2h2m2 0h2m0 0h2m0 0h2m0 0h2m2 0h2m0 0h2m0 0h2m0 0h2m0 0h2m2 0h2m0 0h2m0 0h2m0 0h2m0 0h2m0 0h2m-40 2h2m0 0h2m0 0h2m0 0h2m0 0h2m0 0h2m0 0h2m0 0h2m0 0h2m2 0h2m2 0h2m0 0h2m0 0h2m0 0h2m0 0h2m0 0h2m0 0h2m0 0h2m2 0h2m-44 2h2m2 0h2m0 0h2m0 0h2m0 0h2m0 0h2m0 0h2m0 0h2m0 0h2m2 0h2m0 0h2m0 0h2m0 0h2m0 0h2m0 0h2m0 0h2m0 0h2m0 0h2m0 0h2m0 0h2m-46 2h2m2 0h2m0 0h2m0 0h2m0 0h2m0 0h2m2 0h2m2 0h2m0 0h2m0 0h2m0 0h2m0 0h2m0 0h2m2 0h2m0 0h2m0 0h2m0 0h2m2 0h2m-44 2h2m0 0h2m0 0h2m0 0h2m0 0h2m0 0h2m2 0h2m0 0h2m0 0h2m0 0h2m2 0h2m0 0h2m0 0h2m0 0h2m0 0h2m0 0h2m0 0h2m0 0h2m0 0h2m0 0h2m-44 2h2m2 0h2m2 0h2m0 0h2m2 0h2m0 0h2m0 0h2m2 0h2m0 0h2m0 0h2m2 0h2m0 0h2m2 0h2m0 0h2m0 0h2m0 0h2m-44 2h2m0 0h2m0 0h2m0 0h2m0 0h2m0 0h2m0 0h2m2 0h2m0 0h2m0 0h2m0 0h2m0 0h2m0 0h2m0 0h2m2 0h2m0 0h2m0 0h2m0 0h2m0 0h2m-42 2h2m0 0h2m0 0h2m0 0h2m2 0h2m2 0h2m0 0h2m0 0h2m0 0h2m0 0h2m0 0h2m0 0h2m0 0h2m2 0h2m0 0h2m2 0h2m0 0h2m-44 2h2m0 0h2m0 0h2m0 0h2m0 0h2m0 0h2m4 0h2m2 0h2m4 0h2m0 0h2m0 0h2m0 0h2m0 0h2m0 0h2m0 0h2m0 0h2m0 0h2m0 0h2m-46 2h2m0 0h2m0 0h2m2 0h2m0 0h2m2 0h2m0 0h2m0 0h2m4 0h2m0 0h2m0 0h2m0 0h2m0 0h2m0 0h2m0 0h2m0 0h2m0 0h2m2 0h2m-42 2h2m0 0h2m0 0h2m0 0h2m2 0h2m2 0h2m0 0h2m0 0h2m2 0h2m0 0h2m0 0h2m0 0h2m2 0h2m0 0h2m0 0h2m0 0h2m-42 2h2m0 0h2m0 0h2m0 0h2m0 0h2m0 0h2m2 0h2m0 0h2m0 0h2m2 0h2m0 0h2m0 0h2m0 0h2m0 0h2m0 0h2m4 0h2m0 0h2m-42 2h2m0 0h2m0 0h2m0 0h2m0 0h2m0 0h2m0 0h2m0 0h2m0 0h2m0 0h2m2 0h2m0 0h2m0 0h2m4 0h2m0 0h2m0 0h2m0 0h2m0 0h2m0 0h2m-46 2h2m0 0h2m0 0h2m0 0h2m0 0h2m2 0h2m0 0h2m0 0h2m0 0h2m0 0h2m2 0h2m4 0h2m2 0h2m0 0h2m0 0h2m0 0h2m0 0h2m0 0h2m-40 2h2m0 0h2m0 0h2m0 0h2m0 0h2m0 0h2m2 0h2m0 0h2m0 0h2m0 0h2m0 0h2m2 0h2m2 0h2m0 0h2m0 0h2m0 0h2m-42 2h2m0 0h2m0 0h2m0 0h2m0 0h2m0 0h2m0 0h2m0 0h2m0 0h2m2 0h2m0 0h2m2 0h2m2 0h2m0 0h2m0 0h2m2 0h2m0 0h2m0 0h2m-44 2h2m0 0h2m0 0h2m0 0h2m0 0h2m0 0h2m0 0h2m2 0h2m0 0h2m0 0h2m0 0h2m0 0h2m4 0h2m6 0h2m0 0h2m0 0h2m-46 2h2m0 0h2m0 0h2m0 0h2m0 0h2m2 0h2m6 0h2m2 0h2m0 0h2m0 0h2m4 0h2m2 0h2m0 0h2m0 0h2m-42 2h2m0 0h2m0 0h2m0 0h2m4 0h2m0 0h2m0 0h2m0 0h2m2 0h2m0 0h2m0 0h2m2 0h2m2 0h2m2 0h2m-38 2h2m0 0h2m0 0h2m0 0h2m0 0h2m4 0h2m6 0h2m0 0h2m0 0h2m0 0h2m2 0h2m0 0h2m0 0h2m0 0h2m-42 2h2m0 0h2m0 0h2m2 0h2m0 0h2m2 0h2m2 0h2m0 0h2m2 0h2m0 0h2m2 0h2m4 0h2m0 0h2m0 0h2m0 0h2m-40 2h2m0 0h2m2 0h2m0 0h2m2 0h2m0 0h2m0 0h2m0 0h2m4 0h2m0 0h2m0 0h2m0 0h2m2 0h2m0 0h2m-42 2h2m0 0h2m0 0h2m0 0h2m0 0h2m0 0h2m0 0h2m0 0h2m0 0h2m6 0h2m6 0h2m0 0h2m-36 2h2m0 0h2m2 0h2m0 0h2m0 0h2m0 0h2m6 0h2m2 0h2m6 0h2m2 0h2m0 0h2m2 0h2m-46 2h2m0 0h2m2 0h2m6 0h2m0 0h2m0 0h2m6 0h2m2 0h2m6 0h2m4 0h2m-44 2h2m0 0h2m0 0h2m2 0h2m6 0h2m2 0h2m2 0h2m10 0h2m0 0h2m0 0h2m-44 2h2m0 0h2m10 0h2m0 0h2m2 0h2m0 0h2m2 0h2m10 0h2m2 0h2m-34 2h2m0 0h2m0 0h2m14 0h2m6 0h2m2 0h2m-40 2h2m2 0h2m6 0h2m8 0h2m0 0h2m6 0h2m2 0h2m-34 2h2m0 0h2m24 0h2m4 0h2m-32 2h2m18 0h2m-26 2h2m28 0h2m4 0h2m-42 2h2m2 0h2m2 2h2m-10 16h2m2 0h2m0 0h2m0 0h2m0 0h2m0 0h2m2 0h2m0 0h2m0 0h2m0 0h2m0 0h2m2 0h2m0 0h2m0 0h2m0 0h2m2 0h2m0 0h2"/>
<path transform="scale(.5)" stroke="#000" stroke-width="2" d="M872 133h2m-26 2h2m22 2h2m-16 2h2m14 2h2m2 2h2m2 2h2m-6 2h2m-20 2h2m-6 2h2m6 2h2m-10 2h2m8 2h2m8 2h2m-12 2h2m14 2h2m-22 2h2m20 2h2m-4 2h2m-30 2h2m-10 2h2m-2 2h2m2 2h2m22 2h2m-6 2h2m-20 2h2m6 2h2m-4 2h2m0 2h2m-10 2h2m10 2h2m-16 2h2m0 2h2m24 2h2m-6 2h2m-20 2h2m-8 2h2m8 0h2m-4 2h2m14 0h2m-30 2h2m12 0h2m2 0h2m-22 2h2m24 0h2m10 0h2m-30 2h2m0 0h2m-14 2h2m8 0h2m0 0h2m12 0h2m-24 2h2m6 0h2m16 0h2m4 0h2m-26 2h2m14 0h2m8 0h2m-36 2h2m0 0h2m4 0h2m6 0h2m-22 2h2m26 0h2m0 0h2m4 0h2m0 0h2m-30 2h2m0 0h2m0 0h2m8 0h2m8 0h2m-36 2h2m10 0h2m2 0h2m0 0h2m4 0h2m8 0h2m2 0h2m-36 2h2m6 0h2m6 0h2m4 0h2m2 0h2m0 0h2m-32 2h2m6 0h2m4 0h2m8 0h2m2 0h2m0 0h2m2 0h2m0 0h2m-28 2h2m0 0h2m0 0h2m0 0h2m0 0h2m0 0h2m0 0h2m2 0h2m10 0h2m-44 2h2m0 0h2m0 0h2m4 0h2m0 0h2m14 0h2m4 0h2m0 0h2m0 0h2m4 0h2m-42 2h2m6 0h2m0 0h2m4 0h2m8 0h2m6 0h2m2 0h2m-42 2h2m2 0h2m0 0h2m0 0h2m0 0h2m0 0h2m0 0h2m2 0h2m0 0h2m2 0h2m14 0h2m-44 2h2m0 0h2m4 0h2m8 0h2m2 0h2m0 0h2m0 0h2m10 0h2m0 0h2m0 0h2m0 0h2m-44 2h2m2 0h2m0 0h2m0 0h2m0 0h2m0 0h2m0 0h2m0 0h2m0 0h2m2 0h2m2 0h2m6 0h2m0 0h2m2 0h2m-40 2h2m2 0h2m2 0h2m2 0h2m0 0h2m6 0h2m2 0h2m0 0h2m2 0h2m0 0h2m0 0h2m-40 2h2m0 0h2m0 0h2m0 0h2m0 0h2m2 0h2m0 0h2m4 0h2m0 0h2m2 0h2m8 0h2m2 0h2m-44 2h2m4 0h2m4 0h2m0 0h2m0 0h2m0 0h2m0 0h2m0 0h2m0 0h2m2 0h2m0 0h2m0 0h2m0 0h2m0 0h2m0 0h2m0 0h2m-36 2h2m0 0h2m0 0h2m0 0h2m0 0h2m4 0h2m6 0h2m0 0h2m0 0h2m2 0h2m0 0h2m0 0h2m0 0h2m-40 2h2m0 0h2m2 0h2m0 0h2m0 0h2m0 0h2m0 0h2m2 0h2m0 0h2m0 0h2m0 0h2m2 0h2m0 0h2m0 0h2m2 0h2m-40 2h2m2 0h2m0 0h2m0 0h2m0 0h2m0 0h2m0 0h2m0 0h2m0 0h2m0 0h2m0 0h2m4 0h2m0 0h2m4 0h2m0 0h2m0 0h2m-42 2h2m2 0h2m0 0h2m0 0h2m2 0h2m2 0h2m2 0h2m0 0h2m0 0h2m0 0h2m0 0h2m0 0h2m2 0h2m0 0h2m4 0h2m-44 2h2m2 0h2m0 0h2m0 0h2m0 0h2m0 0h2m0 0h2m2 0h2m0 0h2m0 0h2m2 0h2m0 0h2m2 0h2m0 0h2m0 0h2m4 0h2m-46 2h2m0 0h2m0 0h2m2 0h2m0 0h2m0 0h2m0 0h2m0 0h2m0 0h2m0 0h2m0 0h2m4 0h2m0 0h2m4 0h2m0 0h2m0 0h2m-40 2h2m0 0h2m0 0h2m2 0h2m0 0h2m0 0h2m6 0h2m2 0h2m0 0h2m0 0h2m0 0h2m0 0h2m0 0h2m0 0h2m0 0h2m0 0h2m-42 2h2m0 0h2m6 0h2m0 0h2m0 0h2m0 0h2m2 0h2m0 0h2m0 0h2m0 0h2m0 0h2m0 0h2m0 0h2m0 0h2m0 0h2m0 0h2m0 0h2m-40 2h2m0 0h2m0 0h2m0 0h2m0 0h2m0 0h2m0 0h2m0 0h2m0 0h2m2 0h2m0 0h2m2 0h2m0 0h2m2 0h2m0 0h2m2 0h2m0 0h2m-44 2h2m0 0h2m2 0h2m0 0h2m0 0h2m0 0h2m4 0h2m0 0h2m0 0h2m4 0h2m0 0h2m0 0h2m0 0h2m0 0h2m0 0h2m-38 2h2m2 0h2m0 0h2m0 0h2m0 0h2m0 0h2m0 0h2m0 0h2m0 0h2m0 0h2m0 0h2m2 0h2m0 0h2m0 0h2m0 0h2m0 0h2m-38 2h2m0 0h2m2 0h2m0 0h2m0 0h2m0 0h2m0 0h2m0 0h2m0 0h2m0 0h2m0 0h2m0 0h2m0 0h2m0 0h2m4 0h2m0 0h2m0 0h2m0 0h2m0 0h2m-46 2h2m0 0h2m2 0h2m0 0h2m0 0h2m0 0h2m0 0h2m0 0h2m2 0h2m0 0h2m0 0h2m0 0h2m2 0h2m0 0h2m2 0h2m2 0h2m0 0h2m0 0h2m-44 2h2m0 0h2m0 0h2m0 0h2m0 0h2m0 0h2m0 0h2m0 0h2m0 0h2m0 0h2m2 0h2m0 0h2m2 0h2m0 0h2m0 0h2m2 0h2m0 0h2m0 0h2m-42 2h2m2 0h2m0 0h2m0 0h2m4 0h2m0 0h2m0 0h2m0 0h2m0 0h2m0 0h2m0 0h2m0 0h2m0 0h2m4 0h2m0 0h2m0 0h2m-42 2h2m0 0h2m0 0h2m0 0h2m2 0h2m0 0h2m0 0h2m0 0h2m0 0h2m0 0h2m2 0h2m4 0h2m0 0h2m0 0h2m0 0h2m0 0h2m0 0h2m-42 2h2m0 0h2m0 0h2m0 0h2m0 0h2m0 0h2m0 0h2m0 0h2m2 0h2m0 0h2m0 0h2m0 0h2m0 0h2m0 0h2m2 0h2m0 0h2m4 0h2m-42 2h2m0 0h2m0 0h2m0 0h2m4 0h2m0 0h2m0 0h2m0 0h2m0 0h2m0 0h2m0 0h2m0 0h2m0 0h2m0 0h2m0 0h2m0 0h2m0 0h2m0 0h2m-42 2h2m0 0h2m0 0h2m2 0h2m6 0h2m0 0h2m2 0h2m0 0h2m0 0h2m0 0h2m0 0h2m2 0h2m0 0h2m0 0h2m0 0h2m0 0h2m0 0h2m-44 2h2m0 0h2m0 0h2m0 0h2m0 0h2m0 0h2m0 0h2m2 0h2m0 0h2m2 0h2m0 0h2m0 0h2m2 0h2m0 0h2m0 0h2m2 0h2m0 0h2m-42 2h2m0 0h2m0 0h2m0 0h2m0 0h2m8 0h2m0 0h2m0 0h2m0 0h2m0 0h2m0 0h2m0 0h2m0 0h2m0 0h2m0 0h2m0 0h2m2 0h2m-44 2h2m0 0h2m0 0h2m0 0h2m0 0h2m0 0h2m0 0h2m0 0h2m0 0h2m2 0h2m2 0h2m4 0h2m0 0h2m0 0h2m0 0h2m0 0h2m0 0h2m0 0h2m-44 2h2m0 0h2m4 0h2m0 0h2m0 0h2m0 0h2m0 0h2m2 0h2m0 0h2m0 0h2m0 0h2m0 0h2m0 0h2m0 0h2m0 0h2m0 0h2m0 0h2m0 0h2m-42 2h2m0 0h2m0 0h2m0 0h2m2 0h2m0 0h2m2 0h2m0 0h2m2 0h2m0 0h2m0 0h2m0 0h2m0 0h2m0 0h2m0 0h2m0 0h2m0 0h2m0 0h2m-40 2h2m0 0h2m0 0h2m0 0h2m0 0h2m0 0h2m0 0h2m0 0h2m0 0h2m0 0h2m0 0h2m0 0h2m2 0h2m2 0h2m0 0h2m2 0h2m0 0h2m0 0h2m-44 2h2m0 0h2m0 0h2m0 0h2m6 0h2m0 0h2m0 0h2m0 0h2m0 0h2m0 0h2m2 0h2m0 0h2m0 0h2m2 0h2m0 0h2m-42 2h2m0 0h2m0 0h2m0 0h2m0 0h2m0 0h2m2 0h2m0 0h2m2 0h2m0 0h2m0 0h2m0 0h2m2 0h2m0 0h2m0 0h2m0 0h2m0 0h2m2 0h2m-42 2h2m0 0h2m0 0h2m0 0h2m2 0h2m0 0h2m0 0h2m0 0h2m0 0h2m0 0h2m2 0h2m2 0h2m0 0h2m2 0h2m0 0h2m0 0h2m-42 2h2m0 0h2m0 0h2m0 0h2m2 0h2m0 0h2m0 0h2m0 0h2m0 0h2m0 0h2m0 0h2m0 0h2m0 0h2m2 0h2m0 0h2m0 0h2m0 0h2m2 0h2m0 0h2m0 0h2m-44 2h2m4 0h2m0 0h2m2 0h2m0 0h2m0 0h2m0 0h2m0 0h2m0 0h2m0 0h2m0 0h2m0 0h2m2 0h2m0 0h2m0 0h2m0 0h2m0 0h2m-42 2h2m2 0h2m0 0h2m0 0h2m2 0h2m0 0h2m0 0h2m0 0h2m0 0h2m0 0h2m0 0h2m0 0h2m0 0h2m0 0h2m0 0h2m2 0h2m0 0h2m0 0h2m0 0h2m-44 2h2m0 0h2m0 0h2m0 0h2m0 0h2m0 0h2m2 0h2m2 0h2m0 0h2m2 0h2m0 0h2m2 0h2m0 0h2m0 0h2m0 0h2m0 0h2m-42 2h2m0 0h2m2 0h2m0 0h2m0 0h2m0 0h2m0 0h2m0 0h2m0 0h2m0 0h2m4 0h2m0 0h2m2 0h2m0 0h2m0 0h2m0 0h2m0 0h2m0 0h2m-42 2h2m0 0h2m0 0h2m0 0h2m0 0h2m0 0h2m0 0h2m2 0h2m0 0h2m0 0h2m0 0h2m0 0h2m0 0h2m2 0h2m0 0h2m0 0h2m0 0h2m0 0h2m0 0h2m-36 2h2m0 0h2m0 0h2m0 0h2m0 0h2m0 0h2m0 0h2m0 0h2m0 0h2m0 0h2m0 0h2m2 0h2m0 0h2m0 0h2m4 0h2m-42 2h2m2 0h2m0 0h2m4 0h2m0 0h2m0 0h2m0 0h2m0 0h2m0 0h2m0 0h2m0 0h2m0 0h2m4 0h2m0 0h2m2 0h2m0 0h2m-42 2h2m0 0h2m0 0h2m0 0h2m4 0h2m2 0h2m0 0h2m0 0h2m0 0h2m0 0h2m0 0h2m0 0h2m0 0h2m2 0h2m0 0h2m-38 2h2m0 0h2m0 0h2m0 0h2m0 0h2m0 0h2m0 0h2m0 0h2m0 0h2m2 0h2m0 0h2m4 0h2m0 0h2m4 0h2m0 0h2m0 0h2m-42 2h2m2 0h2m0 0h2m2 0h2m0 0h2m0 0h2m0 0h2m2 0h2m0 0h2m0 0h2m0 0h2m0 0h2m4 0h2m0 0h2m2 0h2m-44 2h2m2 0h2m0 0h2m0 0h2m0 0h2m0 0h2m10 0h2m2 0h2m0 0h2m0 0h2m0 0h2m0 0h2m0 0h2m0 0h2m-36 2h2m0 0h2m0 0h2m0 0h2m0 0h2m2 0h2m2 0h2m4 0h2m0 0h2m0 0h2m2 0h2m0 0h2m-38 2h2m0 0h2m0 0h2m0 0h2m0 0h2m0 0h2m0 0h2m2 0h2m2 0h2m0 0h2m0 0h2m0 0h2m4 0h2m2 0h2m0 0h2m-42 2h2m0 0h2m0 0h2m0 0h2m2 0h2m0 0h2m0 0h2m0 0h2m2 0h2m0 0h2m2 0h2m0 0h2m4 0h2m0 0h2m2 0h2m0 0h2m-44 2h2m2 0h2m0 0h2m0 0h2m0 0h2m2 0h2m0 0h2m0 0h2m0 0h2m0 0h2m4 0h2m2 0h2m0 0h2m0 0h2m2 0h2m-42 2h2m4 0h2m0 0h2m0 0h2m2 0h2m0 0h2m0 0h2m0 0h2m4 0h2m0 0h2m0 0h2m0 0h2m6 0h2m-38 2h2m2 0h2m2 0h2m4 0h2m2 0h2m4 0h2m0 0h2m0 0h2m2 0h2m2 0h2m0 0h2m-46 2h2m0 0h2m0 0h2m2 0h2m6 0h2m4 0h2m2 0h2m0 0h2m2 0h2m2 0h2m6 0h2m-44 2h2m0 0h2m0 0h2m2 0h2m0 0h2m0 0h2m4 0h2m2 0h2m0 0h2m0 0h2m0 0h2m0 0h2m6 0h2m-42 2h2m0 0h2m2 0h2m4 0h2m2 0h2m0 0h2m12 0h2m0 0h2m8 0h2m-36 2h2m2 0h2m0 0h2m2 0h2m2 0h2m0 0h2m2 0h2m6 0h2m0 0h2m2 0h2m-38 2h2m8 0h2m0 0h2m2 0h2m2 0h2m4 0h2m2 0h2m2 0h2m0 0h2m-46 2h2m0 0h2m8 0h2m0 0h2m0 0h2m8 0h2m2 0h2m0 0h2m0 0h2m-34 2h2m0 0h2m2 0h2m0 0h2m8 0h2m4 0h2m2 0h2m-24 2h2m2 0h2m2 0h2m2 0h2m0 0h2m0 0h2m10 0h2m-36 2h2m2 0h2m2 0h2m12 0h2m0 0h2m-26 2h2m16 0h2m10 0h2m8 0h2m-34 2h2m14 0h2m10 0h2m-22 2h2m4 0h2m-6 2h2m-20 16h2m0 0h2m0 0h2m0 0h2m0 0h2m0 0h2m0 0h2m0 0h2m0 0h2m0 0h2m0 0h2m0 0h2m0 0h2m0 0h2m2 0h2m0 0h2m0 0h2m0 0h2m0 0h2m0 0h2m-14 2h2"/>
<path transform="scale(.5)" stroke="#000" stroke-width="2" d="M926 59h2m-30 2h2m0 2h2m26 0h2m-30 2h2m22 0h2m-8 2h2m16 0h2m-28 2h2m8 0h2m4 0h2m-28 2h2m0 0h2m10 0h2m6 0h2m-18 2h2m4 0h2m0 0h2m14 0h2m-34 2h2m16 0h2m0 0h2m8 0h2m-30 2h2m12 0h2m4 0h2m2 0h2m2 0h2m0 0h2m2 0h2m-42 2h2m0 0h2m2 0h2m2 0h2m6 0h2m4 0h2m0 0h2m2 0h2m-22 2h2m0 0h2m4 0h2m2 0h2m2 0h2m2 0h2m4 0h2m-34 2h2m4 0h2m2 0h2m0 0h2m0 0h2m4 0h2m4 0h2m2 0h2m0 0h2m0 0h2m-38 2h2m2 0h2m0 0h2m0 0h2m6 0h2m0 0h2m0 0h2m4 0h2m10 0h2m0 0h2m-42 2h2m0 0h2m0 0h2m0 0h2m4 0h2m6 0h2m2 0h2m4 0h2m0 0h2m0 0h2m0 0h2m-36 2h2m0 0h2m2 0h2m0 0h2m0 0h2m2 0h2m0 0h2m0 0h2m0 0h2m6 0h2m4 0h2m0 0h2m-42 2h2m0 0h2m0 0h2m0 0h2m0 0h2m2 0h2m6 0h2m2 0h2m0 0h2m2 0h2m0 0h2m8 0h2m-38 2h2m0 0h2m0 0h2m0 0h2m6 0h2m0 0h2m0 0h2m2 0h2m2 0h2m2 0h2m0 0h2m-34 2h2m0 0h2m4 0h2m4 0h2m0 0h2m0 0h2m2 0h2m4 0h2m0 0h2m0 0h2m0 0h2m0 0h2m-40 2h2m6 0h2m0 0h2m0 0h2m0 0h2m0 0h2m0 0h2m2 0h2m0 0h2m0 0h2m8 0h2m0 0h2m0 0h2m-38 2h2m0 0h2m0 0h2m0 0h2m4 0h2m4 0h2m0 0h2m0 0h2m0 0h2m2 0h2m0 0h2m0 0h2m-40 2h2m0 0h2m2 0h2m6 0h2m6 0h2m0 0h2m0 0h2m0 0h2m2 0h2m0 0h2m0 0h2m0 0h2m0 0h2m-44 2h2m0 0h2m0 0h2m0 0h2m2 0h2m0 0h2m2 0h2m0 0h2m0 0h2m2 0h2m4 0h2m0 0h2m0 0h2m4 0h2m2 0h2m-46 2h2m2 0h2m0 0h2m4 0h2m0 0h2m2 0h2m0 0h2m4 0h2m0 0h2m2 0h2m0 0h2m0 0h2m0 0h2m0 0h2m0 0h2m-40 2h2m2 0h2m2 0h2m0 0h2m0 0h2m2 0h2m0 0h2m0 0h2m2 0h2m0 0h2m0 0h2m2 0h2m0 0h2m0 0h2m0 0h2m-38 2h2m2 0h2m0 0h2m0 0h2m0 0h2m0 0h2m4 0h2m0 0h2m0 0h2m2 0h2m0 0h2m2 0h2m4 0h2m-44 2h2m0 0h2m2 0h2m0 0h2m0 0h2m0 0h2m2 0h2m8 0h2m0 0h2m0 0h2m0 0h2m0 0h2m-38 2h2m4 0h2m2 0h2m0 0h2m0 0h2m2 0h2m4 0h2m0 0h2m2 0h2m2 0h2m0 0h2m2 0h2m-40 2h2m0 0h2m8 0h2m0 0h2m4 0h2m2 0h2m0 0h2m2 0h2m0 0h2m0 0h2m2 0h2m0 0h2m-42 2h2m0 0h2m0 0h2m0 0h2m2 0h2m0 0h2m0 0h2m0 0h2m2 0h2m0 0h2m4 0h2m0 0h2m0 0h2m2 0h2m0 0h2m0 0h2m-42 2h2m2 0h2m0 0h2m2 0h2m0 0h2m2 0h2m0 0h2m0 0h2m0 0h2m2 0h2m0 0h2m2 0h2m2 0h2m4 0h2m-44 2h2m4 0h2m0 0h2m0 0h2m4 0h2m0 0h2m6 0h2m0 0h2m2 0h2m0 0h2m0 0h2m2 0h2m-44 2h2m0 0h2m2 0h2m0 0h2m2 0h2m0 0h2m0 0h2m0 0h2m0 0h2m0 0h2m4 0h2m0 0h2m0 0h2m0 0h2m0 0h2m2 0h2m-34 2h2m0 0h2m0 0h2m2 0h2m0 0h2m0 0h2m0 0h2m0 0h2m2 0h2m2 0h2m0 0h2m6 0h2m-42 2h2m0 0h2m0 0h2m0 0h2m0 0h2m2 0h2m4 0h2m2 0h2m0 0h2m2 0h2m2 0h2m0 0h2m2 0h2m-40 2h2m0 0h2m0 0h2m2 0h2m0 0h2m0 0h2m0 0h2m0 0h2m4 0h2m4 0h2m0 0h2m0 0h2m0 0h2m0 0h2m0 0h2m0 0h2m-34 2h2m0 0h2m0 0h2m0 0h2m0 0h2m0 0h2m2 0h2m0 0h2m2 0h2m0 0h2m0 0h2m4 0h2m0 0h2m-40 2h2m0 0h2m0 0h2m0 0h2m0 0h2m0 0h2m0 0h2m0 0h2m0 0h2m0 0h2m0 0h2m0 0h2m2 0h2m2 0h2m0 0h2m0 0h2m0 0h2m-38 2h2m4 0h2m0 0h2m0 0h2m6 0h2m2 0h2m2 0h2m0 0h2m0 0h2m0 0h2m2 0h2m0 0h2m-42 2h2m4 0h2m0 0h2m0 0h2m2 0h2m2 0h2m0 0h2m2 0h2m2 0h2m0 0h2m0 0h2m0 0h2m0 0h2m0 0h2m2 0h2m-40 2h2m2 0h2m2 0h2m2 0h2m0 0h2m0 0h2m0 0h2m4 0h2m6 0h2m0 0h2m0 0h2m-42 2h2m4 0h2m2 0h2m0 0h2m0 0h2m0 0h2m0 0h2m2 0h2m0 0h2m6 0h2m0 0h2m0 0h2m2 0h2m-40 2h2m6 0h2m0 0h2m4 0h2m2 0h2m0 0h2m2 0h2m0 0h2m0 0h2m0 0h2m0 0h2m0 0h2m0 0h2m0 0h2m-44 2h2m2 0h2m0 0h2m0 0h2m0 0h2m0 0h2m0 0h2m0 0h2m2 0h2m0 0h2m0 0h2m0 0h2m0 0h2m2 0h2m2 0h2m0 0h2m0 0h2m-44 2h2m0 0h2m2 0h2m4 0h2m0 0h2m2 0h2m0 0h2m2 0h2m0 0h2m2 0h2m0 0h2m0 0h2m2 0h2m2 0h2m0 0h2m-44 2h2m0 0h2m2 0h2m0 0h2m0 0h2m0 0h2m0 0h2m0 0h2m0 0h2m0 0h2m2 0h2m4 0h2m0 0h2m2 0h2m0 0h2m2 0h2m-42 2h2m2 0h2m0 0h2m2 0h2m0 0h2m0 0h2m2 0h2m4 0h2m4 0h2m2 0h2m0 0h2m0 0h2m-40 2h2m0 0h2m0 0h2m2 0h2m2 0h2m0 0h2m0 0h2m0 0h2m0 0h2m0 0h2m0 0h2m0 0h2m0 0h2m8 0h2m-42 2h2m0 0h2m0 0h2m0 0h2m0 0h2m0 0h2m0 0h2m0 0h2m0 0h2m0 0h2m0 0h2m4 0h2m2 0h2m4 0h2m-38 2h2m0 0h2m0 0h2m0 0h2m0 0h2m0 0h2m4 0h2m4 0h2m2 0h2m0 0h2m2 0h2m0 0h2m0 0h2m0 0h2m0 0h2m-42 2h2m0 0h2m0 0h2m2 0h2m0 0h2m0 0h2m4 0h2m0 0h2m0 0h2m0 0h2m2 0h2m0 0h2m2 0h2m0 0h2m0 0h2m2 0h2m-42 2h2m0 0h2m2 0h2m4 0h2m0 0h2m0 0h2m0 0h2m0 0h2m4 0h2m6 0h2m0 0h2m2 0h2m-46 2h2m0 0h2m0 0h2m6 0h2m2 0h2m0 0h2m0 0h2m0 0h2m0 0h2m2 0h2m4 0h2m2 0h2m2 0h2m0 0h2m-44 2h2m0 0h2m0 0h2m0 0h2m2 0h2m2 0h2m2 0h2m0 0h2m0 0h2m2 0h2m0 0h2m0 0h2m2 0h2m0 0h2m-34 2h2m0 0h2m0 0h2m0 0h2m0 0h2m0 0h2m6 0h2m0 0h2m0 0h2m2 0h2m2 0h2m0 0h2m-40 2h2m0 0h2m0 0h2m0 0h2m2 0h2m0 0h2m8 0h2m0 0h2m2 0h2m2 0h2m0 0h2m0 0h2m0 0h2m-36 2h2m0 0h2m0 0h2m2 0h2m0 0h2m0 0h2m0 0h2m0 0h2m2 0h2m0 0h2m0 0h2m2 0h2m0 0h2m0 0h2m2 0h2m0 0h2m0 0h2m-44 2h2m0 0h2m0 0h2m0 0h2m0 0h2m0 0h2m4 0h2m0 0h2m0 0h2m0 0h2m0 0h2m2 0h2m6 0h2m0 0h2m0 0h2m-42 2h2m2 0h2m2 0h2m2 0h2m0 0h2m0 0h2m0 0h2m0 0h2m8 0h2m2 0h2m0 0h2m2 0h2m0 0h2m-44 2h2m0 0h2m0 0h2m0 0h2m2 0h2m2 0h2m0 0h2m4 0h2m0 0h2m4 0h2m0 0h2m0 0h2m0 0h2m-40 2h2m6 0h2m0 0h2m0 0h2m0 0h2m0 0h2m0 0h2m0 0h2m0 0h2m2 0h2m0 0h2m2 0h2m0 0h2m2 0h2m-38 2h2m0 0h2m0 0h2m2 0h2m0 0h2m0 0h2m0 0h2m0 0h2m0 0h2m0 0h2m0 0h2m6 0h2m0 0h2m4 0h2m0 0h2m-42 2h2m2 0h2m0 0h2m0 0h2m2 0h2m0 0h2m0 0h2m0 0h2m8 0h2m0 0h2m0 0h2m0 0h2m0 0h2m0 0h2m-42 2h2m0 0h2m0 0h2m2 0h2m0 0h2m4 0h2m2 0h2m0 0h2m2 0h2m2 0h2m0 0h2m0 0h2m0 0h2m4 0h2m-42 2h2m4 0h2m0 0h2m0 0h2m0 0h2m0 0h2m0 0h2m0 0h2m0 0h2m0 0h2m0 0h2m2 0h2m0 0h2m0 0h2m0 0h2m2 0h2m2 0h2m-42 2h2m0 0h2m4 0h2m0 0h2m0 0h2m0 0h2m0 0h2m0 0h2m0 0h2m4 0h2m0 0h2m0 0h2m0 0h2m0 0h2m2 0h2m-42 2h2m0 0h2m0 0h2m0 0h2m0 0h2m2 0h2m0 0h2m2 0h2m2 0h2m0 0h2m0 0h2m4 0h2m4 0h2m0 0h2m-34 2h2m4 0h2m0 0h2m2 0h2m0 0h2m0 0h2m2 0h2m0 0h2m0 0h2m2 0h2m0 0h2m0 0h2m-36 2h2m0 0h2m0 0h2m0 0h2m0 0h2m2 0h2m2 0h2m4 0h2m0 0h2m2 0h2m4 0h2m0 0h2m-44 2h2m0 0h2m6 0h2m8 0h2m0 0h2m0 0h2m2 0h2m2 0h2m0 0h2m0 0h2m0 0h2m0 0h2m-42 2h2m4 0h2m6 0h2m6 0h2m2 0h2m0 0h2m0 0h2m0 0h2m0 0h2m2 0h2m0 0h2m0 0h2m-44 2h2m6 0h2m0 0h2m0 0h2m0 0h2m0 0h2m0 0h2m4 0h2m0 0h2m0 0h2m6 0h2m0 0h2m0 0h2m-40 2h2m0 0h2m2 0h2m2 0h2m2 0h2m6 0h2m2 0h2m0 0h2m2 0h2m4 0h2m0 0h2m-42 2h2m0 0h2m10 0h2m0 0h2m2 0h2m2 0h2m0 0h2m0 0h2m0 0h2m2 0h2m-40 2h2m2 0h2m4 0h2m4 0h2m2 0h2m6 0h2m6 0h2m0 0h2m0 0h2m0 0h2m-42 2h2m0 0h2m0 0h2m0 0h2m8 0h2m0 0h2m0 0h2m12 0h2m4 0h2m-40 2h2m0 0h2m0 0h2m2 0h2m0 0h2m4 0h2m2 0h2m2 0h2m4 0h2m6 0h2m-38 2h2m0 0h2m2 0h2m4 0h2m4 0h2m2 0h2m4 0h2m-28 2h2m4 0h2m4 0h2m6 0h2m0 0h2m0 0h2m0 0h2m0 0h2m-32 2h2m2 0h2m6 0h2m8 0h2m0 0h2m4 0h2m-38 2h2m6 0h2m12 0h2m0 0h2m6 0h2m2 0h2m-36 2h2m10 0h2m2 0h2m10 0h2m4 0h2m0 0h2m-38 2h2m0 0h2m10 0h2m10 0h2m6 0h2m-34 2h2m10 0h2m2 0h2m4 0h2m14 0h2m-34 2h2m0 0h2m16 0h2m0 0h2m8 0h2m-42 2h2m18 0h2m10 0h2m2 0h2m-34 2h2m0 0h2m10 0h2m-20 2h2m16 0h2m2 0h2m2 0h2m-14 2h2m2 0h2m6 0h2m12 0h2m-20 2h2m4 0h2m0 0h2m-10 2h2m4 0h2m8 0h2m-36 2h2m12 0h2m0 0h2m-12 2h2m20 0h2m2 0h2m-22 2h2m6 0h2m2 0h2m-28 2h2m0 0h2m0 0h2m-6 2h2m2 0h2m32 0h2m-34 2h2m12 0h2m-16 2h2m0 0h2m12 0h2m-24 2h2m18 0h2m0 0h2m-22 2h2m16 0h2m-24 2h2m14 0h2m16 0h2m-26 2h2m16 0h2m-18 2h2m10 0h2m10 0h2m-30 2h2m18 0h2m10 0h2m-44 2h2m22 0h2m4 0h2m-22 2h2m10 0h2m6 0h2m-28 2h2m28 0h2m0 0h2m-26 2h2m20 0h2m4 0h2m-38 2h2m12 0h2m8 0h2m-4 2h2m6 0h2m-32 2h2m16 0h2m16 0h2m-34 2h2m20 0h2m4 0h2m-18 2h2m6 0h2m10 0h2m-26 2h2m4 0h2m8 0h2m-30 2h2m14 0h2m6 0h2m-16 2h2m2 0h2m16 0h2m-22 2h2m8 0h2m12 0h2m-38 2h2m32 0h2m2 0h2m-32 2h2m0 0h2m-12 2h2m6 0h2m18 0h2m-18 2h2m16 0h2m2 0h2m-38 2h2m20 0h2m4 0h2m-22 2h2m16 0h2m6 0h2m-28 2h2m2 0h2m8 0h2m-26 2h2m6 0h2m20 0h2m-18 2h2m8 0h2m0 0h2m0 2h2m8 0h2m2 0h2m-30 2h2m18 0h2m-24 2h2m14 0h2m0 0h2m-20 2h2m4 0h2m12 0h2m-28 2h2m16 0h2m10 0h2m-32 2h2m2 0h2m6 0h2m-6 2h2m0 0h2m12 0h2m-28 2h2m14 0h2m-6 2h2m2 0h2m10 0h2m-16 2h2m0 0h2m8 0h2m-28 2h2m24 0h2m4 0h2m-12 2h2m12 0h2m0 0h2m-34 2h2m8 0h2m10 0h2m-32 2h2m14 0h2m2 0h2m-10 2h2m6 0h2m8 0h2m-14 2h2m14 0h2m2 0h2m-30 2h2m0 0h2m24 0h2m-34 2h2m2 0h2m0 0h2m18 2h2m0 0h2m4 0h2m-30 2h2m6 0h2m0 0h2m-16 2h2m4 0h2m10 0h2m-14 2h2m0 0h2m6 0h2m-20 2h2m12 0h2m12 0h2m-14 2h2m8 0h2m2 0h2m-36 2h2m0 0h2m22 0h2m-12 2h2m0 0h2m-8 2h2m6 0h2m18 2h2m-30 2h2m-16 16h2m0 0h2m2 0h2m0 0h2m0 0h2m0 0h2m4 0h2m0 0h2m0 0h2m0 0h2m0 0h2m4 0h2m0 0h2m0 0h2m0 0h2"/>
<path transform="scale(.5)" stroke="#000" stroke-width="2" d="M962 91h2m-14 2h2m14 0h2m-4 2h2m8 0h2m12 0h2m-34 2h2m4 0h2m2 0h2m18 0h2m-36 2h2m10 0h2m16 0h2m2 0h2m-22 2h2m0 0h2m0 0h2m10 0h2m2 0h2m0 0h2m-42 2h2m2 0h2m4 0h2m0 0h2m8 0h2m8 0h2m6 0h2m-36 2h2m0 0h2m4 0h2m0 0h2m0 0h2m2 0h2m12 0h2m2 0h2m-38 2h2m2 0h2m0 0h2m2 0h2m0 0h2m4 0h2m6 0h2m4 0h2m-36 2h2m12 0h2m0 0h2m0 0h2m0 0h2m4 0h2m4 0h2m0 0h2m-38 2h2m2 0h2m0 0h2m2 0h2m8 0h2m6 0h2m0 0h2m0 0h2m0 0h2m4 0h2m-44 2h2m0 0h2m6 0h2m0 0h2m0 0h2m2 0h2m6 0h2m0 0h2m4 0h2m6 0h2m0 0h2m-44 2h2m2 0h2m4 0h2m0 0h2m0 0h2m8 0h2m8 0h2m0 0h2m0 0h2m-38 2h2m4 0h2m4 0h2m2 0h2m0 0h2m0 0h2m0 0h2m6 0h2m0 0h2m6 0h2m-42 2h2m0 0h2m0 0h2m2 0h2m0 0h2m4 0h2m0 0h2m2 0h2m0 0h2m2 0h2m0 0h2m2 0h2m0 0h2m-36 2h2m2 0h2m6 0h2m0 0h2m0 0h2m2 0h2m0 0h2m0 0h2m0 0h2m0 0h2m4 0h2m2 0h2m-44 2h2m6 0h2m0 0h2m2 0h2m0 0h2m0 0h2m2 0h2m0 0h2m4 0h2m2 0h2m2 0h2m0 0h2m0 0h2m-42 2h2m8 0h2m0 0h2m0 0h2m4 0h2m2 0h2m2 0h2m2 0h2m2 0h2m2 0h2m-44 2h2m0 0h2m10 0h2m2 0h2m4 0h2m6 0h2m0 0h2m0 0h2m0 0h2m2 0h2m-42 2h2m0 0h2m0 0h2m2 0h2m0 0h2m4 0h2m0 0h2m0 0h2m2 0h2m2 0h2m2 0h2m-38 2h2m2 0h2m0 0h2m0 0h2m4 0h2m2 0h2m0 0h2m2 0h2m0 0h2m0 0h2m10 0h2m0 0h2m-42 2h2m0 0h2m6 0h2m2 0h2m0 0h2m0 0h2m4 0h2m0 0h2m0 0h2m2 0h2m0 0h2m0 0h2m0 0h2m0 0h2m-44 2h2m0 0h2m0 0h2m0 0h2m0 0h2m0 0h2m2 0h2m2 0h2m2 0h2m0 0h2m0 0h2m2 0h2m10 0h2m-36 2h2m2 0h2m2 0h2m0 0h2m0 0h2m0 0h2m0 0h2m0 0h2m0 0h2m0 0h2m0 0h2m2 0h2m0 0h2m2 0h2m-42 2h2m0 0h2m2 0h2m6 0h2m4 0h2m2 0h2m0 0h2m2 0h2m4 0h2m2 0h2m0 0h2m-44 2h2m0 0h2m2 0h2m0 0h2m4 0h2m0 0h2m4 0h2m0 0h2m2 0h2m4 0h2m6 0h2m-44 2h2m0 0h2m2 0h2m0 0h2m2 0h2m4 0h2m0 0h2m0 0h2m0 0h2m12 0h2m0 0h2m0 0h2m-44 2h2m0 0h2m2 0h2m0 0h2m6 0h2m0 0h2m0 0h2m8 0h2m0 0h2m4 0h2m0 0h2m0 0h2m-44 2h2m0 0h2m0 0h2m4 0h2m0 0h2m0 0h2m6 0h2m4 0h2m4 0h2m0 0h2m0 0h2m2 0h2m-40 2h2m2 0h2m0 0h2m0 0h2m4 0h2m2 0h2m2 0h2m2 0h2m4 0h2m0 0h2m0 0h2m-44 2h2m2 0h2m2 0h2m0 0h2m0 0h2m2 0h2m0 0h2m0 0h2m2 0h2m4 0h2m0 0h2m2 0h2m0 0h2m2 0h2m-44 2h2m0 0h2m4 0h2m0 0h2m0 0h2m0 0h2m2 0h2m0 0h2m0 0h2m2 0h2m0 0h2m6 0h2m4 0h2m-40 2h2m2 0h2m2 0h2m2 0h2m0 0h2m0 0h2m0 0h2m2 0h2m0 0h2m2 0h2m0 0h2m2 0h2m0 0h2m0 0h2m-40 2h2m6 0h2m0 0h2m0 0h2m0 0h2m2 0h2m2 0h2m2 0h2m0 0h2m2 0h2m6 0h2m-46 2h2m2 0h2m4 0h2m2 0h2m0 0h2m2 0h2m0 0h2m2 0h2m0 0h2m2 0h2m2 0h2m0 0h2m0 0h2m-40 2h2m4 0h2m2 0h2m2 0h2m0 0h2m2 0h2m2 0h2m0 0h2m0 0h2m6 0h2m0 0h2m0 0h2m-40 2h2m0 0h2m2 0h2m2 0h2m4 0h2m2 0h2m0 0h2m4 0h2m0 0h2m0 0h2m0 0h2m2 0h2m-42 2h2m2 0h2m0 0h2m0 0h2m2 0h2m0 0h2m4 0h2m0 0h2m0 0h2m0 0h2m6 0h2m0 0h2m0 0h2m-42 2h2m0 0h2m2 0h2m0 0h2m2 0h2m8 0h2m0 0h2m2 0h2m0 0h2m2 0h2m2 0h2m0 0h2m-42 2h2m2 0h2m2 0h2m4 0h2m0 0h2m0 0h2m0 0h2m0 0h2m2 0h2m0 0h2m14 0h2m-44 2h2m0 0h2m0 0h2m4 0h2m0 0h2m0 0h2m2 0h2m0 0h2m2 0h2m0 0h2m0 0h2m0 0h2m0 0h2m0 0h2m4 0h2m-42 2h2m2 0h2m6 0h2m0 0h2m0 0h2m2 0h2m2 0h2m0 0h2m0 0h2m0 0h2m0 0h2m0 0h2m0 0h2m0 0h2m-40 2h2m0 0h2m2 0h2m0 0h2m14 0h2m0 0h2m0 0h2m4 0h2m2 0h2m0 0h2m-42 2h2m0 0h2m0 0h2m2 0h2m0 0h2m0 0h2m0 0h2m4 0h2m2 0h2m0 0h2m0 0h2m2 0h2m6 0h2m-42 2h2m0 0h2m6 0h2m4 0h2m0 0h2m0 0h2m2 0h2m2 0h2m2 0h2m0 0h2m0 0h2m2 0h2m0 0h2m-44 2h2m4 0h2m0 0h2m10 0h2m0 0h2m0 0h2m0 0h2m4 0h2m0 0h2m0 0h2m0 0h2m0 0h2m-40 2h2m2 0h2m8 0h2m0 0h2m2 0h2m0 0h2m0 0h2m0 0h2m0 0h2m4 0h2m2 0h2m0 0h2m-38 2h2m0 0h2m0 0h2m2 0h2m0 0h2m0 0h2m6 0h2m2 0h2m-34 2h2m0 0h2m0 0h2m0 0h2m2 0h2m4 0h2m0 0h2m0 0h2m0 0h2m2 0h2m10 0h2m0 0h2m0 0h2m0 0h2m-44 2h2m2 0h2m2 0h2m2 0h2m0 0h2m4 0h2m0 0h2m0 0h2m10 0h2m0 0h2m0 0h2m-40 2h2m0 0h2m2 0h2m4 0h2m2 0h2m0 0h2m0 0h2m0 0h2m6 0h2m0 0h2m0 0h2m0 0h2m0 0h2m-42 2h2m2 0h2m2 0h2m0 0h2m0 0h2m0 0h2m0 0h2m0 0h2m10 0h2m0 0h2m0 0h2m2 0h2m-34 2h2m2 0h2m0 0h2m4 0h2m0 0h2m0 0h2m0 0h2m10 0h2m0 0h2m0 0h2m-44 2h2m2 0h2m0 0h2m4 0h2m2 0h2m2 0h2m4 0h2m4 0h2m2 0h2m4 0h2m0 0h2m-42 2h2m6 0h2m0 0h2m4 0h2m0 0h2m0 0h2m0 0h2m4 0h2m10 0h2m-44 2h2m0 0h2m2 0h2m2 0h2m6 0h2m0 0h2m0 0h2m0 0h2m4 0h2m6 0h2m-40 2h2m4 0h2m4 0h2m0 0h2m6 0h2m12 0h2m2 0h2m0 0h2m-42 2h2m2 0h2m4 0h2m0 0h2m2 0h2m8 0h2m0 0h2m6 0h2m0 0h2m-44 2h2m8 0h2m2 0h2m8 0h2m0 0h2m0 0h2m4 0h2m-32 2h2m6 0h2m2 0h2m2 0h2m2 0h2m4 0h2m-26 2h2m12 0h2m0 0h2m6 0h2m4 0h2m6 0h2m-44 2h2m18 0h2m4 0h2m2 0h2m4 0h2m2 0h2m-30 2h2m20 0h2m2 0h2m0 0h2m-38 2h2m14 0h2m8 0h2m0 0h2m4 0h2m-40 2h2m4 0h2m24 0h2m6 0h2m-14 2h2m8 0h2m0 0h2m-42 2h2m6 0h2m26 0h2m-18 2h2m12 0h2m-14 2h2m4 0h2m-30 2h2m20 0h2m-2 2h2m0 0h2m-16 2h2m18 0h2m2 2h2m2 0h2m-32 2h2m8 0h2m16 2h2m4 0h2m-44 2h2m28 0h2m-8 2h2m10 0h2m-28 2h2m6 0h2m4 2h2m6 0h2m-30 2h2m4 0h2m-2 2h2m28 0h2m-38 2h2m18 0h2m-26 2h2m28 0h2m-22 2h2m18 0h2m-24 2h2m14 0h2m-12 2h2m24 0h2m-40 2h2m6 0h2m-4 2h2m20 0h2m0 0h2m-32 2h2m0 0h2m2 0h2m-8 2h2m8 0h2m12 0h2m4 0h2m-32 2h2m2 0h2m4 0h2m28 0h2m-42 2h2m0 0h2m8 0h2m8 0h2m6 0h2m-34 2h2m4 0h2m18 0h2m4 0h2m8 0h2m-42 2h2m8 0h2m6 0h2m2 0h2m2 0h2m-26 2h2m2 0h2m0 0h2m4 0h2m0 0h2m16 0h2m-38 2h2m0 0h2m2 0h2m4 0h2m18 0h2m2 0h2m-36 2h2m2 0h2m14 0h2m4 0h2m6 0h2m4 0h2m-34 2h2m2 0h2m4 0h2m4 0h2m4 0h2m4 0h2m-28 2h2m12 0h2m2 0h2m0 0h2m0 0h2m-36 2h2m0 0h2m12 0h2m2 0h2m4 0h2m0 0h2m-30 2h2m2 0h2m2 0h2m24 0h2m4 0h2m0 0h2m-38 2h2m4 0h2m8 0h2m4 0h2m2 0h2m-34 2h2m2 0h2m6 0h2m8 0h2m10 0h2m6 0h2m-32 2h2m22 0h2m0 0h2m0 0h2m-42 2h2m6 0h2m2 0h2m2 0h2m12 0h2m2 0h2m-34 2h2m28 0h2m2 0h2m2 0h2m-30 2h2m2 0h2m10 0h2m0 0h2m0 0h2m6 0h2m-28 2h2m2 0h2m10 0h2m6 0h2m0 0h2m-42 2h2m2 0h2m4 0h2m12 0h2m-22 2h2m14 0h2m0 0h2m12 0h2m2 0h2m-34 2h2m0 0h2m26 0h2m0 0h2m-34 2h2m0 0h2m6 0h2m0 0h2m10 0h2m4 0h2m-26 2h2m12 0h2m0 0h2m8 0h2m-42 2h2m0 0h2m30 0h2m6 0h2m-30 2h2m16 0h2m0 0h2m4 0h2m0 0h2m-44 2h2m12 0h2m6 0h2m2 0h2m2 0h2m-32 2h2m0 0h2m16 0h2m0 0h2m4 0h2m6 0h2m-10 2h2m2 0h2m0 0h2m4 0h2m0 0h2m-32 2h2m6 0h2m0 0h2m0 0h2m6 0h2m2 0h2m-32 2h2m8 0h2m0 0h2m0 0h2m6 0h2m-16 2h2m4 0h2m4 0h2m8 0h2m2 0h2m-44 2h2m16 0h2m2 0h2m6 0h2m8 0h2m-26 2h2m8 0h2m6 0h2m2 0h2m-32 2h2m14 0h2m4 0h2m8 0h2m-40 2h2m0 0h2m22 0h2m4 0h2m-16 2h2m2 0h2m2 0h2m-14 2h2m0 0h2m2 0h2m-20 2h2m26 0h2m-32 2h2m0 0h2m14 2h2m8 0h2m2 2h2m-8 2h2m-2 2h2m0 2h2m-30 26h2m4 0h2m4 0h2m0 0h2m6 0h2m0 0h2m2 0h2m0 0h2m2 0h2m2 0h2m0 0h2"/>
<path transform="scale(.5)" stroke="#000" stroke-width="2" d="M1020 143h2m-12 6h2m-12 2h2m28 0h2m4 2h2m-18 8h2m-20 4h2m16 0h2m12 2h2m-8 6h2m-10 2h2m-2 10h2m-2 6h2m-14 2h2m8 0h2m4 2h2m-26 10h2m18 6h2m0 2h2m-6 2h2m0 0h2m-4 2h2m10 0h2m-30 2h2m8 2h2m4 4h2m0 0h2m-4 4h2m-2 2h2m4 0h2m-8 2h2m-10 2h2m0 0h2m8 0h2m-4 2h2m-4 2h2m4 0h2m8 0h2m-22 2h2m6 0h2m0 0h2m14 0h2m-16 2h2m-28 2h2m4 0h2m6 0h2m2 0h2m4 0h2m-12 2h2m4 0h2m2 0h2m4 0h2m-14 2h2m2 0h2m-10 2h2m0 0h2m2 0h2m-2 2h2m6 0h2m-18 2h2m2 0h2m2 0h2m2 0h2m0 0h2m-10 2h2m4 0h2m-8 2h2m8 0h2m-18 2h2m2 0h2m2 0h2m12 0h2m-28 2h2m2 0h2m0 0h2m6 0h2m4 0h2m2 0h2m0 0h2m-30 2h2m2 0h2m0 0h2m0 0h2m4 0h2m2 0h2m2 0h2m-16 2h2m10 0h2m4 0h2m0 0h2m0 0h2m-34 2h2m6 0h2m0 0h2m8 0h2m10 0h2m-34 2h2m4 0h2m10 0h2m12 0h2m0 0h2m-40 2h2m4 0h2m6 0h2m8 0h2m0 0h2m10 0h2m-38 2h2m18 0h2m0 0h2m0 0h2m0 0h2m2 0h2m4 0h2m0 0h2m-40 2h2m2 0h2m6 0h2m10 0h2m0 0h2m0 0h2m-28 2h2m0 0h2m6 0h2m0 0h2m2 0h2m2 0h2m2 0h2m0 0h2m-26 2h2m4 0h2m0 0h2m0 0h2m6 0h2m2 0h2m8 0h2m-32 2h2m0 0h2m6 0h2m6 0h2m8 0h2m0 0h2m0 0h2m-42 2h2m0 0h2m0 0h2m12 0h2m2 0h2m0 0h2m4 0h2m-28 2h2m2 0h2m2 0h2m20 0h2m4 0h2m0 0h2m0 0h2m-50 2h2m18 0h2m6 0h2m14 0h2m2 0h2m-44 2h2m0 0h2m2 0h2m2 0h2m0 0h2m4 0h2m2 0h2m4 0h2m0 0h2m6 0h2m-42 2h2m0 0h2m4 0h2m10 0h2m0 0h2m0 0h2m2 0h2m12 0h2m0 0h2m-34 2h2m0 0h2m2 0h2m2 0h2m0 0h2m2 0h2m0 0h2m8 0h2m0 0h2m-44 2h2m10 0h2m6 0h2m0 0h2m10 0h2m0 0h2m-34 2h2m4 0h2m18 0h2m0 0h2m2 0h2m0 0h2m2 0h2m-40 2h2m0 0h2m0 0h2m0 0h2m0 0h2m2 0h2m8 0h2m6 0h2m6 0h2m-46 2h2m14 0h2m4 0h2m0 0h2m-22 2h2m2 0h2m2 0h2m2 0h2m0 0h2m2 0h2m0 0h2m0 0h2m4 0h2m-28 2h2m14 0h2m4 0h2m-30 2h2m6 0h2m0 0h2m0 0h2m8 0h2m0 0h2m8 0h2m-36 2h2m0 0h2m0 0h2m2 0h2m0 0h2m0 0h2m2 0h2m14 0h2m2 0h2m0 0h2m2 0h2m-40 2h2m4 0h2m8 0h2m2 0h2m-20 2h2m4 0h2m6 0h2m10 0h2m2 0h2m0 0h2m-38 2h2m0 0h2m0 0h2m2 0h2m18 0h2m2 0h2m-32 2h2m12 0h2m6 0h2m2 0h2m0 0h2m0 0h2m4 0h2m-36 2h2m12 0h2m6 0h2m0 0h2m-24 2h2m10 0h2m4 0h2m2 0h2m10 0h2m0 0h2m-40 2h2m2 0h2m2 0h2m2 0h2m14 0h2m0 0h2m0 0h2m0 0h2m-32 2h2m14 0h2m0 0h2m10 0h2m-42 2h2m14 0h2m0 0h2m4 0h2m6 0h2m4 0h2m0 0h2m-34 2h2m4 0h2m8 0h2m4 0h2m4 0h2m0 0h2m-28 2h2m2 0h2m8 0h2m0 0h2m2 0h2m2 0h2m0 0h2m-30 2h2m10 0h2m10 0h2m-16 2h2m6 0h2m4 0h2m-24 2h2m0 0h2m0 0h2m2 0h2m2 0h2m4 0h2m8 0h2m-28 2h2m2 0h2m0 0h2m10 0h2m-20 2h2m2 0h2m-8 2h2m0 0h2m12 0h2m2 0h2m-18 2h2m10 0h2m0 0h2m8 0h2m-26 2h2m2 0h2m2 0h2m-10 2h2m0 0h2m4 0h2m-22 2h2m10 0h2m0 0h2m-2 2h2m4 0h2m-2 2h2m0 0h2m14 0h2m-24 2h2m0 0h2m2 0h2m-8 2h2m-2 2h2m-22 2h2m4 0h2m14 0h2m-4 2h2m2 0h2m-2 2h2m-24 14h2m0 0h2m2 0h2m8 0h2m8 0h2m2 0h2m2 0h2m4 0h2"/>
<path transform="scale(.5)" stroke="#000" stroke-width="2" d="M1076 117h2m-6 4h2m2 2h2m-6 2h2m4 4h2m-8 14h2m-2 4h2m-14 2h2m-8 2h2m16 0h2m-2 6h2m20 0h2m-24 16h2m-2 4h2m10 0h2m4 6h2m-36 4h2m12 4h2m20 0h2m-28 4h2m6 2h2m16 2h2m-24 2h2m4 2h2m-10 2h2m16 0h2m-8 2h2m-2 2h2m8 0h2m-12 2h2m-8 2h2m2 2h2m-16 2h2m0 2h2m2 0h2m0 0h2m12 0h2m-18 2h2m0 0h2m6 0h2m4 2h2m-28 2h2m6 0h2m-4 2h2m4 0h2m0 0h2m8 0h2m-2 2h2m2 0h2m-18 2h2m10 0h2m2 0h2m-16 2h2m14 0h2m-30 2h2m16 0h2m8 0h2m-38 2h2m6 0h2m22 0h2m-34 2h2m12 0h2m-6 2h2m18 0h2m-32 2h2m26 0h2m4 0h2m-30 2h2m20 0h2m4 0h2m-34 2h2m12 0h2m14 0h2m-16 2h2m4 0h2m8 0h2m-24 2h2m4 0h2m2 0h2m-26 2h2m8 0h2m0 0h2m22 0h2m-40 2h2m2 0h2m10 0h2m2 0h2m-16 2h2m0 0h2m18 0h2m-22 2h2m14 0h2m4 0h2m10 0h2m-44 2h2m8 0h2m2 0h2m0 0h2m16 0h2m-36 2h2m14 0h2m6 0h2m0 0h2m0 0h2m-26 2h2m0 0h2m20 0h2m0 0h2m-26 2h2m2 0h2m0 0h2m-14 2h2m24 0h2m4 0h2m8 0h2m-42 2h2m20 0h2m-20 2h2m0 0h2m14 0h2m4 0h2m-24 2h2m6 0h2m6 0h2m10 0h2m4 0h2m-42 2h2m10 0h2m8 0h2m6 0h2m0 0h2m-34 2h2m6 0h2m4 0h2m4 0h2m6 0h2m6 0h2m-30 2h2m4 0h2m24 0h2m-42 2h2m6 0h2m12 0h2m12 0h2m-34 2h2m14 0h2m6 0h2m-6 2h2m0 0h2m2 0h2m0 0h2m4 0h2m-36 2h2m14 0h2m8 0h2m-24 2h2m2 0h2m14 0h2m-24 2h2m2 0h2m2 0h2m16 0h2m-28 2h2m2 0h2m8 0h2m12 0h2m-30 2h2m2 0h2m4 0h2m-8 2h2m0 0h2m18 0h2m0 0h2m-14 2h2m0 0h2m2 0h2m-28 2h2m6 0h2m4 0h2m-14 2h2m8 0h2m18 0h2m-26 2h2m16 0h2m10 0h2m-40 2h2m2 0h2m12 0h2m-2 2h2m8 0h2m2 0h2m2 0h2m-34 2h2m8 0h2m2 0h2m4 0h2m12 0h2m-38 2h2m10 0h2m16 0h2m-26 2h2m0 0h2m0 0h2m-12 2h2m2 0h2m22 0h2m-20 2h2m2 0h2m14 0h2m-28 2h2m22 0h2m-14 2h2m8 0h2m-22 2h2m6 0h2m10 0h2m-24 2h2m14 0h2m0 2h2m-16 2h2m6 0h2m0 2h2m-6 2h2m8 0h2m-14 2h2m0 0h2m4 0h2m-4 2h2m-8 2h2m8 0h2m0 0h2m-16 2h2m6 6h2m2 0h2m-22 2h2m14 2h2m10 4h2m-16 6h2m-4 2h2m-14 16h2m0 0h2m4 0h2m6 0h2m4 0h2m2 0h2m2 0h2m2 0h2"/>
<line x1="287" y1="16" x2="287" y2="200.8" stroke="#9a9a9a" stroke-width="1.2"/>
<line x1="286.5" y1="200.3" x2="552" y2="200.3" stroke="#9a9a9a" stroke-width="1.2"/>
<line x1="284.5" y1="30" x2="287" y2="30" stroke="#9a9a9a" stroke-width="0.8"/>
<text x="283.7" y="32.3" font-size="6.5" fill="#333" text-anchor="end" stroke="#333" stroke-width="0.16">6</text>
<line x1="284.5" y1="84.1" x2="287" y2="84.1" stroke="#9a9a9a" stroke-width="0.8"/>
<text x="283.7" y="86.4" font-size="6.5" fill="#333" text-anchor="end" stroke="#333" stroke-width="0.16">4</text>
<line x1="284.5" y1="138.2" x2="287" y2="138.2" stroke="#9a9a9a" stroke-width="0.8"/>
<text x="283.7" y="140.5" font-size="6.5" fill="#333" text-anchor="end" stroke="#333" stroke-width="0.16">2</text>
<line x1="284.5" y1="192.3" x2="287" y2="192.3" stroke="#9a9a9a" stroke-width="0.8"/>
<text x="283.7" y="194.6" font-size="6.5" fill="#333" text-anchor="end" stroke="#333" stroke-width="0.16">0</text>
<text x="276.8" y="108" font-size="7.7" fill="#000" text-anchor="middle" stroke="#000" stroke-width="0.16" transform="rotate(-90 276.8 108)">Expression Level</text>
<line x1="287" y1="98.8" x2="561" y2="98.8" stroke="#dc2a30" stroke-width="1.5"/>
<line x1="302.6" y1="200.3" x2="302.6" y2="202.3" stroke="#9a9a9a" stroke-width="0.8"/>
<text x="0" y="0" font-size="6.4" fill="#222" stroke="#222" stroke-width="0.08" text-anchor="end" transform="translate(306.4 207.3) rotate(-45)">Alveolar</text>
<line x1="328.6" y1="200.3" x2="328.6" y2="202.3" stroke="#9a9a9a" stroke-width="0.8"/>
<text x="0" y="0" font-size="6.4" fill="#222" stroke="#222" stroke-width="0.08" text-anchor="end" transform="translate(332.4 207.3) rotate(-45)">Fibrotic</text>
<line x1="354.6" y1="200.3" x2="354.6" y2="202.3" stroke="#9a9a9a" stroke-width="0.8"/>
<text x="0" y="0" font-size="6.4" fill="#222" stroke="#222" stroke-width="0.08" text-anchor="end" transform="translate(358.4 207.3) rotate(-45)">Inflammatory</text>
<line x1="380.6" y1="200.3" x2="380.6" y2="202.3" stroke="#9a9a9a" stroke-width="0.8"/>
<text x="0" y="0" font-size="6.4" fill="#222" stroke="#222" stroke-width="0.08" text-anchor="end" transform="translate(384.4 207.3) rotate(-45)">Adventitial</text>
<line x1="406.6" y1="200.3" x2="406.6" y2="202.3" stroke="#9a9a9a" stroke-width="0.8"/>
<text x="0" y="0" font-size="6.4" fill="#222" stroke="#222" stroke-width="0.08" text-anchor="end" transform="translate(410.4 207.3) rotate(-45)">Smooth muscle</text>
<line x1="432.6" y1="200.3" x2="432.6" y2="202.3" stroke="#9a9a9a" stroke-width="0.8"/>
<text x="0" y="0" font-size="6.4" fill="#222" stroke="#222" stroke-width="0.08" text-anchor="end" transform="translate(436.4 207.3) rotate(-45)">Peribronchial</text>
<line x1="458.6" y1="200.3" x2="458.6" y2="202.3" stroke="#9a9a9a" stroke-width="0.8"/>
<text x="0" y="0" font-size="6.4" fill="#222" stroke="#222" stroke-width="0.08" text-anchor="end" transform="translate(462.4 207.3) rotate(-45)">Stress-activated</text>
<line x1="484.6" y1="200.3" x2="484.6" y2="202.3" stroke="#9a9a9a" stroke-width="0.8"/>
<text x="0" y="0" font-size="6.4" fill="#222" stroke="#222" stroke-width="0.08" text-anchor="end" transform="translate(488.4 207.3) rotate(-45)">Proliferating</text>
<line x1="510.6" y1="200.3" x2="510.6" y2="202.3" stroke="#9a9a9a" stroke-width="0.8"/>
<text x="0" y="0" font-size="6.4" fill="#222" stroke="#222" stroke-width="0.08" text-anchor="end" transform="translate(514.4 207.3) rotate(-45)">Mesothelial</text>
<line x1="536.6" y1="200.3" x2="536.6" y2="202.3" stroke="#9a9a9a" stroke-width="0.8"/>
<text x="0" y="0" font-size="6.4" fill="#222" stroke="#222" stroke-width="0.08" text-anchor="end" transform="translate(540.4 207.3) rotate(-45)">Pericyte</text>
<path d="M573.4 88V69.5" stroke="#000" stroke-width="0.8"/><path d="M570.9 70.2L573.4 66L575.9 70.2Z" fill="#000"/>
<path d="M573.4 108V126.5" stroke="#000" stroke-width="0.8"/><path d="M570.9 125.8L573.4 130L575.9 125.8Z" fill="#000"/>
<text x="584.7" y="78.6" font-size="6.6" fill="#e8383d" text-anchor="start" stroke="#e8383d" stroke-width="0.16">tdTomato+</text>
<text x="567" y="101.3" font-size="6.8" fill="#000" text-anchor="start" stroke="#000" stroke-width="0.16">Threshold (3.5)</text>
<text x="584.7" y="119.2" font-size="6.7" fill="#000" text-anchor="start" stroke="#000" stroke-width="0.16">Negative</text>
<text x="1.2" y="255.4" font-size="8.5" fill="#000" text-anchor="start" font-weight="bold">c</text>
<text x="88.4" y="265.9" font-size="7.8" fill="#000" text-anchor="middle" stroke="#000" stroke-width="0.16">Replicate1</text>
<text x="177.5" y="265.9" font-size="7.8" fill="#000" text-anchor="middle" stroke="#000" stroke-width="0.16">Replicate2</text>
<text x="265.2" y="265.9" font-size="7.8" fill="#000" text-anchor="middle" stroke="#000" stroke-width="0.16">Replicate3</text>
<text x="7" y="304.3" font-size="7.8" fill="#000" text-anchor="start" stroke="#000" stroke-width="0.16">Day 0</text>
<g>
<path d="M83.9 277.5L83.2 282.3L83.4 290.6L85.1 293.8L88 293.6L90.9 291.4L93.1 288.3L94.1 284.7L93.5 279.9L91.8 276.8L89 275.3L85.7 275.5L83.9 277.5Z" fill="#744af5" fill-opacity="0.7"/>
<path d="M81.3 293.2L80.7 296.6L81.9 299.6L84.2 300.4L85.6 299.9L87 298.3L87.5 295.8L86.9 293.8L85.3 292.6L83.4 292.4L81.3 293.2Z" fill="#b79ee2" fill-opacity="0.9"/>
<path d="M96.7 311.9L95.7 308.9L92.7 308.9L91 313L95.2 315.3L96.4 313.8L96.7 311.9Z" fill="#b79ee2" fill-opacity="0.9"/>
<path d="M85.8 319.6L85.1 322L85.6 324.8L88.1 325.1L95.8 327.3L96.1 326.3L93.6 325.3L92.2 323.9L91.8 321.6L88.7 321L87.2 319.8L85.8 319.6Z" fill="#b79ee2" fill-opacity="0.9"/>
<path transform="scale(.5)" stroke="#d3d3d3" stroke-width="2" d="M175 583h2m-12 4h2m2 2h2m-3 1h2m0 3h2m-8 1h2m-1 5h2m23 22h2m-7 2h2m-8 22h2m-2 5h2m0 1h2m3 1h2m1 1h2"/>
<path transform="scale(.5)" stroke="#ccc4d8" stroke-width="2" d="M187 576h2m-7 14h2"/>
<path transform="scale(.5)" stroke="#c4b4dc" stroke-width="2" d="M187 575h2m-19 4h2m1 4h2m26 4h2m-31 8h2m11 31h2m-14 21h2m9 4h2"/>
<path transform="scale(.5)" stroke="#bba5e0" stroke-width="2" d="M181 561h2m-2 3h2m-11 13h2m-43 4h2m-1 0h2m46 0h2m-18 5h2m10 0h2m12 5h2m-25 6h2m18 24h2m-1 2h2m-6 2h2m2 0h2m-3 2h2m-18 14h2m3 2h2m4 6h2m5 5h2"/>
<path transform="scale(.5)" stroke="#b296e4" stroke-width="2" d="M173 552h2m2 4h2m5 5h2m-2 3h2m-2 1h2m-9 6h2m-5 1h2m2 0h2m2 0h2m-15 2h2m10 0h2m-4 2h2m10 1h2m-30 13h2m-1 0h2m5 0h2m-1 0h2m-9 1h2m1 2h2m3 0h2m-13 1h2m0 2h2m1 2h2m18 22h2m0 0h2m-3 6h2m-1 0h2m-19 18h2m4 3h2m-1 2h2m9 5h2"/>
<path transform="scale(.5)" stroke="#a886e8" stroke-width="2" d="M181 554h2m-14 11h2m6 3h2m-7 2h2m11 4h2m-14 1h2m-44 5h2m41 0h2m13 2h2m-16 2h2m-13 8h2m1 1h2m36 9h2m-32 42h2m-1 1h2"/>
<path transform="scale(.5)" stroke="#9d77ec" stroke-width="2" d="M167 571h2m13 1h2m-17 2h2m-1 1h2m1 0h2m0 2h2m-5 3h2m0 1h2m-3 2h2m10 0h2m-9 1h2m15 6h2m-11 5h2m23 6h2"/>
<path transform="scale(.5)" stroke="#9068ef" stroke-width="2" d="M176 553h2m3 1h2m-9 8h2m-7 12h2m-3 5h2m1 1h2m-2 3h2m8 4h2m10 2h2m1 0h2m-11 11h2"/>
<path transform="scale(.5)" stroke="#8258f3" stroke-width="2" d="M172 555h2m8 1h2m-3 1h2m-10 1h2m2 1h2m0 0h2m-11 4h2m-5 2h2m3 0h2m7 0h2m3 2h2m-15 5h2m7 0h2m-2 3h2m-2 4h2m5 3h2m-14 3h2m1 2h2m10 5h2m7 12h2"/>
<path transform="scale(.5)" stroke="#7248f6" stroke-width="2" d="M176 552h2m0 1h2m-3 7h2m5 0h2m-1 0h2m-4 2h2m0 1h2m-14 3h2m4 1h2m0 0h2m1 0h2m-19 1h2m1 0h2m9 1h2m2 0h2m-17 2h2m10 0h2m0 0h2m-1 0h2m-10 2h2m1 4h2m-2 3h2"/>
<path transform="scale(.5)" stroke="#5e36f9" stroke-width="2" d="M173 556h2m5 1h2m-1 9h2m1 2h2m-9 3h2m-1 6h2m-3 2h2"/>
</g>
<line x1="61" y1="273" x2="61" y2="331.9" stroke="#a8a8a8" stroke-width="0.9"/>
<line x1="60.6" y1="331.4" x2="108.6" y2="331.4" stroke="#a8a8a8" stroke-width="0.9"/>
<line x1="59" y1="282.4" x2="61" y2="282.4" stroke="#a8a8a8" stroke-width="0.7"/>
<text x="58.4" y="284.7" font-size="6.5" fill="#4d4d4d" text-anchor="end" stroke="#4d4d4d" stroke-width="0.16">5</text>
<line x1="59" y1="294.1" x2="61" y2="294.1" stroke="#a8a8a8" stroke-width="0.7"/>
<text x="58.4" y="296.4" font-size="6.5" fill="#4d4d4d" text-anchor="end" stroke="#4d4d4d" stroke-width="0.16">0</text>
<line x1="59" y1="305.9" x2="61" y2="305.9" stroke="#a8a8a8" stroke-width="0.7"/>
<text x="58.4" y="308.2" font-size="6.5" fill="#4d4d4d" text-anchor="end" stroke="#4d4d4d" stroke-width="0.16">-5</text>
<line x1="59" y1="317.6" x2="61" y2="317.6" stroke="#a8a8a8" stroke-width="0.7"/>
<text x="58.4" y="319.9" font-size="6.5" fill="#4d4d4d" text-anchor="end" stroke="#4d4d4d" stroke-width="0.16">-10</text>
<line x1="59" y1="329.4" x2="61" y2="329.4" stroke="#a8a8a8" stroke-width="0.7"/>
<text x="58.4" y="331.7" font-size="6.5" fill="#4d4d4d" text-anchor="end" stroke="#4d4d4d" stroke-width="0.16">-15</text>
<line x1="61" y1="331.4" x2="61" y2="333.4" stroke="#a8a8a8" stroke-width="0.7"/>
<text x="61" y="340.7" font-size="6.5" fill="#4d4d4d" text-anchor="middle" stroke="#4d4d4d" stroke-width="0.16">-15</text>
<line x1="70.8" y1="331.4" x2="70.8" y2="333.4" stroke="#a8a8a8" stroke-width="0.7"/>
<text x="70.8" y="340.7" font-size="6.5" fill="#4d4d4d" text-anchor="middle" stroke="#4d4d4d" stroke-width="0.16">-10</text>
<line x1="80.5" y1="331.4" x2="80.5" y2="333.4" stroke="#a8a8a8" stroke-width="0.7"/>
<text x="80.5" y="340.7" font-size="6.5" fill="#4d4d4d" text-anchor="middle" stroke="#4d4d4d" stroke-width="0.16">-5</text>
<line x1="90.3" y1="331.4" x2="90.3" y2="333.4" stroke="#a8a8a8" stroke-width="0.7"/>
<text x="90.3" y="340.7" font-size="6.5" fill="#4d4d4d" text-anchor="middle" stroke="#4d4d4d" stroke-width="0.16">0</text>
<line x1="100" y1="331.4" x2="100" y2="333.4" stroke="#a8a8a8" stroke-width="0.7"/>
<text x="100" y="340.7" font-size="6.5" fill="#4d4d4d" text-anchor="middle" stroke="#4d4d4d" stroke-width="0.16">5</text>
<text x="84.5" y="349.7" font-size="7.5" fill="#000" text-anchor="middle" stroke="#000" stroke-width="0.16">UMAP_1</text>
<text x="45.5" y="302.2" font-size="7.5" fill="#000" text-anchor="middle" stroke="#000" stroke-width="0.16" transform="rotate(-90 45.5 302.2)">UMAP_2</text>
<g>
<path d="M175.8 277.5L175.1 282.3L175.3 290.6L177 293.8L179.9 293.6L182.8 291.4L185 288.3L186 284.7L185.4 279.9L183.7 276.8L180.9 275.3L177.6 275.5L175.8 277.5Z" fill="#744af5" fill-opacity="0.7"/>
<path d="M173.2 293.2L172.6 296.6L173.8 299.6L176.1 300.4L177.5 299.9L178.9 298.3L179.4 295.8L178.8 293.8L177.2 292.6L175.3 292.4L173.2 293.2Z" fill="#b79ee2" fill-opacity="0.9"/>
<path d="M188.6 311.9L187.6 308.9L184.6 308.9L182.9 313L187.1 315.3L188.3 313.8L188.6 311.9Z" fill="#b79ee2" fill-opacity="0.9"/>
<path d="M177.7 319.6L177 322L177.5 324.8L180 325.1L187.7 327.3L188 326.3L185.5 325.3L184.1 323.9L183.7 321.6L180.6 321L179.1 319.8L177.7 319.6Z" fill="#b79ee2" fill-opacity="0.9"/>
<path transform="scale(.5)" stroke="#d3d3d3" stroke-width="2" d="M313 579h2m37 8h2m-7 3h2m0 0h2m-4 1h2m5 5h2m-2 2h2m-3 2h2m14 22h2m3 0h2m-5 7h2m-10 16h2m-7 1h2m2 0h2m4 4h2m4 4h2"/>
<path transform="scale(.5)" stroke="#ccc4d8" stroke-width="2" d="M371 593h2m-3 30h2m-8 28h2"/>
<path transform="scale(.5)" stroke="#c4b4dc" stroke-width="2" d="M367 577h2m-16 2h2m10 7h2m-17 8h2m4 49h2m5 7h2"/>
<path transform="scale(.5)" stroke="#bba5e0" stroke-width="2" d="M362 570h2m-13 4h2m13 3h2m-53 3h2m43 4h2m-13 4h2m-3 2h2m-3 4h2m5 5h2m13 21h2m-2 2h2m-1 2h2m-2 4h2m-7 17h2m-9 3h2"/>
<path transform="scale(.5)" stroke="#b296e4" stroke-width="2" d="M359 557h2m-1 0h2m6 4h2m-1 7h2m-11 1h2m-11 10h2m5 1h2m24 5h2m-41 7h2m0 0h2m1 0h2m3 1h2m-9 2h2m19 26h2m2 8h2m-19 15h2m5 2h2m-9 1h2m8 0h2m-2 1h2m-1 0h2"/>
<path transform="scale(.5)" stroke="#a886e8" stroke-width="2" d="M353 557h2m9 4h2m-5 1h2m-1 1h2m-5 2h2m-3 4h2m-6 6h2m-1 4h2m3 1h2m2 2h2m1 0h2m13 4h2m-32 1h2m-1 2h2m-3 1h2m-6 9h2m19 0h2m4 4h2m-21 45h2"/>
<path transform="scale(.5)" stroke="#9d77ec" stroke-width="2" d="M357 558h2m9 3h2m-3 4h2m-18 7h2m4 1h2m-6 2h2m4 6h2m-8 1h2m2 0h2m10 3h2m18 17h2m-9 1h2m7 0h2m-5 2h2m-20 16h2"/>
<path transform="scale(.5)" stroke="#9068ef" stroke-width="2" d="M356 555h2m5 5h2m-4 13h2m-11 3h2m0 0h2m-2 3h2m-3 2h2m3 0h2m-3 1h2m-1 1h2m4 0h2m6 13h2m18 3h2m-18 4h2m1 2h2"/>
<path transform="scale(.5)" stroke="#8258f3" stroke-width="2" d="M359 554h2m0 0h2m-7 1h2m-5 2h2m8 0h2m-4 1h2m3 0h2m0 0h2m-18 2h2m13 1h2m-7 1h2m-4 1h2m-11 1h2m9 0h2m-12 5h2m4 1h2m7 0h2m-15 1h2m0 0h2m9 2h2m-12 1h2m2 1h2m-4 2h2m10 0h2m-13 1h2m-5 6h2m15 6h2m1 11h2m6 4h2m-3 1h2"/>
<path transform="scale(.5)" stroke="#7248f6" stroke-width="2" d="M359 556h2m4 1h2m-5 2h2m4 0h2m-9 1h2m-10 2h2m-1 0h2m3 1h2m-2 1h2m-4 4h2m4 0h2m-9 1h2m0 1h2m-4 3h2m5 0h2m-4 1h2m-13 2h2m7 2h2"/>
<path transform="scale(.5)" stroke="#5e36f9" stroke-width="2" d="M369 568h2m-8 3h2m-8 3h2m9 1h2"/>
</g>
<line x1="152.9" y1="273" x2="152.9" y2="331.9" stroke="#a8a8a8" stroke-width="0.9"/>
<line x1="152.5" y1="331.4" x2="200.5" y2="331.4" stroke="#a8a8a8" stroke-width="0.9"/>
<line x1="150.9" y1="282.4" x2="152.9" y2="282.4" stroke="#a8a8a8" stroke-width="0.7"/>
<text x="150.3" y="284.7" font-size="6.5" fill="#4d4d4d" text-anchor="end" stroke="#4d4d4d" stroke-width="0.16">5</text>
<line x1="150.9" y1="294.1" x2="152.9" y2="294.1" stroke="#a8a8a8" stroke-width="0.7"/>
<text x="150.3" y="296.4" font-size="6.5" fill="#4d4d4d" text-anchor="end" stroke="#4d4d4d" stroke-width="0.16">0</text>
<line x1="150.9" y1="305.9" x2="152.9" y2="305.9" stroke="#a8a8a8" stroke-width="0.7"/>
<text x="150.3" y="308.2" font-size="6.5" fill="#4d4d4d" text-anchor="end" stroke="#4d4d4d" stroke-width="0.16">-5</text>
<line x1="150.9" y1="317.6" x2="152.9" y2="317.6" stroke="#a8a8a8" stroke-width="0.7"/>
<text x="150.3" y="319.9" font-size="6.5" fill="#4d4d4d" text-anchor="end" stroke="#4d4d4d" stroke-width="0.16">-10</text>
<line x1="150.9" y1="329.4" x2="152.9" y2="329.4" stroke="#a8a8a8" stroke-width="0.7"/>
<text x="150.3" y="331.7" font-size="6.5" fill="#4d4d4d" text-anchor="end" stroke="#4d4d4d" stroke-width="0.16">-15</text>
<line x1="153" y1="331.4" x2="153" y2="333.4" stroke="#a8a8a8" stroke-width="0.7"/>
<text x="153" y="340.7" font-size="6.5" fill="#4d4d4d" text-anchor="middle" stroke="#4d4d4d" stroke-width="0.16">-15</text>
<line x1="162.7" y1="331.4" x2="162.7" y2="333.4" stroke="#a8a8a8" stroke-width="0.7"/>
<text x="162.7" y="340.7" font-size="6.5" fill="#4d4d4d" text-anchor="middle" stroke="#4d4d4d" stroke-width="0.16">-10</text>
<line x1="172.5" y1="331.4" x2="172.5" y2="333.4" stroke="#a8a8a8" stroke-width="0.7"/>
<text x="172.5" y="340.7" font-size="6.5" fill="#4d4d4d" text-anchor="middle" stroke="#4d4d4d" stroke-width="0.16">-5</text>
<line x1="182.2" y1="331.4" x2="182.2" y2="333.4" stroke="#a8a8a8" stroke-width="0.7"/>
<text x="182.2" y="340.7" font-size="6.5" fill="#4d4d4d" text-anchor="middle" stroke="#4d4d4d" stroke-width="0.16">0</text>
<line x1="192" y1="331.4" x2="192" y2="333.4" stroke="#a8a8a8" stroke-width="0.7"/>
<text x="192" y="340.7" font-size="6.5" fill="#4d4d4d" text-anchor="middle" stroke="#4d4d4d" stroke-width="0.16">5</text>
<text x="176.4" y="349.7" font-size="7.5" fill="#000" text-anchor="middle" stroke="#000" stroke-width="0.16">UMAP_1</text>
<text x="137.4" y="302.2" font-size="7.5" fill="#000" text-anchor="middle" stroke="#000" stroke-width="0.16" transform="rotate(-90 137.4 302.2)">UMAP_2</text>
<g>
<path d="M265.4 277.5L264.7 282.3L264.9 290.6L266.6 293.8L269.5 293.6L272.4 291.4L274.6 288.3L275.6 284.7L275 279.9L273.3 276.8L270.5 275.3L267.2 275.5L265.4 277.5Z" fill="#744af5" fill-opacity="0.7"/>
<path d="M262.8 293.2L262.2 296.6L263.4 299.6L265.7 300.4L267.1 299.9L268.5 298.3L269 295.8L268.4 293.8L266.8 292.6L264.9 292.4L262.8 293.2Z" fill="#b79ee2" fill-opacity="0.9"/>
<path d="M278.2 311.9L277.2 308.9L274.2 308.9L272.5 313L276.7 315.3L277.9 313.8L278.2 311.9Z" fill="#b79ee2" fill-opacity="0.9"/>
<path d="M267.3 319.6L266.6 322L267.1 324.8L269.6 325.1L277.3 327.3L277.6 326.3L275.1 325.3L273.7 323.9L273.3 321.6L270.2 321L268.7 319.8L267.3 319.6Z" fill="#b79ee2" fill-opacity="0.9"/>
<path transform="scale(.5)" stroke="#d3d3d3" stroke-width="2" d="M495 582h2m37 9h2m14 32h2m-4 2h2m5 0h2m-4 3h2m-3 1h2m-16 14h2m0 0h2m-6 4h2m0 2h2m-1 0h2m3 2h2"/>
<path transform="scale(.5)" stroke="#ccc4d8" stroke-width="2" d="M532 575h2m3 11h2m6 65h2"/>
<path transform="scale(.5)" stroke="#c4b4dc" stroke-width="2" d="M535 582h2m-2 2h2m21 1h2m-31 6h2m19 2h2m-4 30h2m-5 3h2"/>
<path transform="scale(.5)" stroke="#bba5e0" stroke-width="2" d="M536 572h2m-6 15h2m-9 2h2m2 0h2m-1 1h2m4 0h2m-3 1h2m-8 1h2m3 2h2m21 0h2m-24 2h2m-9 1h2m1 0h2m26 0h2m-15 26h2m4 1h2m-17 18h2m6 2h2m-6 1h2m-6 4h2m6 2h2"/>
<path transform="scale(.5)" stroke="#b296e4" stroke-width="2" d="M538 551h2m-1 8h2m-11 2h2m15 3h2m-10 1h2m-1 6h2m5 3h2m-4 2h2m-53 5h2m46 0h2m-11 6h2m0 3h2m-3 1h2m-5 1h2m1 0h2m31 2h2m-40 1h2m0 0h2m24 3h2m10 5h2m-20 17h2m-1 1h2m-4 5h2m-16 15h2m-2 4h2m2 0h2m3 2h2m6 6h2"/>
<path transform="scale(.5)" stroke="#a886e8" stroke-width="2" d="M539 552h2m-5 3h2m2 1h2m-9 2h2m4 12h2m0 0h2m-5 5h2m0 5h2m14 6h2m-24 1h2m-4 4h2m36 9h2"/>
<path transform="scale(.5)" stroke="#9d77ec" stroke-width="2" d="M530 572h2m14 1h2m-7 9h2m11 12h2m3 0h2"/>
<path transform="scale(.5)" stroke="#9068ef" stroke-width="2" d="M537 562h2m2 0h2m-11 3h2m16 10h2m-12 3h2m-10 1h2m20 1h2m-25 2h2m4 1h2m21 3h2m-1 2h2m-9 12h2m1 4h2m10 1h2"/>
<path transform="scale(.5)" stroke="#8258f3" stroke-width="2" d="M537 554h2m6 0h2m-7 2h2m-7 1h2m-1 1h2m6 3h2m2 0h2m-18 2h2m7 0h2m-10 3h2m-1 1h2m2 0h2m3 4h2m-15 1h2m7 0h2m5 0h2m-18 4h2m7 1h2m9 2h2m0 0h2m-19 3h2m3 0h2m-11 2h2m0 3h2m12 9h2m20 10h2"/>
<path transform="scale(.5)" stroke="#7248f6" stroke-width="2" d="M535 552h2m-6 3h2m8 0h2m-2 3h2m2 2h2m-18 4h2m9 1h2m1 1h2m4 2h2m-20 1h2m1 0h2m2 0h2m1 0h2m-14 1h2m1 0h2m5 0h2m-3 2h2m8 0h2m-1 0h2m-13 3h2m3 0h2m-4 5h2m-3 1h2"/>
<path transform="scale(.5)" stroke="#5e36f9" stroke-width="2" d="M533 554h2m9 0h2m-9 3h2m6 3h2m-9 3h2m1 0h2m-13 2h2m10 0h2m-14 2h2m9 3h2m-10 17h2"/>
</g>
<line x1="242.5" y1="273" x2="242.5" y2="331.9" stroke="#a8a8a8" stroke-width="0.9"/>
<line x1="242.1" y1="331.4" x2="290.1" y2="331.4" stroke="#a8a8a8" stroke-width="0.9"/>
<line x1="240.5" y1="282.4" x2="242.5" y2="282.4" stroke="#a8a8a8" stroke-width="0.7"/>
<text x="239.9" y="284.7" font-size="6.5" fill="#4d4d4d" text-anchor="end" stroke="#4d4d4d" stroke-width="0.16">5</text>
<line x1="240.5" y1="294.1" x2="242.5" y2="294.1" stroke="#a8a8a8" stroke-width="0.7"/>
<text x="239.9" y="296.4" font-size="6.5" fill="#4d4d4d" text-anchor="end" stroke="#4d4d4d" stroke-width="0.16">0</text>
<line x1="240.5" y1="305.9" x2="242.5" y2="305.9" stroke="#a8a8a8" stroke-width="0.7"/>
<text x="239.9" y="308.2" font-size="6.5" fill="#4d4d4d" text-anchor="end" stroke="#4d4d4d" stroke-width="0.16">-5</text>
<line x1="240.5" y1="317.6" x2="242.5" y2="317.6" stroke="#a8a8a8" stroke-width="0.7"/>
<text x="239.9" y="319.9" font-size="6.5" fill="#4d4d4d" text-anchor="end" stroke="#4d4d4d" stroke-width="0.16">-10</text>
<line x1="240.5" y1="329.4" x2="242.5" y2="329.4" stroke="#a8a8a8" stroke-width="0.7"/>
<text x="239.9" y="331.7" font-size="6.5" fill="#4d4d4d" text-anchor="end" stroke="#4d4d4d" stroke-width="0.16">-15</text>
<line x1="242.6" y1="331.4" x2="242.6" y2="333.4" stroke="#a8a8a8" stroke-width="0.7"/>
<text x="242.6" y="340.7" font-size="6.5" fill="#4d4d4d" text-anchor="middle" stroke="#4d4d4d" stroke-width="0.16">-15</text>
<line x1="252.3" y1="331.4" x2="252.3" y2="333.4" stroke="#a8a8a8" stroke-width="0.7"/>
<text x="252.3" y="340.7" font-size="6.5" fill="#4d4d4d" text-anchor="middle" stroke="#4d4d4d" stroke-width="0.16">-10</text>
<line x1="262.1" y1="331.4" x2="262.1" y2="333.4" stroke="#a8a8a8" stroke-width="0.7"/>
<text x="262.1" y="340.7" font-size="6.5" fill="#4d4d4d" text-anchor="middle" stroke="#4d4d4d" stroke-width="0.16">-5</text>
<line x1="271.8" y1="331.4" x2="271.8" y2="333.4" stroke="#a8a8a8" stroke-width="0.7"/>
<text x="271.8" y="340.7" font-size="6.5" fill="#4d4d4d" text-anchor="middle" stroke="#4d4d4d" stroke-width="0.16">0</text>
<line x1="281.6" y1="331.4" x2="281.6" y2="333.4" stroke="#a8a8a8" stroke-width="0.7"/>
<text x="281.6" y="340.7" font-size="6.5" fill="#4d4d4d" text-anchor="middle" stroke="#4d4d4d" stroke-width="0.16">5</text>
<text x="266" y="349.7" font-size="7.5" fill="#000" text-anchor="middle" stroke="#000" stroke-width="0.16">UMAP_1</text>
<text x="227" y="302.2" font-size="7.5" fill="#000" text-anchor="middle" stroke="#000" stroke-width="0.16" transform="rotate(-90 227 302.2)">UMAP_2</text>
<text x="7" y="389.2" font-size="7.8" fill="#000" text-anchor="start" stroke="#000" stroke-width="0.16">Day 7</text>
<g>
<path d="M83.7 362.2L84.2 375.8L86.6 376.7L88 377.8L89.9 384L93.2 389.4L97.6 387.5L103.6 385.8L104.5 384.1L103.4 383.1L100.9 382.7L99.4 381.7L99.6 375.3L99 372.9L95.7 369.4L94.8 367.2L94.7 364.9L93.8 362.8L92 360.7L89.9 359.2L87.7 358.5L85.9 358.8L84.4 360L83.7 362.2Z" fill="#7248f6" fill-opacity="1.0"/>
<path d="M84.3 367.9L83.9 368.1L84.2 375.8L86.6 376.7L88 377.8L90.2 384.1L91 383L91.3 378.9L90 374.8L86 369.2L84.3 367.9Z" fill="#966eee" fill-opacity="0.7"/>
<path d="M81.5 376.3L80.9 379.7L82.1 382.7L84.4 383.5L85.8 383L87.2 381.4L87.7 378.9L87.1 376.9L85.5 375.7L83.6 375.5L81.5 376.3Z" fill="#b79ee2" fill-opacity="0.9"/>
<path d="M95.1 389.8L93.6 389.2L93 391.8L91.1 396L95.4 398.4L96.5 396.9L96.9 395L95.1 389.8Z" fill="#b79ee2" fill-opacity="0.9"/>
<path d="M86 402.7L85.3 405.1L85.8 407.9L88.3 408.2L96 410.4L96.3 409.4L93.8 408.4L92.4 407L92 404.7L88.9 404.1L87.4 402.9L86 402.7Z" fill="#b79ee2" fill-opacity="0.9"/>
<path transform="scale(.5)" stroke="#d3d3d3" stroke-width="2" d="M130 746h2m32 8h2m3 0h2m-5 7h2m-2 5h2m21 15h2m-4 1h2m-2 4h2m2 3h2m-1 4h2m-4 2h2m-18 15h2m3 5h2m8 3h2"/>
<path transform="scale(.5)" stroke="#ccc4d8" stroke-width="2" d="M170 739h2m-42 6h2m37 2h2m6 9h2m1 58h2"/>
<path transform="scale(.5)" stroke="#c4b4dc" stroke-width="2" d="M170 741h2m1 1h2m0 4h2m-45 2h2m44 4h2m-2 1h2m-4 1h2m8 29h2m-14 23h2"/>
<path transform="scale(.5)" stroke="#bba5e0" stroke-width="2" d="M168 750h2m0 2h2m-5 3h2m-1 1h2m-1 3h2m1 0h2m-4 2h2m9 0h2m2 26h2m0 4h2m-14 16h2m-1 5h2m0 1h2m-3 2h2m1 0h2m2 0h2"/>
<path transform="scale(.5)" stroke="#b296e4" stroke-width="2" d="M173 719h2m4 11h2m-3 10h2m8 7h2m0 0h2m-2 2h2m-14 2h2m-15 1h2m20 1h2m-24 1h2m2 0h2m-9 1h2m8 2h2m-5 1h2m7 0h2m-14 1h2m-2 2h2m6 0h2m-8 2h2m19 2h2m1 3h2m-13 1h2m-1 1h2m5 15h2m-2 1h2m-1 0h2m-3 1h2m-1 0h2m-6 1h2m-18 20h2m-1 5h2m-2 1h2m5 2h2m3 0h2"/>
<path transform="scale(.5)" stroke="#a886e8" stroke-width="2" d="M168 724h2m12 3h2m3 14h2m-3 4h2m5 4h2m-6 2h2m2 0h2m-16 2h2m4 1h2m5 3h2m-4 1h2m-12 2h2m-12 2h2m5 0h2m-11 3h2m23 1h2m-14 1h2m13 0h2m6 0h2m-24 3h2m6 1h2m-9 2h2m0 43h2"/>
<path transform="scale(.5)" stroke="#9d77ec" stroke-width="2" d="M174 728h2m-6 12h2m-3 3h2m0 0h2m9 0h2m-10 1h2m-8 1h2m2 1h2m-2 3h2m1 2h2m-3 1h2m-1 1h2m1 2h2m-1 3h2m-1 1h2m5 3h2m7 7h2"/>
<path transform="scale(.5)" stroke="#9068ef" stroke-width="2" d="M171 742h2m-5 1h2m2 0h2m-3 1h2m-3 1h2m4 2h2m15 1h2m-26 2h2m1 0h2m3 0h2m-4 2h2m-1 0h2m1 0h2m-4 6h2m2 0h2m-6 1h2m2 0h2m-3 1h2m-3 1h2m-1 2h2"/>
<path transform="scale(.5)" stroke="#8258f3" stroke-width="2" d="M183 723h2m0 2h2m-10 5h2m7 0h2m-13 4h2m11 4h2m-16 1h2m1 1h2m4 0h2m-10 4h2m19 6h2m-21 1h2m-3 1h2m14 2h2m4 2h2m-22 1h2m7 1h2m-10 2h2m3 0h2m5 0h2m-3 1h2m2 0h2m-1 2h2m-15 1h2m1 0h2m5 0h2m-7 3h2m-9 1h2m2 0h2m5 3h2m1 0h2m-10 4h2"/>
<path transform="scale(.5)" stroke="#7248f6" stroke-width="2" d="M170 720h2m1 3h2m5 1h2m-11 1h2m10 0h2m-2 1h2m-9 1h2m2 0h2m-6 1h2m-5 2h2m10 0h2m-15 2h2m3 0h2m-1 0h2m0 2h2m2 0h2m-11 1h2m8 1h2m-17 1h2m5 0h2m-7 2h2m11 2h2m-6 1h2m-3 2h2m7 0h2m-9 1h2m-1 1h2m1 0h2m-2 1h2m1 0h2m-19 3h2m7 0h2m7 0h2m-8 2h2m-5 1h2m2 0h2m0 0h2m7 1h2m-15 1h2m4 3h2m-1 0h2m-6 7h2m2 0h2m5 0h2m-1 0h2m-17 1h2m6 1h2m-13 1h2m8 0h2m12 0h2m-24 2h2m5 0h2m1 1h2m9 0h2m-15 2h2m2 0h2m-12 1h2m-1 2h2"/>
<path transform="scale(.5)" stroke="#5e36f9" stroke-width="2" d="M168 721h2m4 2h2m9 3h2m-20 2h2m9 0h2m7 1h2m-9 2h2m1 0h2m-6 1h2m4 1h2m-2 6h2m-13 1h2m13 2h2m-6 2h2m8 3h2m-12 1h2m6 1h2m-11 3h2m8 2h2m-14 3h2m6 0h2m-1 0h2m2 0h2m-15 4h2m3 0h2m4 0h2m-14 4h2m2 1h2m-2 1h2m18 1h2m-9 1h2m-1 1h2m-19 2h2m1 1h2m5 1h2m-8 2h2"/>
</g>
<line x1="61.2" y1="355.8" x2="61.2" y2="415.7" stroke="#a8a8a8" stroke-width="0.9"/>
<line x1="60.8" y1="415.2" x2="108.8" y2="415.2" stroke="#a8a8a8" stroke-width="0.9"/>
<line x1="59.2" y1="365.4" x2="61.2" y2="365.4" stroke="#a8a8a8" stroke-width="0.7"/>
<text x="58.6" y="367.8" font-size="6.5" fill="#4d4d4d" text-anchor="end" stroke="#4d4d4d" stroke-width="0.16">5</text>
<line x1="59.2" y1="377.2" x2="61.2" y2="377.2" stroke="#a8a8a8" stroke-width="0.7"/>
<text x="58.6" y="379.5" font-size="6.5" fill="#4d4d4d" text-anchor="end" stroke="#4d4d4d" stroke-width="0.16">0</text>
<line x1="59.2" y1="388.9" x2="61.2" y2="388.9" stroke="#a8a8a8" stroke-width="0.7"/>
<text x="58.6" y="391.2" font-size="6.5" fill="#4d4d4d" text-anchor="end" stroke="#4d4d4d" stroke-width="0.16">-5</text>
<line x1="59.2" y1="400.7" x2="61.2" y2="400.7" stroke="#a8a8a8" stroke-width="0.7"/>
<text x="58.6" y="403" font-size="6.5" fill="#4d4d4d" text-anchor="end" stroke="#4d4d4d" stroke-width="0.16">-10</text>
<line x1="59.2" y1="412.4" x2="61.2" y2="412.4" stroke="#a8a8a8" stroke-width="0.7"/>
<text x="58.6" y="414.8" font-size="6.5" fill="#4d4d4d" text-anchor="end" stroke="#4d4d4d" stroke-width="0.16">-15</text>
<line x1="61.2" y1="415.2" x2="61.2" y2="417.2" stroke="#a8a8a8" stroke-width="0.7"/>
<text x="61.2" y="424.5" font-size="6.5" fill="#4d4d4d" text-anchor="middle" stroke="#4d4d4d" stroke-width="0.16">-15</text>
<line x1="71" y1="415.2" x2="71" y2="417.2" stroke="#a8a8a8" stroke-width="0.7"/>
<text x="71" y="424.5" font-size="6.5" fill="#4d4d4d" text-anchor="middle" stroke="#4d4d4d" stroke-width="0.16">-10</text>
<line x1="80.8" y1="415.2" x2="80.8" y2="417.2" stroke="#a8a8a8" stroke-width="0.7"/>
<text x="80.8" y="424.5" font-size="6.5" fill="#4d4d4d" text-anchor="middle" stroke="#4d4d4d" stroke-width="0.16">-5</text>
<line x1="90.5" y1="415.2" x2="90.5" y2="417.2" stroke="#a8a8a8" stroke-width="0.7"/>
<text x="90.5" y="424.5" font-size="6.5" fill="#4d4d4d" text-anchor="middle" stroke="#4d4d4d" stroke-width="0.16">0</text>
<line x1="100.2" y1="415.2" x2="100.2" y2="417.2" stroke="#a8a8a8" stroke-width="0.7"/>
<text x="100.2" y="424.5" font-size="6.5" fill="#4d4d4d" text-anchor="middle" stroke="#4d4d4d" stroke-width="0.16">5</text>
<text x="84.7" y="433.5" font-size="7.5" fill="#000" text-anchor="middle" stroke="#000" stroke-width="0.16">UMAP_1</text>
<text x="45.7" y="385.5" font-size="7.5" fill="#000" text-anchor="middle" stroke="#000" stroke-width="0.16" transform="rotate(-90 45.7 385.5)">UMAP_2</text>
<g>
<path d="M176.2 362.2L176.7 375.8L179.1 376.7L180.5 377.8L182.4 384L185.7 389.4L190.1 387.5L196.1 385.8L197 384.1L195.9 383.1L193.4 382.7L191.9 381.7L192.1 375.3L191.5 372.9L188.2 369.4L187.3 367.2L187.2 364.9L186.3 362.8L184.5 360.7L182.4 359.2L180.2 358.5L178.4 358.8L176.9 360L176.2 362.2Z" fill="#7248f6" fill-opacity="1.0"/>
<path d="M176.8 367.9L176.4 368.1L176.7 375.8L179.1 376.7L180.5 377.8L182.7 384.1L183.5 383L183.8 378.9L182.5 374.8L178.5 369.2L176.8 367.9Z" fill="#966eee" fill-opacity="0.7"/>
<path d="M174 376.3L173.4 379.7L174.6 382.7L176.9 383.5L178.3 383L179.7 381.4L180.2 378.9L179.6 376.9L178 375.7L176.1 375.5L174 376.3Z" fill="#b79ee2" fill-opacity="0.9"/>
<path d="M187.6 389.8L186.1 389.2L185.5 391.8L183.6 396L187.9 398.4L189 396.9L189.4 395L187.6 389.8Z" fill="#b79ee2" fill-opacity="0.9"/>
<path d="M178.5 402.7L177.8 405.1L178.3 407.9L180.8 408.2L188.5 410.4L188.8 409.4L186.3 408.4L184.9 407L184.5 404.7L181.4 404.1L179.9 402.9L178.5 402.7Z" fill="#b79ee2" fill-opacity="0.9"/>
<path transform="scale(.5)" stroke="#d3d3d3" stroke-width="2" d="M349 754h2m2 0h2m1 1h2m2 1h2m-15 4h2m7 3h2m-3 2h2m17 19h2m0 4h2m-5 3h2m-2 4h2m0 0h2m-18 12h2m-1 4h2m1 1h2m1 0h2m-1 0h2m-6 2h2"/>
<path transform="scale(.5)" stroke="#ccc4d8" stroke-width="2" d="M354 749h2m8 10h2m-11 3h2m-3 2h2m15 21h2"/>
<path transform="scale(.5)" stroke="#c4b4dc" stroke-width="2" d="M359 748h2m-2 5h2m0 2h2m-7 7h2m11 29h2m3 4h2"/>
<path transform="scale(.5)" stroke="#bba5e0" stroke-width="2" d="M358 745h2m-3 1h2m-5 1h2m-1 0h2m2 0h2m-44 1h2m43 1h2m0 1h2m-15 2h2m2 1h2m5 1h2m-15 1h2m4 0h2m4 0h2m12 2h2m-21 3h2m16 21h2m0 6h2m-10 4h2m2 2h2m-16 22h2m8 1h2m6 4h2"/>
<path transform="scale(.5)" stroke="#b296e4" stroke-width="2" d="M368 724h2m-12 1h2m16 15h2m-2 3h2m-64 2h2m-1 0h2m59 2h2m-13 2h2m-14 3h2m-7 2h2m24 1h2m-25 1h2m9 0h2m-17 1h2m9 0h2m-11 2h2m30 7h2m-12 11h2m3 12h2m-6 1h2m-4 2h2m-16 16h2m1 0h2m-4 2h2m1 1h2m6 4h2"/>
<path transform="scale(.5)" stroke="#a886e8" stroke-width="2" d="M353 723h2m2 1h2m2 1h2m-3 5h2m-9 4h2m2 1h2m13 2h2m-10 3h2m0 3h2m-15 1h2m22 1h2m-14 1h2m8 0h2m3 0h2m-11 1h2m2 1h2m-23 1h2m-1 0h2m1 2h2m0 1h2m-3 4h2m2 0h2m11 1h2m-13 3h2m3 0h2m-24 3h2m32 1h2m-10 3h2m7 4h2m1 1h2m-12 2h2m-6 1h2m-15 33h2m6 7h2"/>
<path transform="scale(.5)" stroke="#9d77ec" stroke-width="2" d="M362 737h2m-10 3h2m19 0h2m-20 2h2m16 0h2m-23 1h2m-1 5h2m25 3h2m-26 2h2m3 1h2m-1 1h2m14 5h2m-10 1h2m-11 2h2m16 3h2"/>
<path transform="scale(.5)" stroke="#9068ef" stroke-width="2" d="M359 725h2m7 2h2m-15 11h2m-1 2h2m2 7h2m-9 1h2m0 0h2m-3 2h2m6 1h2m0 1h2m-7 2h2m3 1h2m-3 1h2m-1 6h2m-2 1h2m23 6h2"/>
<path transform="scale(.5)" stroke="#8258f3" stroke-width="2" d="M356 719h2m6 5h2m-14 3h2m10 0h2m-6 2h2m4 1h2m1 1h2m-16 6h2m-3 3h2m2 0h2m12 2h2m-9 4h2m3 0h2m5 0h2m-3 2h2m-15 8h2m15 0h2m-6 1h2m3 1h2m-16 1h2m-4 2h2m14 3h2m-15 1h2m-1 0h2m5 1h2m-13 1h2m2 0h2m3 1h2m2 1h2m2 0h2m4 1h2m-13 2h2m-5 2h2m5 0h2"/>
<path transform="scale(.5)" stroke="#7248f6" stroke-width="2" d="M362 719h2m-10 2h2m8 0h2m-2 1h2m-5 2h2m1 3h2m5 1h2m-18 1h2m6 0h2m-1 0h2m-11 1h2m4 1h2m5 0h2m-12 1h2m9 3h2m-5 2h2m2 0h2m0 0h2m-17 2h2m14 0h2m-3 1h2m-7 1h2m-9 2h2m9 0h2m-7 1h2m13 2h2m-11 1h2m-7 2h2m3 0h2m1 1h2m-11 2h2m15 0h2m-5 1h2m-7 1h2m-11 2h2m4 1h2m-8 3h2m7 0h2m-9 1h2m9 0h2m-12 2h2m-4 1h2m2 1h2m12 2h2m1 1h2m-3 1h2m-6 1h2m-1 0h2m-6 1h2m-3 1h2m5 0h2m-1 0h2m-19 2h2"/>
<path transform="scale(.5)" stroke="#5e36f9" stroke-width="2" d="M357 720h2m-4 3h2m3 6h2m-9 2h2m0 0h2m1 0h2m3 0h2m6 0h2m-18 1h2m11 5h2m2 3h2m0 1h2m1 1h2m-15 1h2m12 1h2m-1 0h2m-10 1h2m-11 1h2m7 4h2m0 1h2m-5 1h2m1 1h2m4 2h2m-7 4h2m-9 2h2m12 0h2m-11 2h2m-1 0h2m-8 6h2m14 2h2m0 0h2m-8 1h2m-6 4h2"/>
</g>
<line x1="153.7" y1="355.8" x2="153.7" y2="415.7" stroke="#a8a8a8" stroke-width="0.9"/>
<line x1="153.3" y1="415.2" x2="201.3" y2="415.2" stroke="#a8a8a8" stroke-width="0.9"/>
<line x1="151.7" y1="365.4" x2="153.7" y2="365.4" stroke="#a8a8a8" stroke-width="0.7"/>
<text x="151.1" y="367.8" font-size="6.5" fill="#4d4d4d" text-anchor="end" stroke="#4d4d4d" stroke-width="0.16">5</text>
<line x1="151.7" y1="377.2" x2="153.7" y2="377.2" stroke="#a8a8a8" stroke-width="0.7"/>
<text x="151.1" y="379.5" font-size="6.5" fill="#4d4d4d" text-anchor="end" stroke="#4d4d4d" stroke-width="0.16">0</text>
<line x1="151.7" y1="388.9" x2="153.7" y2="388.9" stroke="#a8a8a8" stroke-width="0.7"/>
<text x="151.1" y="391.2" font-size="6.5" fill="#4d4d4d" text-anchor="end" stroke="#4d4d4d" stroke-width="0.16">-5</text>
<line x1="151.7" y1="400.7" x2="153.7" y2="400.7" stroke="#a8a8a8" stroke-width="0.7"/>
<text x="151.1" y="403" font-size="6.5" fill="#4d4d4d" text-anchor="end" stroke="#4d4d4d" stroke-width="0.16">-10</text>
<line x1="151.7" y1="412.4" x2="153.7" y2="412.4" stroke="#a8a8a8" stroke-width="0.7"/>
<text x="151.1" y="414.8" font-size="6.5" fill="#4d4d4d" text-anchor="end" stroke="#4d4d4d" stroke-width="0.16">-15</text>
<line x1="153.8" y1="415.2" x2="153.8" y2="417.2" stroke="#a8a8a8" stroke-width="0.7"/>
<text x="153.8" y="424.5" font-size="6.5" fill="#4d4d4d" text-anchor="middle" stroke="#4d4d4d" stroke-width="0.16">-15</text>
<line x1="163.5" y1="415.2" x2="163.5" y2="417.2" stroke="#a8a8a8" stroke-width="0.7"/>
<text x="163.5" y="424.5" font-size="6.5" fill="#4d4d4d" text-anchor="middle" stroke="#4d4d4d" stroke-width="0.16">-10</text>
<line x1="173.2" y1="415.2" x2="173.2" y2="417.2" stroke="#a8a8a8" stroke-width="0.7"/>
<text x="173.2" y="424.5" font-size="6.5" fill="#4d4d4d" text-anchor="middle" stroke="#4d4d4d" stroke-width="0.16">-5</text>
<line x1="183" y1="415.2" x2="183" y2="417.2" stroke="#a8a8a8" stroke-width="0.7"/>
<text x="183" y="424.5" font-size="6.5" fill="#4d4d4d" text-anchor="middle" stroke="#4d4d4d" stroke-width="0.16">0</text>
<line x1="192.8" y1="415.2" x2="192.8" y2="417.2" stroke="#a8a8a8" stroke-width="0.7"/>
<text x="192.8" y="424.5" font-size="6.5" fill="#4d4d4d" text-anchor="middle" stroke="#4d4d4d" stroke-width="0.16">5</text>
<text x="177.2" y="433.5" font-size="7.5" fill="#000" text-anchor="middle" stroke="#000" stroke-width="0.16">UMAP_1</text>
<text x="138.2" y="385.5" font-size="7.5" fill="#000" text-anchor="middle" stroke="#000" stroke-width="0.16" transform="rotate(-90 138.2 385.5)">UMAP_2</text>
<g>
<path d="M267 362.2L267.5 375.8L269.9 376.7L271.3 377.8L273.2 384L276.5 389.4L280.9 387.5L286.9 385.8L287.8 384.1L286.7 383.1L284.2 382.7L282.7 381.7L282.9 375.3L282.3 372.9L279 369.4L278.1 367.2L278 364.9L277.1 362.8L275.3 360.7L273.2 359.2L271 358.5L269.2 358.8L267.7 360L267 362.2Z" fill="#7248f6" fill-opacity="1.0"/>
<path d="M267.6 367.9L267.2 368.1L267.5 375.8L269.9 376.7L271.3 377.8L273.5 384.1L274.3 383L274.6 378.9L273.3 374.8L269.3 369.2L267.6 367.9Z" fill="#966eee" fill-opacity="0.7"/>
<path d="M264.8 376.3L264.2 379.7L265.4 382.7L267.7 383.5L269.1 383L270.5 381.4L271 378.9L270.4 376.9L268.8 375.7L266.9 375.5L264.8 376.3Z" fill="#b79ee2" fill-opacity="0.9"/>
<path d="M278.4 389.8L276.9 389.2L276.3 391.8L274.4 396L278.7 398.4L279.8 396.9L280.2 395L278.4 389.8Z" fill="#b79ee2" fill-opacity="0.9"/>
<path d="M269.3 402.7L268.6 405.1L269.1 407.9L271.6 408.2L279.3 410.4L279.6 409.4L277.1 408.4L275.7 407L275.3 404.7L272.2 404.1L270.7 402.9L269.3 402.7Z" fill="#b79ee2" fill-opacity="0.9"/>
<path transform="scale(.5)" stroke="#d3d3d3" stroke-width="2" d="M497 745h2m37 7h2m-6 4h2m-4 2h2m2 0h2m-6 2h2m12 1h2m7 28h2m-2 2h2m0 1h2m-6 1h2m-14 15h2m4 4h2"/>
<path transform="scale(.5)" stroke="#ccc4d8" stroke-width="2" d="M536 741h2m6 8h2"/>
<path transform="scale(.5)" stroke="#c4b4dc" stroke-width="2" d="M535 739h2m1 3h2m-1 0h2m1 8h2m10 37h2m-10 28h2m0 1h2"/>
<path transform="scale(.5)" stroke="#bba5e0" stroke-width="2" d="M534 736h2m-1 6h2m6 3h2m10 1h2m-59 1h2m35 5h2m1 0h2m5 1h2m-8 2h2m0 1h2m-4 3h2m-8 3h2m1 2h2m15 4h2m-1 16h2m1 1h2m-4 3h2m-2 5h2m-10 19h2m-2 2h2m-1 0h2m-8 2h2m1 0h2m6 3h2"/>
<path transform="scale(.5)" stroke="#b296e4" stroke-width="2" d="M548 725h2m-3 2h2m-1 0h2m-8 1h2m4 1h2m-9 6h2m-5 1h2m-44 9h2m38 8h2m-2 1h2m-7 4h2m-1 1h2m-5 3h2m-1 0h2m1 1h2m0 1h2m27 1h2m-6 1h2m-5 8h2m-7 2h2m-1 9h2m-1 4h2m-18 22h2m2 0h2m-5 1h2m-4 2h2m18 6h2"/>
<path transform="scale(.5)" stroke="#a886e8" stroke-width="2" d="M541 721h2m-7 2h2m6 1h2m-10 3h2m8 3h2m-7 2h2m7 0h2m-16 4h2m8 2h2m7 7h2m6 3h2m-18 1h2m10 0h2m-6 1h2m-17 2h2m8 2h2m-18 1h2m2 7h2m7 2h2m22 4h2m-1 1h2m-25 3h2m4 1h2m-3 6h2m1 5h2m-4 5h2m-15 19h2m3 9h2"/>
<path transform="scale(.5)" stroke="#9d77ec" stroke-width="2" d="M537 730h2m-4 11h2m-3 2h2m6 4h2m-4 1h2m-1 0h2m1 0h2m-9 3h2m2 1h2m2 1h2m3 3h2m-7 7h2m3 2h2m1 23h2"/>
<path transform="scale(.5)" stroke="#9068ef" stroke-width="2" d="M535 727h2m8 10h2m-11 5h2m6 1h2m-8 3h2m-2 1h2m1 1h2m-1 0h2m19 0h2m-28 1h2m3 0h2m-4 2h2m-3 2h2m5 0h2m-7 1h2m19 2h2m-18 1h2m-3 1h2m-2 1h2m-1 2h2"/>
<path transform="scale(.5)" stroke="#8258f3" stroke-width="2" d="M543 719h2m-8 2h2m8 3h2m-14 3h2m16 0h2m-5 2h2m-15 4h2m9 3h2m-14 1h2m14 3h2m-7 1h2m0 0h2m-15 1h2m5 1h2m-1 2h2m-10 1h2m2 3h2m-1 0h2m16 1h2m-11 1h2m6 2h2m-19 1h2m0 0h2m0 1h2m3 0h2m-4 2h2m1 2h2m-3 2h2m6 0h2m1 2h2m-12 2h2m-4 1h2m11 4h2m-5 4h2m0 0h2"/>
<path transform="scale(.5)" stroke="#7248f6" stroke-width="2" d="M543 718h2m1 3h2m-3 3h2m-11 1h2m11 0h2m-7 3h2m2 0h2m-16 1h2m1 0h2m-1 1h2m1 0h2m-1 0h2m2 4h2m-11 1h2m4 0h2m7 0h2m-15 2h2m11 1h2m-11 1h2m-2 4h2m10 0h2m1 2h2m-13 1h2m-4 1h2m16 0h2m-16 1h2m4 0h2m-9 1h2m-3 1h2m1 0h2m7 0h2m-20 1h2m3 0h2m4 0h2m9 1h2m-17 1h2m11 1h2m0 1h2m-4 2h2m-8 1h2m2 0h2m0 1h2m-9 1h2m0 2h2m2 1h2m-1 0h2m-13 3h2m5 0h2m-4 1h2m16 1h2m-6 1h2m-21 1h2m4 0h2m4 0h2m1 0h2m-5 1h2m-6 1h2m-11 1h2m3 1h2"/>
<path transform="scale(.5)" stroke="#5e36f9" stroke-width="2" d="M543 722h2m-3 1h2m-5 2h2m4 0h2m3 1h2m-6 1h2m-10 1h2m2 0h2m-1 0h2m-2 2h2m-6 3h2m7 1h2m-12 1h2m15 0h2m-3 2h2m-2 2h2m-13 2h2m5 1h2m9 2h2m-1 2h2m-4 2h2m-10 1h2m9 0h2m-8 1h2m-6 1h2m6 0h2m-1 0h2m-9 2h2m-6 1h2m10 0h2m-16 7h2m0 1h2m4 1h2m-13 4h2m17 0h2m1 1h2m-1 1h2m-18 1h2m2 2h2m-8 4h2"/>
</g>
<line x1="244.5" y1="355.8" x2="244.5" y2="415.7" stroke="#a8a8a8" stroke-width="0.9"/>
<line x1="244.1" y1="415.2" x2="292.1" y2="415.2" stroke="#a8a8a8" stroke-width="0.9"/>
<line x1="242.5" y1="365.4" x2="244.5" y2="365.4" stroke="#a8a8a8" stroke-width="0.7"/>
<text x="241.9" y="367.8" font-size="6.5" fill="#4d4d4d" text-anchor="end" stroke="#4d4d4d" stroke-width="0.16">5</text>
<line x1="242.5" y1="377.2" x2="244.5" y2="377.2" stroke="#a8a8a8" stroke-width="0.7"/>
<text x="241.9" y="379.5" font-size="6.5" fill="#4d4d4d" text-anchor="end" stroke="#4d4d4d" stroke-width="0.16">0</text>
<line x1="242.5" y1="388.9" x2="244.5" y2="388.9" stroke="#a8a8a8" stroke-width="0.7"/>
<text x="241.9" y="391.2" font-size="6.5" fill="#4d4d4d" text-anchor="end" stroke="#4d4d4d" stroke-width="0.16">-5</text>
<line x1="242.5" y1="400.7" x2="244.5" y2="400.7" stroke="#a8a8a8" stroke-width="0.7"/>
<text x="241.9" y="403" font-size="6.5" fill="#4d4d4d" text-anchor="end" stroke="#4d4d4d" stroke-width="0.16">-10</text>
<line x1="242.5" y1="412.4" x2="244.5" y2="412.4" stroke="#a8a8a8" stroke-width="0.7"/>
<text x="241.9" y="414.8" font-size="6.5" fill="#4d4d4d" text-anchor="end" stroke="#4d4d4d" stroke-width="0.16">-15</text>
<line x1="244.6" y1="415.2" x2="244.6" y2="417.2" stroke="#a8a8a8" stroke-width="0.7"/>
<text x="244.6" y="424.5" font-size="6.5" fill="#4d4d4d" text-anchor="middle" stroke="#4d4d4d" stroke-width="0.16">-15</text>
<line x1="254.3" y1="415.2" x2="254.3" y2="417.2" stroke="#a8a8a8" stroke-width="0.7"/>
<text x="254.3" y="424.5" font-size="6.5" fill="#4d4d4d" text-anchor="middle" stroke="#4d4d4d" stroke-width="0.16">-10</text>
<line x1="264.1" y1="415.2" x2="264.1" y2="417.2" stroke="#a8a8a8" stroke-width="0.7"/>
<text x="264.1" y="424.5" font-size="6.5" fill="#4d4d4d" text-anchor="middle" stroke="#4d4d4d" stroke-width="0.16">-5</text>
<line x1="273.8" y1="415.2" x2="273.8" y2="417.2" stroke="#a8a8a8" stroke-width="0.7"/>
<text x="273.8" y="424.5" font-size="6.5" fill="#4d4d4d" text-anchor="middle" stroke="#4d4d4d" stroke-width="0.16">0</text>
<line x1="283.6" y1="415.2" x2="283.6" y2="417.2" stroke="#a8a8a8" stroke-width="0.7"/>
<text x="283.6" y="424.5" font-size="6.5" fill="#4d4d4d" text-anchor="middle" stroke="#4d4d4d" stroke-width="0.16">5</text>
<text x="268" y="433.5" font-size="7.5" fill="#000" text-anchor="middle" stroke="#000" stroke-width="0.16">UMAP_1</text>
<text x="229" y="385.5" font-size="7.5" fill="#000" text-anchor="middle" stroke="#000" stroke-width="0.16" transform="rotate(-90 229 385.5)">UMAP_2</text>
<text x="7" y="475.7" font-size="7.8" fill="#000" text-anchor="start" stroke="#000" stroke-width="0.16">Day 14</text>
<g>
<path d="M82 444.3L82.5 457.9L84.9 458.8L86.3 459.9L88.2 466.1L91.5 471.5L95.9 469.6L101.9 467.9L102.8 466.2L101.7 465.2L99.2 464.8L97.7 463.8L97.9 457.4L97.3 455L94 451.5L93.1 449.3L93 447L92.1 444.9L90.3 442.8L88.2 441.3L86 440.6L84.2 440.9L82.7 442.1L82 444.3Z" fill="#7248f6" fill-opacity="1.0"/>
<path d="M82.6 450L82.2 450.2L82.5 457.9L84.9 458.8L86.3 459.9L88.5 466.2L89.3 465.1L89.6 461L88.3 456.9L84.3 451.3L82.6 450Z" fill="#966eee" fill-opacity="0.7"/>
<path d="M79.8 458.4L79.2 461.8L80.4 464.8L82.7 465.6L84.1 465.1L85.5 463.5L86 461L85.4 459L83.8 457.8L81.9 457.6L79.8 458.4Z" fill="#b79ee2" fill-opacity="0.9"/>
<path d="M93.4 471.9L91.9 471.3L91.3 473.9L89.4 478.1L93.7 480.5L94.8 479L95.2 477.1L93.4 471.9Z" fill="#b79ee2" fill-opacity="0.9"/>
<path d="M84.3 484.8L83.6 487.2L84.1 490L86.6 490.3L94.3 492.5L94.6 491.5L92.1 490.5L90.7 489.1L90.3 486.8L87.2 486.2L85.7 485L84.3 484.8Z" fill="#b79ee2" fill-opacity="0.9"/>
<path transform="scale(.5)" stroke="#d3d3d3" stroke-width="2" d="M129 913h2m36 4h2m-2 8h2m17 22h2m-7 8h2m-13 21h2m2 3h2m6 3h2m0 1h2"/>
<path transform="scale(.5)" stroke="#ccc4d8" stroke-width="2" d="M165 911h2m1 13h2m3 4h2"/>
<path transform="scale(.5)" stroke="#c4b4dc" stroke-width="2" d="M165 906h2m0 1h2m-1 0h2m0 2h2m0 6h2m0 7h2m-16 1h2m3 3h2m13 55h2"/>
<path transform="scale(.5)" stroke="#bba5e0" stroke-width="2" d="M168 906h2m-44 4h2m40 1h2m1 1h2m-44 1h2m36 0h2m0 0h2m22 0h2m-33 4h2m12 0h2m-9 3h2m-7 2h2m11 0h2m-1 0h2m-20 3h2m3 2h2m1 0h2m26 7h2m1 1h2m-17 10h2m-9 30h2m0 4h2m-3 1h2m0 2h2m3 1h2"/>
<path transform="scale(.5)" stroke="#b296e4" stroke-width="2" d="M167 883h2m2 4h2m8 6h2m-3 9h2m-7 2h2m16 10h2m-19 1h2m-13 2h2m9 1h2m-15 3h2m3 0h2m-1 1h2m-10 4h2m8 0h2m-6 2h2m34 7h2m-20 9h2m-4 1h2m-1 2h2m0 5h2m-6 1h2m4 1h2m-8 1h2m-3 1h2m0 2h2m2 1h2m-19 12h2m5 7h2m-10 1h2m4 0h2m4 2h2"/>
<path transform="scale(.5)" stroke="#a886e8" stroke-width="2" d="M165 887h2m11 1h2m-3 6h2m-9 5h2m5 1h2m-9 4h2m7 2h2m2 1h2m-15 1h2m21 4h2m-18 1h2m-3 5h2m13 1h2m-8 3h2m2 1h2m-1 2h2m-31 4h2m38 3h2m-22 5h2m6 2h2m-8 2h2m-1 7h2m-5 3h2m-14 24h2m12 7h2"/>
<path transform="scale(.5)" stroke="#9d77ec" stroke-width="2" d="M167 896h2m18 9h2m-21 3h2m-5 1h2m2 2h2m9 1h2m-12 1h2m-6 3h2m6 1h2m3 2h2m4 0h2m-14 1h2m-15 3h2m27 6h2m4 1h2m-10 4h2m-3 5h2"/>
<path transform="scale(.5)" stroke="#9068ef" stroke-width="2" d="M180 890h2m-15 20h2m3 0h2m-8 2h2m1 0h2m-1 3h2m-3 1h2m2 0h2m1 0h2m-4 2h2m0 1h2m-1 1h2m-2 1h2m9 1h2m-13 2h2m-4 3h2m21 9h2"/>
<path transform="scale(.5)" stroke="#8258f3" stroke-width="2" d="M170 886h2m-7 2h2m11 1h2m-13 1h2m11 1h2m-3 5h2m-16 6h2m5 2h2m9 2h2m-17 1h2m7 1h2m-3 1h2m-13 1h2m12 0h2m5 0h2m1 0h2m-22 1h2m12 1h2m5 0h2m-21 1h2m1 0h2m12 0h2m-23 1h2m18 1h2m1 1h2m-12 1h2m-8 1h2m18 1h2m-4 1h2m-8 1h2m-4 4h2m-10 1h2m8 0h2m4 1h2m-17 1h2m-1 0h2m-1 0h2m0 2h2m0 1h2m-5 1h2m10 1h2m1 1h2m-10 6h2"/>
<path transform="scale(.5)" stroke="#7248f6" stroke-width="2" d="M170 882h2m-1 4h2m1 0h2m2 3h2m1 1h2m-1 1h2m-14 1h2m3 2h2m1 0h2m0 1h2m2 0h2m-16 2h2m2 0h2m-8 1h2m1 0h2m5 0h2m2 0h2m-4 1h2m2 2h2m-1 0h2m-6 1h2m-8 2h2m2 0h2m7 2h2m-1 0h2m-7 1h2m-6 1h2m0 1h2m-8 1h2m-2 2h2m7 0h2m-2 1h2m0 1h2m-9 6h2m-1 0h2m9 0h2m-4 2h2m-5 1h2m-3 4h2m-7 2h2m16 2h2m-12 1h2m6 1h2m-15 2h2m2 1h2m-1 0h2m-11 1h2m8 0h2m-10 1h2m-1 2h2m-1 0h2m-1 0h2m-1 0h2"/>
<path transform="scale(.5)" stroke="#5e36f9" stroke-width="2" d="M166 886h2m3 7h2m-9 1h2m6 0h2m9 0h2m-8 1h2m-1 0h2m3 0h2m-21 2h2m2 0h2m5 1h2m6 0h2m-1 3h2m-1 6h2m-12 2h2m10 0h2m-13 2h2m9 0h2m4 3h2m-16 3h2m9 1h2m1 6h2m-2 6h2m-4 1h2m-17 1h2m15 0h2m-3 2h2m-16 1h2m5 0h2m11 1h2m-15 1h2m4 0h2m-12 2h2m1 2h2"/>
</g>
<line x1="59.5" y1="437.6" x2="59.5" y2="497.3" stroke="#a8a8a8" stroke-width="0.9"/>
<line x1="59.1" y1="496.8" x2="107.1" y2="496.8" stroke="#a8a8a8" stroke-width="0.9"/>
<line x1="57.5" y1="447.6" x2="59.5" y2="447.6" stroke="#a8a8a8" stroke-width="0.7"/>
<text x="56.9" y="449.9" font-size="6.5" fill="#4d4d4d" text-anchor="end" stroke="#4d4d4d" stroke-width="0.16">5</text>
<line x1="57.5" y1="459.3" x2="59.5" y2="459.3" stroke="#a8a8a8" stroke-width="0.7"/>
<text x="56.9" y="461.6" font-size="6.5" fill="#4d4d4d" text-anchor="end" stroke="#4d4d4d" stroke-width="0.16">0</text>
<line x1="57.5" y1="471.1" x2="59.5" y2="471.1" stroke="#a8a8a8" stroke-width="0.7"/>
<text x="56.9" y="473.4" font-size="6.5" fill="#4d4d4d" text-anchor="end" stroke="#4d4d4d" stroke-width="0.16">-5</text>
<line x1="57.5" y1="482.8" x2="59.5" y2="482.8" stroke="#a8a8a8" stroke-width="0.7"/>
<text x="56.9" y="485.1" font-size="6.5" fill="#4d4d4d" text-anchor="end" stroke="#4d4d4d" stroke-width="0.16">-10</text>
<line x1="57.5" y1="494.6" x2="59.5" y2="494.6" stroke="#a8a8a8" stroke-width="0.7"/>
<text x="56.9" y="496.9" font-size="6.5" fill="#4d4d4d" text-anchor="end" stroke="#4d4d4d" stroke-width="0.16">-15</text>
<line x1="59.5" y1="496.8" x2="59.5" y2="498.8" stroke="#a8a8a8" stroke-width="0.7"/>
<text x="59.5" y="506.1" font-size="6.5" fill="#4d4d4d" text-anchor="middle" stroke="#4d4d4d" stroke-width="0.16">-15</text>
<line x1="69.3" y1="496.8" x2="69.3" y2="498.8" stroke="#a8a8a8" stroke-width="0.7"/>
<text x="69.3" y="506.1" font-size="6.5" fill="#4d4d4d" text-anchor="middle" stroke="#4d4d4d" stroke-width="0.16">-10</text>
<line x1="79" y1="496.8" x2="79" y2="498.8" stroke="#a8a8a8" stroke-width="0.7"/>
<text x="79" y="506.1" font-size="6.5" fill="#4d4d4d" text-anchor="middle" stroke="#4d4d4d" stroke-width="0.16">-5</text>
<line x1="88.8" y1="496.8" x2="88.8" y2="498.8" stroke="#a8a8a8" stroke-width="0.7"/>
<text x="88.8" y="506.1" font-size="6.5" fill="#4d4d4d" text-anchor="middle" stroke="#4d4d4d" stroke-width="0.16">0</text>
<line x1="98.5" y1="496.8" x2="98.5" y2="498.8" stroke="#a8a8a8" stroke-width="0.7"/>
<text x="98.5" y="506.1" font-size="6.5" fill="#4d4d4d" text-anchor="middle" stroke="#4d4d4d" stroke-width="0.16">5</text>
<text x="83" y="515.1" font-size="7.5" fill="#000" text-anchor="middle" stroke="#000" stroke-width="0.16">UMAP_1</text>
<text x="44" y="467.2" font-size="7.5" fill="#000" text-anchor="middle" stroke="#000" stroke-width="0.16" transform="rotate(-90 44 467.2)">UMAP_2</text>
<g>
<path d="M173.5 444.3L174 457.9L176.4 458.8L177.8 459.9L179.7 466.1L183 471.5L187.4 469.6L193.4 467.9L194.3 466.2L193.2 465.2L190.7 464.8L189.2 463.8L189.4 457.4L188.8 455L185.5 451.5L184.6 449.3L184.5 447L183.6 444.9L181.8 442.8L179.7 441.3L177.5 440.6L175.7 440.9L174.2 442.1L173.5 444.3Z" fill="#7248f6" fill-opacity="1.0"/>
<path d="M174.1 450L173.7 450.2L174 457.9L176.4 458.8L177.8 459.9L180 466.2L180.8 465.1L181.1 461L179.8 456.9L175.8 451.3L174.1 450Z" fill="#966eee" fill-opacity="0.7"/>
<path d="M171.3 458.4L170.7 461.8L171.9 464.8L174.2 465.6L175.6 465.1L177 463.5L177.5 461L176.9 459L175.3 457.8L173.4 457.6L171.3 458.4Z" fill="#b79ee2" fill-opacity="0.9"/>
<path d="M184.9 471.9L183.4 471.3L182.8 473.9L180.9 478.1L185.2 480.5L186.3 479L186.7 477.1L184.9 471.9Z" fill="#b79ee2" fill-opacity="0.9"/>
<path d="M175.8 484.8L175.1 487.2L175.6 490L178.1 490.3L185.8 492.5L186.1 491.5L183.6 490.5L182.2 489.1L181.8 486.8L178.7 486.2L177.2 485L175.8 484.8Z" fill="#b79ee2" fill-opacity="0.9"/>
<path transform="scale(.5)" stroke="#d3d3d3" stroke-width="2" d="M348 917h2m-4 3h2m6 0h2m-11 2h2m1 1h2m2 2h2m10 31h2m5 2h2m-16 17h2m3 1h2m-4 2h2m-8 1h2m3 1h2"/>
<path transform="scale(.5)" stroke="#ccc4d8" stroke-width="2" d="M349 913h2m-4 8h2"/>
<path transform="scale(.5)" stroke="#c4b4dc" stroke-width="2" d="M349 908h2m0 3h2m0 4h2m-4 9h2m4 0h2m-1 1h2m-1 0h2m10 32h2m-16 19h2m-1 5h2"/>
<path transform="scale(.5)" stroke="#bba5e0" stroke-width="2" d="M355 887h2m7 2h2m-17 15h2m-41 7h2m0 1h2m34 6h2m-1 4h2m1 0h2m-12 1h2m4 7h2m20 10h2m-5 5h2m-3 12h2m-15 16h2m-1 5h2m2 0h2m-5 1h2m5 2h2"/>
<path transform="scale(.5)" stroke="#b296e4" stroke-width="2" d="M352 883h2m5 16h2m-9 5h2m3 1h2m5 1h2m-55 5h2m54 1h2m-14 1h2m2 2h2m-19 3h2m-1 0h2m6 0h2m1 2h2m19 1h2m-33 2h2m-1 2h2m3 1h2m19 0h2m-12 1h2m2 0h2m7 2h2m-6 1h2m-3 1h2m13 1h2m-18 4h2m-3 10h2m-4 2h2m1 1h2m-3 3h2m-5 2h2m2 0h2m-1 0h2m-15 21h2m-3 4h2m0 0h2"/>
<path transform="scale(.5)" stroke="#a886e8" stroke-width="2" d="M356 895h2m-9 3h2m6 0h2m-1 5h2m3 0h2m-11 3h2m9 6h2m-17 2h2m0 0h2m-3 1h2m-3 1h2m19 2h2m3 1h2m-27 1h2m-10 1h2m14 0h2m7 1h2m-7 6h2m6 1h2m-1 2h2m-3 1h2m7 2h2m-6 4h2m-12 12h2m-2 6h2m-11 19h2m0 3h2"/>
<path transform="scale(.5)" stroke="#9d77ec" stroke-width="2" d="M352 888h2m6 0h2m1 1h2m1 8h2m-18 2h2m-3 5h2m2 2h2m15 0h2m-23 1h2m2 2h2m-4 1h2m-4 2h2m4 0h2m-8 2h2m7 2h2m-1 2h2m-5 2h2m19 4h2m-21 4h2m7 8h2m-5 18h2"/>
<path transform="scale(.5)" stroke="#9068ef" stroke-width="2" d="M357 891h2m-7 4h2m-4 9h2m-4 1h2m17 0h2m-21 3h2m4 0h2m-5 2h2m-1 2h2m-6 1h2m7 0h2m14 2h2m-22 1h2m0 0h2m-1 2h2m1 4h2m-3 1h2m-2 4h2m5 3h2"/>
<path transform="scale(.5)" stroke="#8258f3" stroke-width="2" d="M355 885h2m-6 2h2m5 3h2m-13 2h2m11 0h2m1 3h2m-12 1h2m2 1h2m-10 2h2m6 0h2m-10 2h2m7 2h2m4 1h2m3 4h2m0 1h2m-9 2h2m0 3h2m-15 2h2m8 0h2m-5 5h2m-5 2h2m0 5h2m1 1h2m21 3h2m-24 1h2m13 0h2m7 0h2m-23 2h2m-6 1h2"/>
<path transform="scale(.5)" stroke="#7248f6" stroke-width="2" d="M358 884h2m-6 4h2m6 2h2m-1 0h2m-7 1h2m0 0h2m3 1h2m-18 1h2m10 4h2m0 0h2m-14 2h2m1 1h2m4 0h2m-4 1h2m-5 1h2m0 2h2m2 1h2m6 0h2m0 1h2m-17 3h2m-1 0h2m7 0h2m-8 1h2m9 1h2m2 0h2m-9 1h2m2 1h2m-2 2h2m-19 1h2m11 0h2m-5 1h2m0 1h2m8 1h2m-13 1h2m-4 1h2m3 0h2m2 1h2m-1 1h2m-1 0h2m-5 1h2m3 1h2m-14 1h2m-1 0h2m-7 1h2m2 1h2m3 3h2m-11 1h2m15 0h2m-14 1h2m-2 1h2m8 0h2m-13 1h2m-1 1h2m0 1h2m6 0h2m-9 1h2m-2 2h2"/>
<path transform="scale(.5)" stroke="#5e36f9" stroke-width="2" d="M353 882h2m-2 1h2m7 4h2m-7 1h2m-2 2h2m4 0h2m-16 3h2m10 1h2m-2 1h2m0 0h2m-17 3h2m17 2h2m-18 3h2m4 0h2m5 1h2m-2 7h2m-2 1h2m-1 0h2m1 1h2m4 1h2m-5 5h2m-4 4h2m-10 3h2m14 0h2m-19 1h2m12 2h2m4 1h2m-21 1h2m3 0h2m-1 0h2m8 0h2m-9 1h2m-1 0h2m13 0h2m-17 1h2m11 2h2m-17 2h2"/>
</g>
<line x1="151" y1="437.6" x2="151" y2="497.3" stroke="#a8a8a8" stroke-width="0.9"/>
<line x1="150.6" y1="496.8" x2="198.6" y2="496.8" stroke="#a8a8a8" stroke-width="0.9"/>
<line x1="149" y1="447.6" x2="151" y2="447.6" stroke="#a8a8a8" stroke-width="0.7"/>
<text x="148.4" y="449.9" font-size="6.5" fill="#4d4d4d" text-anchor="end" stroke="#4d4d4d" stroke-width="0.16">5</text>
<line x1="149" y1="459.3" x2="151" y2="459.3" stroke="#a8a8a8" stroke-width="0.7"/>
<text x="148.4" y="461.6" font-size="6.5" fill="#4d4d4d" text-anchor="end" stroke="#4d4d4d" stroke-width="0.16">0</text>
<line x1="149" y1="471.1" x2="151" y2="471.1" stroke="#a8a8a8" stroke-width="0.7"/>
<text x="148.4" y="473.4" font-size="6.5" fill="#4d4d4d" text-anchor="end" stroke="#4d4d4d" stroke-width="0.16">-5</text>
<line x1="149" y1="482.8" x2="151" y2="482.8" stroke="#a8a8a8" stroke-width="0.7"/>
<text x="148.4" y="485.1" font-size="6.5" fill="#4d4d4d" text-anchor="end" stroke="#4d4d4d" stroke-width="0.16">-10</text>
<line x1="149" y1="494.6" x2="151" y2="494.6" stroke="#a8a8a8" stroke-width="0.7"/>
<text x="148.4" y="496.9" font-size="6.5" fill="#4d4d4d" text-anchor="end" stroke="#4d4d4d" stroke-width="0.16">-15</text>
<line x1="151.1" y1="496.8" x2="151.1" y2="498.8" stroke="#a8a8a8" stroke-width="0.7"/>
<text x="151.1" y="506.1" font-size="6.5" fill="#4d4d4d" text-anchor="middle" stroke="#4d4d4d" stroke-width="0.16">-15</text>
<line x1="160.8" y1="496.8" x2="160.8" y2="498.8" stroke="#a8a8a8" stroke-width="0.7"/>
<text x="160.8" y="506.1" font-size="6.5" fill="#4d4d4d" text-anchor="middle" stroke="#4d4d4d" stroke-width="0.16">-10</text>
<line x1="170.6" y1="496.8" x2="170.6" y2="498.8" stroke="#a8a8a8" stroke-width="0.7"/>
<text x="170.6" y="506.1" font-size="6.5" fill="#4d4d4d" text-anchor="middle" stroke="#4d4d4d" stroke-width="0.16">-5</text>
<line x1="180.3" y1="496.8" x2="180.3" y2="498.8" stroke="#a8a8a8" stroke-width="0.7"/>
<text x="180.3" y="506.1" font-size="6.5" fill="#4d4d4d" text-anchor="middle" stroke="#4d4d4d" stroke-width="0.16">0</text>
<line x1="190.1" y1="496.8" x2="190.1" y2="498.8" stroke="#a8a8a8" stroke-width="0.7"/>
<text x="190.1" y="506.1" font-size="6.5" fill="#4d4d4d" text-anchor="middle" stroke="#4d4d4d" stroke-width="0.16">5</text>
<text x="174.5" y="515.1" font-size="7.5" fill="#000" text-anchor="middle" stroke="#000" stroke-width="0.16">UMAP_1</text>
<text x="135.5" y="467.2" font-size="7.5" fill="#000" text-anchor="middle" stroke="#000" stroke-width="0.16" transform="rotate(-90 135.5 467.2)">UMAP_2</text>
<g>
<path d="M265.4 444.3L265.9 457.9L268.3 458.8L269.7 459.9L271.6 466.1L274.9 471.5L279.3 469.6L285.3 467.9L286.2 466.2L285.1 465.2L282.6 464.8L281.1 463.8L281.3 457.4L280.7 455L277.4 451.5L276.5 449.3L276.4 447L275.5 444.9L273.7 442.8L271.6 441.3L269.4 440.6L267.6 440.9L266.1 442.1L265.4 444.3Z" fill="#7248f6" fill-opacity="1.0"/>
<path d="M266 450L265.6 450.2L265.9 457.9L268.3 458.8L269.7 459.9L271.9 466.2L272.7 465.1L273 461L271.7 456.9L267.7 451.3L266 450Z" fill="#966eee" fill-opacity="0.7"/>
<path d="M263.2 458.4L262.6 461.8L263.8 464.8L266.1 465.6L267.5 465.1L268.9 463.5L269.4 461L268.8 459L267.2 457.8L265.3 457.6L263.2 458.4Z" fill="#b79ee2" fill-opacity="0.9"/>
<path d="M276.8 471.9L275.3 471.3L274.7 473.9L272.8 478.1L277.1 480.5L278.2 479L278.6 477.1L276.8 471.9Z" fill="#b79ee2" fill-opacity="0.9"/>
<path d="M267.7 484.8L267 487.2L267.5 490L270 490.3L277.7 492.5L278 491.5L275.5 490.5L274.1 489.1L273.7 486.8L270.6 486.2L269.1 485L267.7 484.8Z" fill="#b79ee2" fill-opacity="0.9"/>
<path transform="scale(.5)" stroke="#d3d3d3" stroke-width="2" d="M493 909h2m1 3h2m28 6h2m8 1h2m-5 2h2m-10 1h2m6 1h2m-2 1h2m0 1h2m-1 2h2m-3 1h2m-4 2h2m16 23h2m-6 1h2m4 2h2m-19 16h2m0 0h2m5 2h2m-6 6h2"/>
<path transform="scale(.5)" stroke="#ccc4d8" stroke-width="2" d="M535 911h2m2 2h2"/>
<path transform="scale(.5)" stroke="#c4b4dc" stroke-width="2" d="M532 907h2m-39 4h2m28 9h2m16 5h2m-1 4h2"/>
<path transform="scale(.5)" stroke="#bba5e0" stroke-width="2" d="M545 897h2m0 9h2m-16 1h2m0 1h2m0 2h2m0 6h2m1 2h2m-17 2h2m7 1h2m-7 1h2m2 4h2m6 4h2m8 16h2m-4 1h2m-1 0h2m-1 0h2m-3 4h2m-1 0h2m-8 3h2m-11 20h2m-6 1h2m9 0h2m-6 4h2m2 0h2m0 1h2"/>
<path transform="scale(.5)" stroke="#b296e4" stroke-width="2" d="M538 886h2m-7 1h2m-2 6h2m4 6h2m-9 1h2m9 0h2m-4 2h2m5 7h2m-1 0h2m-1 0h2m-12 6h2m-10 1h2m1 3h2m24 0h2m-38 2h2m18 0h2m-13 1h2m-5 2h2m13 0h2m-15 4h2m-7 2h2m24 8h2m-1 1h2m-2 14h2m-6 4h2m-4 1h2m-15 13h2m-4 3h2m-1 5h2m2 0h2m-1 1h2m0 0h2"/>
<path transform="scale(.5)" stroke="#a886e8" stroke-width="2" d="M534 894h2m8 3h2m0 3h2m4 3h2m-13 1h2m8 5h2m5 2h2m-3 1h2m2 11h2m-14 2h2m13 5h2m-23 2h2m5 16h2m-2 9h2m-17 20h2"/>
<path transform="scale(.5)" stroke="#9d77ec" stroke-width="2" d="M540 886h2m-7 8h2m14 3h2m-22 10h2m22 0h2m-14 4h2m-12 1h2m3 1h2m12 0h2m-13 1h2m-5 1h2m5 0h2m-8 1h2m-1 2h2m0 1h2m9 0h2m-13 2h2m-4 1h2m-1 1h2m0 4h2m14 4h2m-5 2h2"/>
<path transform="scale(.5)" stroke="#9068ef" stroke-width="2" d="M541 901h2m11 3h2m-25 5h2m5 0h2m-6 1h2m1 0h2m-1 0h2m-2 1h2m-8 2h2m-1 0h2m-1 1h2m3 0h2m-6 1h2m0 1h2m-4 1h2m5 2h2m-5 1h2m17 2h2m-16 4h2m-3 3h2m-2 1h2"/>
<path transform="scale(.5)" stroke="#8258f3" stroke-width="2" d="M541 884h2m1 1h2m-7 3h2m2 3h2m-1 5h2m-1 4h2m-5 5h2m1 0h2m-14 1h2m1 0h2m5 0h2m-12 1h2m0 1h2m19 0h2m-22 2h2m5 0h2m12 0h2m-5 1h2m2 0h2m-5 1h2m-16 1h2m11 0h2m-13 1h2m-1 1h2m5 0h2m-16 1h2m1 0h2m-1 0h2m17 0h2m-12 1h2m-13 1h2m20 5h2m-1 6h2m-20 1h2m1 2h2m6 0h2m7 0h2m-16 2h2m-2 2h2"/>
<path transform="scale(.5)" stroke="#7248f6" stroke-width="2" d="M542 885h2m-1 1h2m-12 5h2m14 0h2m-3 1h2m0 0h2m-21 1h2m12 0h2m-11 1h2m3 0h2m1 2h2m3 0h2m-4 2h2m-16 3h2m6 0h2m-10 1h2m10 0h2m-2 2h2m-9 1h2m-1 1h2m10 0h2m-21 2h2m11 2h2m9 0h2m-9 2h2m6 2h2m-6 1h2m4 1h2m-17 3h2m5 0h2m-2 1h2m-6 1h2m4 1h2m-8 1h2m-3 2h2m1 1h2m0 0h2m-6 1h2m6 0h2m-6 1h2m-8 1h2m3 0h2m11 1h2m-1 1h2m-12 1h2m0 3h2m8 0h2m-11 1h2m5 0h2m1 0h2m-20 3h2m6 0h2m-8 2h2"/>
<path transform="scale(.5)" stroke="#5e36f9" stroke-width="2" d="M541 884h2m-7 1h2m-7 3h2m13 2h2m1 1h2m-16 4h2m5 2h2m-1 0h2m0 0h2m-7 3h2m8 0h2m-12 1h2m5 5h2m0 0h2m1 0h2m-12 1h2m-4 1h2m1 0h2m-1 3h2m10 0h2m0 3h2m-2 3h2m-10 5h2m6 1h2m-6 2h2m-2 4h2m3 0h2m-1 1h2m0 0h2m-12 1h2m5 2h2m-8 1h2m0 3h2m-2 2h2"/>
</g>
<line x1="242.9" y1="437.6" x2="242.9" y2="497.3" stroke="#a8a8a8" stroke-width="0.9"/>
<line x1="242.5" y1="496.8" x2="290.5" y2="496.8" stroke="#a8a8a8" stroke-width="0.9"/>
<line x1="240.9" y1="447.6" x2="242.9" y2="447.6" stroke="#a8a8a8" stroke-width="0.7"/>
<text x="240.3" y="449.9" font-size="6.5" fill="#4d4d4d" text-anchor="end" stroke="#4d4d4d" stroke-width="0.16">5</text>
<line x1="240.9" y1="459.3" x2="242.9" y2="459.3" stroke="#a8a8a8" stroke-width="0.7"/>
<text x="240.3" y="461.6" font-size="6.5" fill="#4d4d4d" text-anchor="end" stroke="#4d4d4d" stroke-width="0.16">0</text>
<line x1="240.9" y1="471.1" x2="242.9" y2="471.1" stroke="#a8a8a8" stroke-width="0.7"/>
<text x="240.3" y="473.4" font-size="6.5" fill="#4d4d4d" text-anchor="end" stroke="#4d4d4d" stroke-width="0.16">-5</text>
<line x1="240.9" y1="482.8" x2="242.9" y2="482.8" stroke="#a8a8a8" stroke-width="0.7"/>
<text x="240.3" y="485.1" font-size="6.5" fill="#4d4d4d" text-anchor="end" stroke="#4d4d4d" stroke-width="0.16">-10</text>
<line x1="240.9" y1="494.6" x2="242.9" y2="494.6" stroke="#a8a8a8" stroke-width="0.7"/>
<text x="240.3" y="496.9" font-size="6.5" fill="#4d4d4d" text-anchor="end" stroke="#4d4d4d" stroke-width="0.16">-15</text>
<line x1="242.9" y1="496.8" x2="242.9" y2="498.8" stroke="#a8a8a8" stroke-width="0.7"/>
<text x="242.9" y="506.1" font-size="6.5" fill="#4d4d4d" text-anchor="middle" stroke="#4d4d4d" stroke-width="0.16">-15</text>
<line x1="252.7" y1="496.8" x2="252.7" y2="498.8" stroke="#a8a8a8" stroke-width="0.7"/>
<text x="252.7" y="506.1" font-size="6.5" fill="#4d4d4d" text-anchor="middle" stroke="#4d4d4d" stroke-width="0.16">-10</text>
<line x1="262.4" y1="496.8" x2="262.4" y2="498.8" stroke="#a8a8a8" stroke-width="0.7"/>
<text x="262.4" y="506.1" font-size="6.5" fill="#4d4d4d" text-anchor="middle" stroke="#4d4d4d" stroke-width="0.16">-5</text>
<line x1="272.2" y1="496.8" x2="272.2" y2="498.8" stroke="#a8a8a8" stroke-width="0.7"/>
<text x="272.2" y="506.1" font-size="6.5" fill="#4d4d4d" text-anchor="middle" stroke="#4d4d4d" stroke-width="0.16">0</text>
<line x1="281.9" y1="496.8" x2="281.9" y2="498.8" stroke="#a8a8a8" stroke-width="0.7"/>
<text x="281.9" y="506.1" font-size="6.5" fill="#4d4d4d" text-anchor="middle" stroke="#4d4d4d" stroke-width="0.16">5</text>
<text x="266.4" y="515.1" font-size="7.5" fill="#000" text-anchor="middle" stroke="#000" stroke-width="0.16">UMAP_1</text>
<text x="227.4" y="467.2" font-size="7.5" fill="#000" text-anchor="middle" stroke="#000" stroke-width="0.16" transform="rotate(-90 227.4 467.2)">UMAP_2</text>
<text x="7" y="560.9" font-size="7.8" fill="#000" text-anchor="start" stroke="#000" stroke-width="0.16">Day 21</text>
<g>
<path d="M82.6 531.4L83.1 545L85.5 545.9L86.9 547L88.8 553.2L92.1 558.6L96.5 556.7L102.5 555L103.4 553.3L102.3 552.3L99.8 551.9L98.3 550.9L98.5 544.5L97.9 542.1L94.6 538.6L93.7 536.4L93.6 534.1L92.7 532L90.9 529.9L88.8 528.4L86.6 527.7L84.8 528L83.3 529.2L82.6 531.4Z" fill="#7248f6" fill-opacity="1.0"/>
<path d="M83.2 537.1L82.8 537.3L83.1 545L85.5 545.9L86.9 547L89.1 553.3L89.9 552.2L90.2 548.1L88.9 544L84.9 538.4L83.2 537.1Z" fill="#966eee" fill-opacity="0.7"/>
<path d="M80.4 545.5L79.8 548.9L81 551.9L83.3 552.7L84.7 552.2L86.1 550.6L86.6 548.1L86 546.1L84.4 544.9L82.5 544.7L80.4 545.5Z" fill="#b79ee2" fill-opacity="0.9"/>
<path d="M94 559L92.5 558.4L91.9 561L90 565.2L94.3 567.6L95.4 566.1L95.8 564.2L94 559Z" fill="#b79ee2" fill-opacity="0.9"/>
<path d="M84.9 571.9L84.2 574.3L84.7 577.1L87.2 577.4L94.9 579.6L95.2 578.6L92.7 577.6L91.3 576.2L90.9 573.9L87.8 573.3L86.3 572.1L84.9 571.9Z" fill="#b79ee2" fill-opacity="0.9"/>
<path transform="scale(.5)" stroke="#d3d3d3" stroke-width="2" d="M167 1082h2m-41 3h2m33 6h2m3 2h2m-2 3h2m-7 3h2m5 2h2m-9 2h2m21 20h2m-5 8h2m-15 17h2m1 4h2m2 0h2m-1 1h2m3 2h2m-4 1h2"/>
<path transform="scale(.5)" stroke="#ccc4d8" stroke-width="2" d="M166 1079h2m15 52h2"/>
<path transform="scale(.5)" stroke="#c4b4dc" stroke-width="2" d="M166 1076h2m-2 3h2m3 7h2m-5 2h2m4 2h2m-3 3h2m-14 2h2m-3 1h2m4 0h2m10 0h2m-12 3h2m13 55h2"/>
<path transform="scale(.5)" stroke="#bba5e0" stroke-width="2" d="M166 1085h2m1 0h2m-4 2h2m20 1h2m-17 2h2m-7 1h2m3 0h2m-15 3h2m8 0h2m5 9h2m3 5h2m3 6h2m-5 3h2m-3 3h2m0 0h2m0 5h2m-2 8h2m-17 18h2m-3 3h2m0 0h2m1 1h2m2 1h2"/>
<path transform="scale(.5)" stroke="#b296e4" stroke-width="2" d="M184 1067h2m-11 8h2m-6 6h2m1 0h2m-48 3h2m50 1h2m0 1h2m-4 5h2m-17 1h2m12 5h2m-15 2h2m0 0h2m1 1h2m-5 1h2m22 0h2m-4 2h2m-26 1h2m32 1h2m-2 3h2m-7 1h2m-13 1h2m9 0h2m-7 2h2m2 0h2m-11 15h2m0 0h2m-8 2h2m4 0h2m-5 3h2m2 0h2m-19 17h2m6 1h2m-7 1h2m1 4h2m7 2h2"/>
<path transform="scale(.5)" stroke="#a886e8" stroke-width="2" d="M168 1063h2m3 0h2m-3 3h2m5 0h2m-2 5h2m2 6h2m-13 6h2m-46 1h2m40 0h2m1 0h2m16 0h2m-18 4h2m-10 1h2m16 0h2m-15 2h2m0 2h2m16 0h2m-24 1h2m18 2h2m-1 5h2m-15 4h2m22 0h2m-12 1h2m-5 3h2m5 2h2m-13 14h2"/>
<path transform="scale(.5)" stroke="#9d77ec" stroke-width="2" d="M179 1063h2m-6 14h2m-10 1h2m0 3h2m12 1h2m-17 4h2m18 0h2m4 0h2m-29 1h2m-2 1h2m22 2h2m-16 1h2m-6 3h2m13 1h2m-12 2h2m4 0h2m-15 1h2m16 16h2"/>
<path transform="scale(.5)" stroke="#9068ef" stroke-width="2" d="M182 1083h2m-14 1h2m-5 1h2m4 1h2m15 2h2m-16 3h2m-2 1h2m-5 1h2m19 1h2m-21 1h2m0 0h2m3 4h2m-6 1h2m6 11h2m9 0h2"/>
<path transform="scale(.5)" stroke="#8258f3" stroke-width="2" d="M182 1065h2m-17 6h2m10 0h2m3 3h2m-15 1h2m13 0h2m-7 1h2m2 0h2m-9 1h2m-13 2h2m22 4h2m-15 1h2m-8 2h2m3 1h2m11 0h2m-1 0h2m0 0h2m-22 1h2m-2 1h2m19 1h2m-21 3h2m9 2h2m-13 1h2m4 0h2m1 0h2m-9 1h2m16 1h2m-9 1h2m-3 1h2m-10 7h2m2 1h2m0 0h2"/>
<path transform="scale(.5)" stroke="#7248f6" stroke-width="2" d="M171 1057h2m3 1h2m-10 1h2m7 2h2m-1 0h2m-14 2h2m8 0h2m0 0h2m1 0h2m-10 2h2m0 0h2m-9 2h2m6 0h2m-3 2h2m5 0h2m-6 1h2m3 0h2m0 0h2m-11 1h2m-1 0h2m-14 2h2m11 2h2m-6 1h2m4 0h2m-4 6h2m-6 1h2m-1 0h2m-1 1h2m0 1h2m-4 2h2m17 2h2m-6 2h2m1 3h2m-13 1h2m10 0h2m-5 1h2m-10 2h2m-7 1h2m10 0h2m-11 2h2m6 3h2m5 0h2m-6 1h2m-7 1h2m8 0h2m-9 6h2"/>
<path transform="scale(.5)" stroke="#5e36f9" stroke-width="2" d="M170 1058h2m-3 4h2m6 1h2m-3 1h2m1 2h2m1 0h2m-7 1h2m-7 1h2m4 3h2m-14 1h2m15 0h2m-13 1h2m1 1h2m9 1h2m-18 1h2m2 0h2m3 0h2m-8 1h2m0 0h2m7 1h2m1 1h2m-5 3h2m5 0h2m-9 4h2m3 2h2m-3 1h2m-12 1h2m6 1h2m4 1h2m-12 1h2m6 0h2m-5 2h2m4 3h2m-15 2h2m0 0h2m7 0h2m-12 3h2m10 2h2m-14 2h2m9 4h2"/>
</g>
<line x1="60.1" y1="524.9" x2="60.1" y2="584.5" stroke="#a8a8a8" stroke-width="0.9"/>
<line x1="59.7" y1="584" x2="107.7" y2="584" stroke="#a8a8a8" stroke-width="0.9"/>
<line x1="58.1" y1="534.6" x2="60.1" y2="534.6" stroke="#a8a8a8" stroke-width="0.7"/>
<text x="57.5" y="536.9" font-size="6.5" fill="#4d4d4d" text-anchor="end" stroke="#4d4d4d" stroke-width="0.16">5</text>
<line x1="58.1" y1="546.4" x2="60.1" y2="546.4" stroke="#a8a8a8" stroke-width="0.7"/>
<text x="57.5" y="548.7" font-size="6.5" fill="#4d4d4d" text-anchor="end" stroke="#4d4d4d" stroke-width="0.16">0</text>
<line x1="58.1" y1="558.1" x2="60.1" y2="558.1" stroke="#a8a8a8" stroke-width="0.7"/>
<text x="57.5" y="560.4" font-size="6.5" fill="#4d4d4d" text-anchor="end" stroke="#4d4d4d" stroke-width="0.16">-5</text>
<line x1="58.1" y1="569.9" x2="60.1" y2="569.9" stroke="#a8a8a8" stroke-width="0.7"/>
<text x="57.5" y="572.2" font-size="6.5" fill="#4d4d4d" text-anchor="end" stroke="#4d4d4d" stroke-width="0.16">-10</text>
<line x1="58.1" y1="581.6" x2="60.1" y2="581.6" stroke="#a8a8a8" stroke-width="0.7"/>
<text x="57.5" y="583.9" font-size="6.5" fill="#4d4d4d" text-anchor="end" stroke="#4d4d4d" stroke-width="0.16">-15</text>
<line x1="60.2" y1="584" x2="60.2" y2="586" stroke="#a8a8a8" stroke-width="0.7"/>
<text x="60.2" y="593.3" font-size="6.5" fill="#4d4d4d" text-anchor="middle" stroke="#4d4d4d" stroke-width="0.16">-15</text>
<line x1="69.9" y1="584" x2="69.9" y2="586" stroke="#a8a8a8" stroke-width="0.7"/>
<text x="69.9" y="593.3" font-size="6.5" fill="#4d4d4d" text-anchor="middle" stroke="#4d4d4d" stroke-width="0.16">-10</text>
<line x1="79.7" y1="584" x2="79.7" y2="586" stroke="#a8a8a8" stroke-width="0.7"/>
<text x="79.7" y="593.3" font-size="6.5" fill="#4d4d4d" text-anchor="middle" stroke="#4d4d4d" stroke-width="0.16">-5</text>
<line x1="89.4" y1="584" x2="89.4" y2="586" stroke="#a8a8a8" stroke-width="0.7"/>
<text x="89.4" y="593.3" font-size="6.5" fill="#4d4d4d" text-anchor="middle" stroke="#4d4d4d" stroke-width="0.16">0</text>
<line x1="99.2" y1="584" x2="99.2" y2="586" stroke="#a8a8a8" stroke-width="0.7"/>
<text x="99.2" y="593.3" font-size="6.5" fill="#4d4d4d" text-anchor="middle" stroke="#4d4d4d" stroke-width="0.16">5</text>
<text x="83.6" y="602.3" font-size="7.5" fill="#000" text-anchor="middle" stroke="#000" stroke-width="0.16">UMAP_1</text>
<text x="44.6" y="554.5" font-size="7.5" fill="#000" text-anchor="middle" stroke="#000" stroke-width="0.16" transform="rotate(-90 44.6 554.5)">UMAP_2</text>
<g>
<path d="M174.4 531.4L174.9 545L177.3 545.9L178.7 547L180.6 553.2L183.9 558.6L188.3 556.7L194.3 555L195.2 553.3L194.1 552.3L191.6 551.9L190.1 550.9L190.3 544.5L189.7 542.1L186.4 538.6L185.5 536.4L185.4 534.1L184.5 532L182.7 529.9L180.6 528.4L178.4 527.7L176.6 528L175.1 529.2L174.4 531.4Z" fill="#7248f6" fill-opacity="1.0"/>
<path d="M175 537.1L174.6 537.3L174.9 545L177.3 545.9L178.7 547L180.9 553.3L181.7 552.2L182 548.1L180.7 544L176.7 538.4L175 537.1Z" fill="#966eee" fill-opacity="0.7"/>
<path d="M172.2 545.5L171.6 548.9L172.8 551.9L175.1 552.7L176.5 552.2L177.9 550.6L178.4 548.1L177.8 546.1L176.2 544.9L174.3 544.7L172.2 545.5Z" fill="#b79ee2" fill-opacity="0.9"/>
<path d="M185.8 559L184.3 558.4L183.7 561L181.8 565.2L186.1 567.6L187.2 566.1L187.6 564.2L185.8 559Z" fill="#b79ee2" fill-opacity="0.9"/>
<path d="M176.7 571.9L176 574.3L176.5 577.1L179 577.4L186.7 579.6L187 578.6L184.5 577.6L183.1 576.2L182.7 573.9L179.6 573.3L178.1 572.1L176.7 571.9Z" fill="#b79ee2" fill-opacity="0.9"/>
<path transform="scale(.5)" stroke="#d3d3d3" stroke-width="2" d="M314 1087h2m34 7h2m1 1h2m-1 0h2m-7 2h2m0 3h2m17 21h2m0 3h2m-9 4h2m3 1h2m-15 20h2m2 1h2m-7 4h2m6 2h2"/>
<path transform="scale(.5)" stroke="#ccc4d8" stroke-width="2" d="M348 1102h2m20 18h2"/>
<path transform="scale(.5)" stroke="#c4b4dc" stroke-width="2" d="M352 1082h2m3 2h2m-1 13h2m8 34h2"/>
<path transform="scale(.5)" stroke="#bba5e0" stroke-width="2" d="M359 1063h2m-7 17h2m-5 1h2m-3 1h2m-41 2h2m37 0h2m2 1h2m-1 3h2m-5 1h2m-2 1h2m-5 2h2m9 0h2m-5 1h2m0 0h2m-1 1h2m-18 1h2m3 1h2m-5 1h2m13 2h2m-3 2h2m15 0h2m-18 4h2m5 23h2m0 2h2m-1 0h2m-17 17h2m-4 2h2m0 1h2m5 3h2"/>
<path transform="scale(.5)" stroke="#b296e4" stroke-width="2" d="M350 1060h2m16 6h2m-14 5h2m-1 5h2m-10 1h2m10 5h2m-51 1h2m40 3h2m-5 2h2m2 2h2m-9 3h2m20 0h2m-28 3h2m1 0h2m3 0h2m3 0h2m18 0h2m-28 3h2m0 0h2m-1 2h2m26 6h2m-22 2h2m2 18h2m3 0h2m0 2h2m-5 2h2m-19 16h2m1 2h2m4 1h2m-10 2h2m2 1h2m-1 2h2"/>
<path transform="scale(.5)" stroke="#a886e8" stroke-width="2" d="M355 1061h2m7 2h2m-17 2h2m9 0h2m-3 4h2m0 3h2m-6 2h2m10 4h2m-19 3h2m7 3h2m-1 6h2m2 1h2m8 0h2m-21 2h2m-11 1h2m24 0h2m-31 2h2m1 3h2m23 0h2m-11 2h2m-9 1h2m16 0h2m-3 1h2m6 1h2m-19 2h2m5 1h2m-9 1h2m9 0h2m-2 2h2m-4 2h2m-9 11h2m-3 7h2m-11 21h2m2 1h2"/>
<path transform="scale(.5)" stroke="#9d77ec" stroke-width="2" d="M360 1062h2m4 9h2m-14 5h2m-6 1h2m-1 1h2m-1 5h2m22 1h2m-28 1h2m-3 2h2m1 0h2m1 0h2m0 2h2m-10 1h2m8 3h2m-3 3h2m1 4h2m-2 2h2m0 0h2m-4 2h2m24 4h2m-15 2h2"/>
<path transform="scale(.5)" stroke="#9068ef" stroke-width="2" d="M358 1058h2m-9 5h2m-2 15h2m-1 0h2m-2 1h2m-5 1h2m-1 0h2m0 1h2m0 0h2m-1 1h2m-1 2h2m-1 2h2m-2 2h2m-8 2h2m0 0h2m-1 1h2m3 1h2m-3 1h2m-1 0h2m-2 2h2m-2 1h2m-1 3h2"/>
<path transform="scale(.5)" stroke="#8258f3" stroke-width="2" d="M358 1059h2m-4 2h2m-5 8h2m2 2h2m8 2h2m-6 2h2m-16 1h2m2 2h2m0 1h2m7 1h2m1 0h2m6 1h2m-12 4h2m1 1h2m-7 5h2m-1 0h2m4 0h2m-9 1h2m-8 1h2m7 11h2m-6 3h2m3 0h2m1 0h2m9 0h2m5 1h2m-23 2h2m10 1h2m-1 0h2m-16 2h2"/>
<path transform="scale(.5)" stroke="#7248f6" stroke-width="2" d="M355 1057h2m-6 1h2m4 0h2m-10 2h2m3 0h2m-2 1h2m4 1h2m2 1h2m-11 3h2m6 1h2m-5 1h2m-10 1h2m4 1h2m-7 1h2m-3 1h2m10 1h2m-5 2h2m4 0h2m0 2h2m-17 2h2m4 1h2m0 0h2m7 1h2m0 0h2m-3 1h2m-9 2h2m-1 0h2m-6 2h2m8 0h2m-11 3h2m2 0h2m-9 2h2m4 0h2m-6 1h2m7 0h2m-11 1h2m0 0h2m-2 3h2m4 2h2m4 0h2m-2 3h2m0 2h2m-11 1h2m3 0h2m9 1h2m-2 3h2m-17 1h2m10 0h2m1 0h2m-21 1h2m3 1h2m4 0h2m3 0h2m-11 1h2m-4 2h2"/>
<path transform="scale(.5)" stroke="#5e36f9" stroke-width="2" d="M362 1061h2m-10 1h2m8 0h2m-8 4h2m0 1h2m-6 1h2m-4 1h2m1 0h2m-10 2h2m12 0h2m-12 1h2m2 1h2m-1 0h2m-4 1h2m2 0h2m-12 1h2m21 7h2m-16 1h2m12 3h2m1 8h2m-7 2h2m-6 14h2m-4 1h2m2 3h2"/>
</g>
<line x1="151.9" y1="524.9" x2="151.9" y2="584.5" stroke="#a8a8a8" stroke-width="0.9"/>
<line x1="151.5" y1="584" x2="199.5" y2="584" stroke="#a8a8a8" stroke-width="0.9"/>
<line x1="149.9" y1="534.6" x2="151.9" y2="534.6" stroke="#a8a8a8" stroke-width="0.7"/>
<text x="149.3" y="536.9" font-size="6.5" fill="#4d4d4d" text-anchor="end" stroke="#4d4d4d" stroke-width="0.16">5</text>
<line x1="149.9" y1="546.4" x2="151.9" y2="546.4" stroke="#a8a8a8" stroke-width="0.7"/>
<text x="149.3" y="548.7" font-size="6.5" fill="#4d4d4d" text-anchor="end" stroke="#4d4d4d" stroke-width="0.16">0</text>
<line x1="149.9" y1="558.1" x2="151.9" y2="558.1" stroke="#a8a8a8" stroke-width="0.7"/>
<text x="149.3" y="560.4" font-size="6.5" fill="#4d4d4d" text-anchor="end" stroke="#4d4d4d" stroke-width="0.16">-5</text>
<line x1="149.9" y1="569.9" x2="151.9" y2="569.9" stroke="#a8a8a8" stroke-width="0.7"/>
<text x="149.3" y="572.2" font-size="6.5" fill="#4d4d4d" text-anchor="end" stroke="#4d4d4d" stroke-width="0.16">-10</text>
<line x1="149.9" y1="581.6" x2="151.9" y2="581.6" stroke="#a8a8a8" stroke-width="0.7"/>
<text x="149.3" y="583.9" font-size="6.5" fill="#4d4d4d" text-anchor="end" stroke="#4d4d4d" stroke-width="0.16">-15</text>
<line x1="152" y1="584" x2="152" y2="586" stroke="#a8a8a8" stroke-width="0.7"/>
<text x="152" y="593.3" font-size="6.5" fill="#4d4d4d" text-anchor="middle" stroke="#4d4d4d" stroke-width="0.16">-15</text>
<line x1="161.7" y1="584" x2="161.7" y2="586" stroke="#a8a8a8" stroke-width="0.7"/>
<text x="161.7" y="593.3" font-size="6.5" fill="#4d4d4d" text-anchor="middle" stroke="#4d4d4d" stroke-width="0.16">-10</text>
<line x1="171.5" y1="584" x2="171.5" y2="586" stroke="#a8a8a8" stroke-width="0.7"/>
<text x="171.5" y="593.3" font-size="6.5" fill="#4d4d4d" text-anchor="middle" stroke="#4d4d4d" stroke-width="0.16">-5</text>
<line x1="181.2" y1="584" x2="181.2" y2="586" stroke="#a8a8a8" stroke-width="0.7"/>
<text x="181.2" y="593.3" font-size="6.5" fill="#4d4d4d" text-anchor="middle" stroke="#4d4d4d" stroke-width="0.16">0</text>
<line x1="191" y1="584" x2="191" y2="586" stroke="#a8a8a8" stroke-width="0.7"/>
<text x="191" y="593.3" font-size="6.5" fill="#4d4d4d" text-anchor="middle" stroke="#4d4d4d" stroke-width="0.16">5</text>
<text x="175.4" y="602.3" font-size="7.5" fill="#000" text-anchor="middle" stroke="#000" stroke-width="0.16">UMAP_1</text>
<text x="136.4" y="554.5" font-size="7.5" fill="#000" text-anchor="middle" stroke="#000" stroke-width="0.16" transform="rotate(-90 136.4 554.5)">UMAP_2</text>
<g>
<path d="M266.2 531.4L266.7 545L269.1 545.9L270.5 547L272.4 553.2L275.7 558.6L280.1 556.7L286.1 555L287 553.3L285.9 552.3L283.4 551.9L281.9 550.9L282.1 544.5L281.5 542.1L278.2 538.6L277.3 536.4L277.2 534.1L276.3 532L274.5 529.9L272.4 528.4L270.2 527.7L268.4 528L266.9 529.2L266.2 531.4Z" fill="#7248f6" fill-opacity="1.0"/>
<path d="M266.8 537.1L266.4 537.3L266.7 545L269.1 545.9L270.5 547L272.7 553.3L273.5 552.2L273.8 548.1L272.5 544L268.5 538.4L266.8 537.1Z" fill="#966eee" fill-opacity="0.7"/>
<path d="M264 545.5L263.4 548.9L264.6 551.9L266.9 552.7L268.3 552.2L269.7 550.6L270.2 548.1L269.6 546.1L268 544.9L266.1 544.7L264 545.5Z" fill="#b79ee2" fill-opacity="0.9"/>
<path d="M277.6 559L276.1 558.4L275.5 561L273.6 565.2L277.9 567.6L279 566.1L279.4 564.2L277.6 559Z" fill="#b79ee2" fill-opacity="0.9"/>
<path d="M268.5 571.9L267.8 574.3L268.3 577.1L270.8 577.4L278.5 579.6L278.8 578.6L276.3 577.6L274.9 576.2L274.5 573.9L271.4 573.3L269.9 572.1L268.5 571.9Z" fill="#b79ee2" fill-opacity="0.9"/>
<path transform="scale(.5)" stroke="#d3d3d3" stroke-width="2" d="M496 1084h2m-2 1h2m31 7h2m3 6h2m-7 4h2m21 24h2m2 0h2m-11 26h2m-2 4h2"/>
<path transform="scale(.5)" stroke="#ccc4d8" stroke-width="2" d="M536 1078h2"/>
<path transform="scale(.5)" stroke="#c4b4dc" stroke-width="2" d="M537 1085h2m-5 3h2m3 2h2m-6 11h2m14 24h2m-11 23h2m-4 2h2m-1 2h2m4 1h2"/>
<path transform="scale(.5)" stroke="#bba5e0" stroke-width="2" d="M539 1056h2m11 12h2m-12 4h2m-10 6h2m1 1h2m0 3h2m-3 1h2m-43 3h2m62 0h2m-27 3h2m-3 1h2m9 0h2m-18 1h2m8 0h2m-12 2h2m6 0h2m-7 2h2m-1 0h2m-9 1h2m13 0h2m-9 1h2m-5 1h2m-6 1h2m2 0h2m8 0h2m-1 1h2m23 7h2m-19 15h2m0 2h2m-3 1h2m-3 1h2m-4 5h2m4 3h2m-19 14h2m-5 2h2m8 0h2m2 3h2m-5 2h2m0 0h2m-2 1h2"/>
<path transform="scale(.5)" stroke="#b296e4" stroke-width="2" d="M544 1058h2m-4 7h2m8 10h2m-1 6h2m3 0h2m-15 3h2m-6 1h2m-5 4h2m-10 2h2m-1 0h2m22 0h2m-21 2h2m3 1h2m19 0h2m-36 4h2m7 4h2m-10 1h2m36 3h2m-8 2h2m-10 3h2m-4 10h2m-1 0h2m-1 2h2m-6 6h2m3 0h2m-5 1h2m-13 16h2m3 5h2m7 6h2"/>
<path transform="scale(.5)" stroke="#a886e8" stroke-width="2" d="M535 1057h2m5 4h2m6 3h2m-6 3h2m-15 7h2m12 1h2m-14 1h2m3 1h2m10 3h2m-17 6h2m2 2h2m-14 3h2m11 2h2m6 0h2m7 0h2m1 0h2m-13 5h2m7 2h2m-8 1h2m-10 1h2m22 6h2m-8 1h2m-11 5h2m-20 35h2"/>
<path transform="scale(.5)" stroke="#9d77ec" stroke-width="2" d="M541 1065h2m1 9h2m-11 4h2m11 0h2m-16 2h2m3 5h2m-4 5h2m4 0h2m-2 1h2m-5 1h2m7 1h2m-7 1h2m0 0h2m-3 3h2m9 0h2m-19 5h2m6 3h2m23 2h2"/>
<path transform="scale(.5)" stroke="#9068ef" stroke-width="2" d="M542 1057h2m-6 9h2m8 0h2m6 12h2m-21 1h2m-2 4h2m5 1h2m-12 1h2m0 2h2m-1 1h2m3 0h2m0 1h2m-6 4h2m16 0h2m-18 2h2m-2 1h2m-2 2h2m-1 3h2m-1 1h2m-1 0h2"/>
<path transform="scale(.5)" stroke="#8258f3" stroke-width="2" d="M534 1059h2m8 1h2m0 1h2m1 2h2m-12 5h2m6 0h2m1 1h2m-18 5h2m15 0h2m-9 2h2m2 0h2m3 0h2m-22 2h2m3 0h2m-7 1h2m10 0h2m-11 3h2m8 0h2m-12 1h2m19 1h2m-20 2h2m13 0h2m6 1h2m-20 3h2m7 4h2m-13 1h2m4 0h2m11 0h2m-11 1h2m7 0h2m-1 7h2m-13 4h2m-1 0h2m16 0h2m-12 5h2m-10 3h2"/>
<path transform="scale(.5)" stroke="#7248f6" stroke-width="2" d="M538 1056h2m4 3h2m-6 2h2m2 0h2m-1 0h2m3 4h2m-13 1h2m-2 1h2m0 0h2m-5 1h2m8 0h2m-11 2h2m8 0h2m0 1h2m-20 1h2m1 0h2m-5 3h2m2 0h2m12 0h2m-17 1h2m14 0h2m-7 1h2m-8 1h2m-3 1h2m5 0h2m0 0h2m7 1h2m-19 3h2m1 0h2m6 0h2m-8 1h2m6 0h2m5 1h2m-16 1h2m13 0h2m-13 1h2m-1 1h2m-13 2h2m2 0h2m16 2h2m-14 2h2m-6 2h2m2 1h2m7 0h2m-8 2h2m-8 1h2m0 0h2m-2 1h2m-4 1h2m2 1h2m3 4h2m-2 1h2m-4 1h2m2 1h2m-6 3h2"/>
<path transform="scale(.5)" stroke="#5e36f9" stroke-width="2" d="M548 1067h2m0 0h2m-3 1h2m1 2h2m-7 2h2m0 0h2m-14 1h2m13 1h2m-15 1h2m-2 1h2m11 0h2m-1 3h2m-10 1h2m5 0h2m-9 1h2m11 1h2m-17 2h2m12 0h2m0 0h2m-12 2h2m7 1h2m-1 3h2m-13 3h2m10 0h2m-11 5h2m8 3h2m9 6h2m-21 1h2m5 2h2m-9 3h2"/>
</g>
<line x1="243.7" y1="524.9" x2="243.7" y2="584.5" stroke="#a8a8a8" stroke-width="0.9"/>
<line x1="243.3" y1="584" x2="291.3" y2="584" stroke="#a8a8a8" stroke-width="0.9"/>
<line x1="241.7" y1="534.6" x2="243.7" y2="534.6" stroke="#a8a8a8" stroke-width="0.7"/>
<text x="241.1" y="536.9" font-size="6.5" fill="#4d4d4d" text-anchor="end" stroke="#4d4d4d" stroke-width="0.16">5</text>
<line x1="241.7" y1="546.4" x2="243.7" y2="546.4" stroke="#a8a8a8" stroke-width="0.7"/>
<text x="241.1" y="548.7" font-size="6.5" fill="#4d4d4d" text-anchor="end" stroke="#4d4d4d" stroke-width="0.16">0</text>
<line x1="241.7" y1="558.1" x2="243.7" y2="558.1" stroke="#a8a8a8" stroke-width="0.7"/>
<text x="241.1" y="560.4" font-size="6.5" fill="#4d4d4d" text-anchor="end" stroke="#4d4d4d" stroke-width="0.16">-5</text>
<line x1="241.7" y1="569.9" x2="243.7" y2="569.9" stroke="#a8a8a8" stroke-width="0.7"/>
<text x="241.1" y="572.2" font-size="6.5" fill="#4d4d4d" text-anchor="end" stroke="#4d4d4d" stroke-width="0.16">-10</text>
<line x1="241.7" y1="581.6" x2="243.7" y2="581.6" stroke="#a8a8a8" stroke-width="0.7"/>
<text x="241.1" y="583.9" font-size="6.5" fill="#4d4d4d" text-anchor="end" stroke="#4d4d4d" stroke-width="0.16">-15</text>
<line x1="243.8" y1="584" x2="243.8" y2="586" stroke="#a8a8a8" stroke-width="0.7"/>
<text x="243.8" y="593.3" font-size="6.5" fill="#4d4d4d" text-anchor="middle" stroke="#4d4d4d" stroke-width="0.16">-15</text>
<line x1="253.5" y1="584" x2="253.5" y2="586" stroke="#a8a8a8" stroke-width="0.7"/>
<text x="253.5" y="593.3" font-size="6.5" fill="#4d4d4d" text-anchor="middle" stroke="#4d4d4d" stroke-width="0.16">-10</text>
<line x1="263.2" y1="584" x2="263.2" y2="586" stroke="#a8a8a8" stroke-width="0.7"/>
<text x="263.2" y="593.3" font-size="6.5" fill="#4d4d4d" text-anchor="middle" stroke="#4d4d4d" stroke-width="0.16">-5</text>
<line x1="273" y1="584" x2="273" y2="586" stroke="#a8a8a8" stroke-width="0.7"/>
<text x="273" y="593.3" font-size="6.5" fill="#4d4d4d" text-anchor="middle" stroke="#4d4d4d" stroke-width="0.16">0</text>
<line x1="282.8" y1="584" x2="282.8" y2="586" stroke="#a8a8a8" stroke-width="0.7"/>
<text x="282.8" y="593.3" font-size="6.5" fill="#4d4d4d" text-anchor="middle" stroke="#4d4d4d" stroke-width="0.16">5</text>
<text x="267.2" y="602.3" font-size="7.5" fill="#000" text-anchor="middle" stroke="#000" stroke-width="0.16">UMAP_1</text>
<text x="228.2" y="554.5" font-size="7.5" fill="#000" text-anchor="middle" stroke="#000" stroke-width="0.16" transform="rotate(-90 228.2 554.5)">UMAP_2</text>
<text x="303" y="266.2" font-size="7.9" fill="#000" text-anchor="start" stroke="#000" stroke-width="0.16">tdTomato</text>
<rect x="308.7" y="271.8" width="8.5" height="42.2" fill="url(#lg)"/>
<line x1="308.7" y1="273.7" x2="310.4" y2="273.7" stroke="#fff" stroke-width="0.5"/>
<line x1="315.5" y1="273.7" x2="317.2" y2="273.7" stroke="#fff" stroke-width="0.5"/>
<text x="320.9" y="276" font-size="6.5" fill="#333" text-anchor="start" stroke="#333" stroke-width="0.16">6</text>
<line x1="308.7" y1="287.4" x2="310.4" y2="287.4" stroke="#fff" stroke-width="0.5"/>
<line x1="315.5" y1="287.4" x2="317.2" y2="287.4" stroke="#fff" stroke-width="0.5"/>
<text x="320.9" y="289.7" font-size="6.5" fill="#333" text-anchor="start" stroke="#333" stroke-width="0.16">4</text>
<line x1="308.7" y1="301.2" x2="310.4" y2="301.2" stroke="#fff" stroke-width="0.5"/>
<line x1="315.5" y1="301.2" x2="317.2" y2="301.2" stroke="#fff" stroke-width="0.5"/>
<text x="320.9" y="303.5" font-size="6.5" fill="#333" text-anchor="start" stroke="#333" stroke-width="0.16">2</text>
<line x1="308.7" y1="314.5" x2="310.4" y2="314.5" stroke="#fff" stroke-width="0.5"/>
<line x1="315.5" y1="314.5" x2="317.2" y2="314.5" stroke="#fff" stroke-width="0.5"/>
<text x="320.9" y="316.8" font-size="6.5" fill="#333" text-anchor="start" stroke="#333" stroke-width="0.16">0</text>
<text x="356.2" y="255.7" font-size="8.5" fill="#000" text-anchor="start" font-weight="bold">d</text>
<rect x="394.8" y="271.1" width="237" height="245.4" fill="#ebebeb"/>
<line x1="432.6" y1="271.1" x2="432.6" y2="516.5" stroke="#f4f4f4" stroke-width="0.6"/>
<line x1="394.8" y1="477.5" x2="631.8" y2="477.5" stroke="#f4f4f4" stroke-width="0.6"/>
<line x1="486.6" y1="271.1" x2="486.6" y2="516.5" stroke="#f4f4f4" stroke-width="0.6"/>
<line x1="394.8" y1="421.7" x2="631.8" y2="421.7" stroke="#f4f4f4" stroke-width="0.6"/>
<line x1="540.6" y1="271.1" x2="540.6" y2="516.5" stroke="#f4f4f4" stroke-width="0.6"/>
<line x1="394.8" y1="365.9" x2="631.8" y2="365.9" stroke="#f4f4f4" stroke-width="0.6"/>
<line x1="594.6" y1="271.1" x2="594.6" y2="516.5" stroke="#f4f4f4" stroke-width="0.6"/>
<line x1="394.8" y1="310.1" x2="631.8" y2="310.1" stroke="#f4f4f4" stroke-width="0.6"/>
<line x1="405.6" y1="271.1" x2="405.6" y2="516.5" stroke="#fafafa" stroke-width="1.1"/>
<line x1="394.8" y1="505.4" x2="631.8" y2="505.4" stroke="#fafafa" stroke-width="1.1"/>
<line x1="405.6" y1="516.5" x2="405.6" y2="518.5" stroke="#333" stroke-width="0.8"/>
<line x1="392.8" y1="505.4" x2="394.8" y2="505.4" stroke="#333" stroke-width="0.8"/>
<text x="405.6" y="527" font-size="6.4" fill="#555" text-anchor="middle">0</text>
<text x="391.2" y="507.6" font-size="6.4" fill="#555" text-anchor="end">0</text>
<line x1="459.6" y1="271.1" x2="459.6" y2="516.5" stroke="#fafafa" stroke-width="1.1"/>
<line x1="394.8" y1="449.6" x2="631.8" y2="449.6" stroke="#fafafa" stroke-width="1.1"/>
<line x1="459.6" y1="516.5" x2="459.6" y2="518.5" stroke="#333" stroke-width="0.8"/>
<line x1="392.8" y1="449.6" x2="394.8" y2="449.6" stroke="#333" stroke-width="0.8"/>
<text x="459.6" y="527" font-size="6.4" fill="#555" text-anchor="middle">25</text>
<text x="391.2" y="451.8" font-size="6.4" fill="#555" text-anchor="end">25</text>
<line x1="513.6" y1="271.1" x2="513.6" y2="516.5" stroke="#fafafa" stroke-width="1.1"/>
<line x1="394.8" y1="393.8" x2="631.8" y2="393.8" stroke="#fafafa" stroke-width="1.1"/>
<line x1="513.6" y1="516.5" x2="513.6" y2="518.5" stroke="#333" stroke-width="0.8"/>
<line x1="392.8" y1="393.8" x2="394.8" y2="393.8" stroke="#333" stroke-width="0.8"/>
<text x="513.6" y="527" font-size="6.4" fill="#555" text-anchor="middle">50</text>
<text x="391.2" y="396" font-size="6.4" fill="#555" text-anchor="end">50</text>
<line x1="567.6" y1="271.1" x2="567.6" y2="516.5" stroke="#fafafa" stroke-width="1.1"/>
<line x1="394.8" y1="338" x2="631.8" y2="338" stroke="#fafafa" stroke-width="1.1"/>
<line x1="567.6" y1="516.5" x2="567.6" y2="518.5" stroke="#333" stroke-width="0.8"/>
<line x1="392.8" y1="338" x2="394.8" y2="338" stroke="#333" stroke-width="0.8"/>
<text x="567.6" y="527" font-size="6.4" fill="#555" text-anchor="middle">75</text>
<text x="391.2" y="340.2" font-size="6.4" fill="#555" text-anchor="end">75</text>
<line x1="621.6" y1="271.1" x2="621.6" y2="516.5" stroke="#fafafa" stroke-width="1.1"/>
<line x1="394.8" y1="282.2" x2="631.8" y2="282.2" stroke="#fafafa" stroke-width="1.1"/>
<line x1="621.6" y1="516.5" x2="621.6" y2="518.5" stroke="#333" stroke-width="0.8"/>
<line x1="392.8" y1="282.2" x2="394.8" y2="282.2" stroke="#333" stroke-width="0.8"/>
<text x="621.6" y="527" font-size="6.4" fill="#555" text-anchor="middle">100</text>
<text x="391.2" y="284.4" font-size="6.4" fill="#555" text-anchor="end">100</text>
<line x1="405.6" y1="505.4" x2="621.6" y2="282.2" stroke="#4a4a4a" stroke-width="1.2" stroke-dasharray="6.6 4.9"/>
<circle cx="577.8" cy="313.5" r="2.4" fill="#F8766D"/>
<circle cx="575.5" cy="324.9" r="2.4" fill="#F8766D"/>
<circle cx="569" cy="336.9" r="2.4" fill="#F8766D"/>
<circle cx="569.4" cy="328.7" r="2.4" fill="#00BA38"/>
<circle cx="571" cy="337.1" r="2.4" fill="#00BA38"/>
<circle cx="571" cy="345.6" r="2.4" fill="#00BA38"/>
<circle cx="579.6" cy="339.2" r="2.4" fill="#619CFF"/>
<circle cx="547.7" cy="351.7" r="2.4" fill="#619CFF"/>
<circle cx="534.6" cy="359.9" r="2.4" fill="#619CFF"/>
<text x="515" y="540.9" font-size="10.3" fill="#1a1a1a" text-anchor="middle" stroke="#1a1a1a" stroke-width="0.16">%tdTomato+ of alveolar fibroblasts</text>
<text x="379" y="392.4" font-size="10.35" fill="#1a1a1a" text-anchor="middle" stroke="#1a1a1a" stroke-width="0.16" transform="rotate(-90 379 392.4)">%tdTomato+ of fibrotic fibroblasts</text>
<circle cx="643.5" cy="285.7" r="2.5" fill="#619CFF"/>
<text x="651.6" y="288.6" font-size="10" fill="#619CFF" text-anchor="start" stroke="#619CFF" stroke-width="0.16">Day 7</text>
<circle cx="643.5" cy="298.1" r="2.5" fill="#F8766D"/>
<text x="651.6" y="301" font-size="10" fill="#F8766D" text-anchor="start" stroke="#F8766D" stroke-width="0.16">Day 14</text>
<circle cx="643.5" cy="310.6" r="2.5" fill="#00BA38"/>
<text x="651.6" y="313.5" font-size="10" fill="#00BA38" text-anchor="start" stroke="#00BA38" stroke-width="0.16">Day 21</text>
</svg></body></html>
